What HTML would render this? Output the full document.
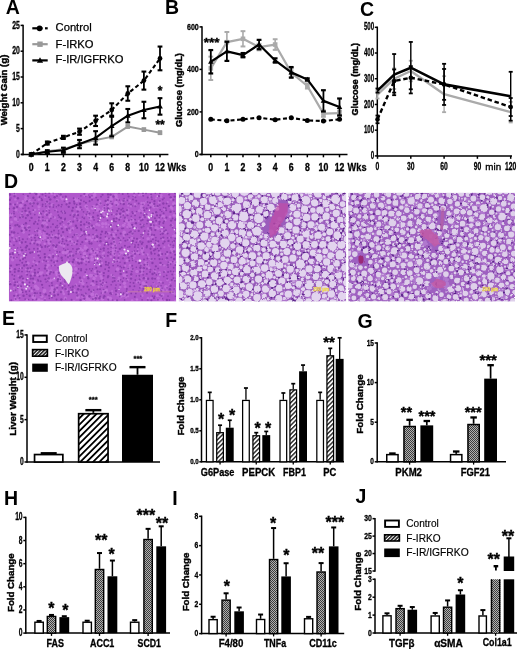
<!DOCTYPE html>
<html><head><meta charset="utf-8"><title>Figure</title>
<style>html,body{margin:0;padding:0;background:#fff;}svg{display:block;filter:blur(0.3px);font-family:"Liberation Sans",sans-serif;}</style>
</head><body>
<svg width="520" height="649" viewBox="0 0 520 649">
<defs>
<pattern id="hatchE" patternUnits="userSpaceOnUse" width="4.5" height="4.5" patternTransform="rotate(45)"><rect width="4.5" height="4.5" fill="#fff"/><rect width="1.8" height="4.5" fill="#000"/></pattern>
<pattern id="hatchF" patternUnits="userSpaceOnUse" width="3.2" height="3.2" patternTransform="rotate(45)"><rect width="3.2" height="3.2" fill="#fff"/><rect width="1.4" height="3.2" fill="#222"/></pattern>
<pattern id="hatchL" patternUnits="userSpaceOnUse" width="2.6" height="2.6" patternTransform="rotate(45)"><rect width="2.6" height="2.6" fill="#fff"/><rect width="1.6" height="2.6" fill="#222"/></pattern>
<pattern id="hatchG" patternUnits="userSpaceOnUse" width="2" height="2"><rect width="2" height="2" fill="#b0b0b0"/><rect width="1" height="1" fill="#3c3c3c"/><rect x="1" y="1" width="1" height="1" fill="#3c3c3c"/></pattern>
<clipPath id="clip11"><rect x="8.8" y="192.8" width="167.4" height="108.8"/></clipPath>
<clipPath id="clip22"><rect x="178.8" y="192.8" width="167.4" height="108.8"/></clipPath>
<clipPath id="clip33"><rect x="348.2" y="192.8" width="166.8" height="108.8"/></clipPath>
<filter id="soft" x="0" y="0" width="1" height="1"><feGaussianBlur stdDeviation="0.55"/></filter>
<filter id="wobble" x="0" y="0" width="1" height="1"><feTurbulence type="fractalNoise" baseFrequency="0.28" numOctaves="2" seed="3" result="n"/><feDisplacementMap in="SourceGraphic" in2="n" scale="2.6" xChannelSelector="R" yChannelSelector="G" result="d"/><feGaussianBlur in="d" stdDeviation="0.5"/></filter>
</defs>
<rect width="520" height="649" fill="#fff"/>
<text x="5.7" y="13.6" font-size="19.5" font-weight="bold" text-anchor="start" fill="#000">A</text>
<line x1="23.1" y1="24.65" x2="23.1" y2="155.15" stroke="#000" stroke-width="1.5"/>
<line x1="20.6" y1="154.4" x2="23.1" y2="154.4" stroke="#000" stroke-width="1.5"/>
<text font-size="10.4" font-weight="bold" text-anchor="end" fill="#000" stroke="#000" stroke-width="0.3" transform="translate(19.9 157.52) scale(0.66 1)">0</text>
<line x1="20.6" y1="128.6" x2="23.1" y2="128.6" stroke="#000" stroke-width="1.5"/>
<text font-size="10.4" font-weight="bold" text-anchor="end" fill="#000" stroke="#000" stroke-width="0.3" transform="translate(19.9 131.72) scale(0.66 1)">5</text>
<line x1="20.6" y1="102.8" x2="23.1" y2="102.8" stroke="#000" stroke-width="1.5"/>
<text font-size="10.4" font-weight="bold" text-anchor="end" fill="#000" stroke="#000" stroke-width="0.3" transform="translate(19.9 105.92) scale(0.66 1)">10</text>
<line x1="20.6" y1="77" x2="23.1" y2="77" stroke="#000" stroke-width="1.5"/>
<text font-size="10.4" font-weight="bold" text-anchor="end" fill="#000" stroke="#000" stroke-width="0.3" transform="translate(19.9 80.12) scale(0.66 1)">15</text>
<line x1="20.6" y1="51.2" x2="23.1" y2="51.2" stroke="#000" stroke-width="1.5"/>
<text font-size="10.4" font-weight="bold" text-anchor="end" fill="#000" stroke="#000" stroke-width="0.3" transform="translate(19.9 54.32) scale(0.66 1)">20</text>
<line x1="20.6" y1="25.4" x2="23.1" y2="25.4" stroke="#000" stroke-width="1.5"/>
<text font-size="10.4" font-weight="bold" text-anchor="end" fill="#000" stroke="#000" stroke-width="0.3" transform="translate(19.9 28.52) scale(0.66 1)">25</text>
<line x1="21" y1="154.4" x2="168.4" y2="154.4" stroke="#000" stroke-width="1.5"/>
<line x1="31.2" y1="154.4" x2="31.2" y2="157.3" stroke="#000" stroke-width="1.5"/>
<text font-size="10.4" font-weight="bold" text-anchor="middle" fill="#000" stroke="#000" stroke-width="0.35" transform="translate(31.2 171) scale(0.84 1)">0</text>
<line x1="47.3" y1="154.4" x2="47.3" y2="157.3" stroke="#000" stroke-width="1.5"/>
<text font-size="10.4" font-weight="bold" text-anchor="middle" fill="#000" stroke="#000" stroke-width="0.35" transform="translate(47.3 171) scale(0.84 1)">1</text>
<line x1="63.4" y1="154.4" x2="63.4" y2="157.3" stroke="#000" stroke-width="1.5"/>
<text font-size="10.4" font-weight="bold" text-anchor="middle" fill="#000" stroke="#000" stroke-width="0.35" transform="translate(63.4 171) scale(0.84 1)">2</text>
<line x1="79.5" y1="154.4" x2="79.5" y2="157.3" stroke="#000" stroke-width="1.5"/>
<text font-size="10.4" font-weight="bold" text-anchor="middle" fill="#000" stroke="#000" stroke-width="0.35" transform="translate(79.5 171) scale(0.84 1)">3</text>
<line x1="95.6" y1="154.4" x2="95.6" y2="157.3" stroke="#000" stroke-width="1.5"/>
<text font-size="10.4" font-weight="bold" text-anchor="middle" fill="#000" stroke="#000" stroke-width="0.35" transform="translate(95.6 171) scale(0.84 1)">4</text>
<line x1="111.7" y1="154.4" x2="111.7" y2="157.3" stroke="#000" stroke-width="1.5"/>
<text font-size="10.4" font-weight="bold" text-anchor="middle" fill="#000" stroke="#000" stroke-width="0.35" transform="translate(111.7 171) scale(0.84 1)">6</text>
<line x1="127.8" y1="154.4" x2="127.8" y2="157.3" stroke="#000" stroke-width="1.5"/>
<text font-size="10.4" font-weight="bold" text-anchor="middle" fill="#000" stroke="#000" stroke-width="0.35" transform="translate(127.8 171) scale(0.84 1)">8</text>
<line x1="143.9" y1="154.4" x2="143.9" y2="157.3" stroke="#000" stroke-width="1.5"/>
<text font-size="10.4" font-weight="bold" text-anchor="middle" fill="#000" stroke="#000" stroke-width="0.35" transform="translate(143.9 171) scale(0.84 1)">10</text>
<line x1="160" y1="154.4" x2="160" y2="157.3" stroke="#000" stroke-width="1.5"/>
<text font-size="10.4" font-weight="bold" text-anchor="middle" fill="#000" stroke="#000" stroke-width="0.35" transform="translate(160 171) scale(0.84 1)">12</text>
<text font-size="10" font-weight="bold" text-anchor="start" fill="#000" stroke="#000" stroke-width="0.25" transform="translate(167.4 171) scale(0.92 1)">Wks</text>
<text font-size="9.6" font-weight="bold" text-anchor="middle" fill="#000" stroke="#000" stroke-width="0.42" transform="translate(7.1 90) rotate(-90)">Weight Gain (g)</text>
<polyline points="31.2,154.4 47.3,151.3 63.4,149.24 79.5,144.08 95.6,139.95 111.7,136.86 127.8,126.54 143.9,129.63 160,132.73" fill="none" stroke="#999" stroke-width="2" stroke-linejoin="round"/>
<rect x="28.9" y="152.1" width="4.6" height="4.6" fill="#999"/>
<line x1="47.3" y1="151.3" x2="47.3" y2="150.27" stroke="#999" stroke-width="1.3"/>
<line x1="45.3" y1="150.27" x2="49.3" y2="150.27" stroke="#999" stroke-width="1.6"/>
<line x1="47.3" y1="151.3" x2="47.3" y2="152.34" stroke="#999" stroke-width="1.3"/>
<line x1="45.3" y1="152.34" x2="49.3" y2="152.34" stroke="#999" stroke-width="1.6"/>
<rect x="45" y="149" width="4.6" height="4.6" fill="#999"/>
<line x1="63.4" y1="149.24" x2="63.4" y2="148.21" stroke="#999" stroke-width="1.3"/>
<line x1="61.4" y1="148.21" x2="65.4" y2="148.21" stroke="#999" stroke-width="1.6"/>
<line x1="63.4" y1="149.24" x2="63.4" y2="150.27" stroke="#999" stroke-width="1.3"/>
<line x1="61.4" y1="150.27" x2="65.4" y2="150.27" stroke="#999" stroke-width="1.6"/>
<rect x="61.1" y="146.94" width="4.6" height="4.6" fill="#999"/>
<line x1="79.5" y1="144.08" x2="79.5" y2="142.53" stroke="#999" stroke-width="1.3"/>
<line x1="77.5" y1="142.53" x2="81.5" y2="142.53" stroke="#999" stroke-width="1.6"/>
<line x1="79.5" y1="144.08" x2="79.5" y2="145.63" stroke="#999" stroke-width="1.3"/>
<line x1="77.5" y1="145.63" x2="81.5" y2="145.63" stroke="#999" stroke-width="1.6"/>
<rect x="77.2" y="141.78" width="4.6" height="4.6" fill="#999"/>
<line x1="95.6" y1="139.95" x2="95.6" y2="138.4" stroke="#999" stroke-width="1.3"/>
<line x1="93.6" y1="138.4" x2="97.6" y2="138.4" stroke="#999" stroke-width="1.6"/>
<line x1="95.6" y1="139.95" x2="95.6" y2="141.5" stroke="#999" stroke-width="1.3"/>
<line x1="93.6" y1="141.5" x2="97.6" y2="141.5" stroke="#999" stroke-width="1.6"/>
<rect x="93.3" y="137.65" width="4.6" height="4.6" fill="#999"/>
<line x1="111.7" y1="136.86" x2="111.7" y2="135.31" stroke="#999" stroke-width="1.3"/>
<line x1="109.7" y1="135.31" x2="113.7" y2="135.31" stroke="#999" stroke-width="1.6"/>
<line x1="111.7" y1="136.86" x2="111.7" y2="138.4" stroke="#999" stroke-width="1.3"/>
<line x1="109.7" y1="138.4" x2="113.7" y2="138.4" stroke="#999" stroke-width="1.6"/>
<rect x="109.4" y="134.56" width="4.6" height="4.6" fill="#999"/>
<line x1="127.8" y1="126.54" x2="127.8" y2="124.99" stroke="#999" stroke-width="1.3"/>
<line x1="125.8" y1="124.99" x2="129.8" y2="124.99" stroke="#999" stroke-width="1.6"/>
<line x1="127.8" y1="126.54" x2="127.8" y2="128.08" stroke="#999" stroke-width="1.3"/>
<line x1="125.8" y1="128.08" x2="129.8" y2="128.08" stroke="#999" stroke-width="1.6"/>
<rect x="125.5" y="124.24" width="4.6" height="4.6" fill="#999"/>
<line x1="143.9" y1="129.63" x2="143.9" y2="128.34" stroke="#999" stroke-width="1.3"/>
<line x1="141.9" y1="128.34" x2="145.9" y2="128.34" stroke="#999" stroke-width="1.6"/>
<line x1="143.9" y1="129.63" x2="143.9" y2="130.92" stroke="#999" stroke-width="1.3"/>
<line x1="141.9" y1="130.92" x2="145.9" y2="130.92" stroke="#999" stroke-width="1.6"/>
<rect x="141.6" y="127.33" width="4.6" height="4.6" fill="#999"/>
<line x1="160" y1="132.73" x2="160" y2="131.18" stroke="#999" stroke-width="1.3"/>
<line x1="158" y1="131.18" x2="162" y2="131.18" stroke="#999" stroke-width="1.6"/>
<line x1="160" y1="132.73" x2="160" y2="134.28" stroke="#999" stroke-width="1.3"/>
<line x1="158" y1="134.28" x2="162" y2="134.28" stroke="#999" stroke-width="1.6"/>
<rect x="157.7" y="130.43" width="4.6" height="4.6" fill="#999"/>
<polyline points="31.2,154.4 47.3,143.05 63.4,137.37 79.5,131.7 95.6,120.86 111.7,110.02 127.8,93.51 143.9,80.61 160,58.42" fill="none" stroke="#000" stroke-width="2.1" stroke-linejoin="round" stroke-dasharray="4 2.6"/>
<line x1="31.2" y1="154.4" x2="31.2" y2="153.37" stroke="#000" stroke-width="1.8"/>
<line x1="28.8" y1="153.37" x2="33.6" y2="153.37" stroke="#000" stroke-width="2.1"/>
<line x1="31.2" y1="154.4" x2="31.2" y2="155.43" stroke="#000" stroke-width="1.8"/>
<line x1="28.8" y1="155.43" x2="33.6" y2="155.43" stroke="#000" stroke-width="2.1"/>
<circle cx="31.2" cy="154.4" r="2.4" fill="#000"/>
<line x1="47.3" y1="143.05" x2="47.3" y2="141.5" stroke="#000" stroke-width="1.8"/>
<line x1="44.9" y1="141.5" x2="49.7" y2="141.5" stroke="#000" stroke-width="2.1"/>
<line x1="47.3" y1="143.05" x2="47.3" y2="144.6" stroke="#000" stroke-width="1.8"/>
<line x1="44.9" y1="144.6" x2="49.7" y2="144.6" stroke="#000" stroke-width="2.1"/>
<circle cx="47.3" cy="143.05" r="2.4" fill="#000"/>
<line x1="63.4" y1="137.37" x2="63.4" y2="135.82" stroke="#000" stroke-width="1.8"/>
<line x1="61" y1="135.82" x2="65.8" y2="135.82" stroke="#000" stroke-width="2.1"/>
<line x1="63.4" y1="137.37" x2="63.4" y2="138.92" stroke="#000" stroke-width="1.8"/>
<line x1="61" y1="138.92" x2="65.8" y2="138.92" stroke="#000" stroke-width="2.1"/>
<circle cx="63.4" cy="137.37" r="2.4" fill="#000"/>
<line x1="79.5" y1="131.7" x2="79.5" y2="128.6" stroke="#000" stroke-width="1.8"/>
<line x1="77.1" y1="128.6" x2="81.9" y2="128.6" stroke="#000" stroke-width="2.1"/>
<line x1="79.5" y1="131.7" x2="79.5" y2="134.79" stroke="#000" stroke-width="1.8"/>
<line x1="77.1" y1="134.79" x2="81.9" y2="134.79" stroke="#000" stroke-width="2.1"/>
<circle cx="79.5" cy="131.7" r="2.4" fill="#000"/>
<line x1="95.6" y1="120.86" x2="95.6" y2="115.7" stroke="#000" stroke-width="1.8"/>
<line x1="93.2" y1="115.7" x2="98" y2="115.7" stroke="#000" stroke-width="2.1"/>
<line x1="95.6" y1="120.86" x2="95.6" y2="126.02" stroke="#000" stroke-width="1.8"/>
<line x1="93.2" y1="126.02" x2="98" y2="126.02" stroke="#000" stroke-width="2.1"/>
<circle cx="95.6" cy="120.86" r="2.4" fill="#000"/>
<line x1="111.7" y1="110.02" x2="111.7" y2="103.32" stroke="#000" stroke-width="1.8"/>
<line x1="109.3" y1="103.32" x2="114.1" y2="103.32" stroke="#000" stroke-width="2.1"/>
<line x1="111.7" y1="110.02" x2="111.7" y2="116.73" stroke="#000" stroke-width="1.8"/>
<line x1="109.3" y1="116.73" x2="114.1" y2="116.73" stroke="#000" stroke-width="2.1"/>
<circle cx="111.7" cy="110.02" r="2.4" fill="#000"/>
<line x1="127.8" y1="93.51" x2="127.8" y2="86.29" stroke="#000" stroke-width="1.8"/>
<line x1="125.4" y1="86.29" x2="130.2" y2="86.29" stroke="#000" stroke-width="2.1"/>
<line x1="127.8" y1="93.51" x2="127.8" y2="100.74" stroke="#000" stroke-width="1.8"/>
<line x1="125.4" y1="100.74" x2="130.2" y2="100.74" stroke="#000" stroke-width="2.1"/>
<circle cx="127.8" cy="93.51" r="2.4" fill="#000"/>
<line x1="143.9" y1="80.61" x2="143.9" y2="71.58" stroke="#000" stroke-width="1.8"/>
<line x1="141.5" y1="71.58" x2="146.3" y2="71.58" stroke="#000" stroke-width="2.1"/>
<line x1="143.9" y1="80.61" x2="143.9" y2="89.64" stroke="#000" stroke-width="1.8"/>
<line x1="141.5" y1="89.64" x2="146.3" y2="89.64" stroke="#000" stroke-width="2.1"/>
<circle cx="143.9" cy="80.61" r="2.4" fill="#000"/>
<line x1="160" y1="58.42" x2="160" y2="46.56" stroke="#000" stroke-width="1.8"/>
<line x1="157.6" y1="46.56" x2="162.4" y2="46.56" stroke="#000" stroke-width="2.1"/>
<line x1="160" y1="58.42" x2="160" y2="70.29" stroke="#000" stroke-width="1.8"/>
<line x1="157.6" y1="70.29" x2="162.4" y2="70.29" stroke="#000" stroke-width="2.1"/>
<circle cx="160" cy="58.42" r="2.4" fill="#000"/>
<polyline points="31.2,154.4 47.3,151.82 63.4,150.27 79.5,144.08 95.6,137.89 111.7,126.02 127.8,115.7 143.9,110.02 160,106.41" fill="none" stroke="#000" stroke-width="2.1" stroke-linejoin="round"/>
<polygon points="31.2,151.54 28.34,156.48 34.06,156.48" fill="#000"/>
<line x1="47.3" y1="151.82" x2="47.3" y2="150.27" stroke="#000" stroke-width="1.8"/>
<line x1="44.9" y1="150.27" x2="49.7" y2="150.27" stroke="#000" stroke-width="2.1"/>
<line x1="47.3" y1="151.82" x2="47.3" y2="153.37" stroke="#000" stroke-width="1.8"/>
<line x1="44.9" y1="153.37" x2="49.7" y2="153.37" stroke="#000" stroke-width="2.1"/>
<polygon points="47.3,148.96 44.44,153.9 50.16,153.9" fill="#000"/>
<line x1="63.4" y1="150.27" x2="63.4" y2="147.69" stroke="#000" stroke-width="1.8"/>
<line x1="61" y1="147.69" x2="65.8" y2="147.69" stroke="#000" stroke-width="2.1"/>
<line x1="63.4" y1="150.27" x2="63.4" y2="152.85" stroke="#000" stroke-width="1.8"/>
<line x1="61" y1="152.85" x2="65.8" y2="152.85" stroke="#000" stroke-width="2.1"/>
<polygon points="63.4,147.41 60.54,152.35 66.26,152.35" fill="#000"/>
<line x1="79.5" y1="144.08" x2="79.5" y2="139.95" stroke="#000" stroke-width="1.8"/>
<line x1="77.1" y1="139.95" x2="81.9" y2="139.95" stroke="#000" stroke-width="2.1"/>
<line x1="79.5" y1="144.08" x2="79.5" y2="148.21" stroke="#000" stroke-width="1.8"/>
<line x1="77.1" y1="148.21" x2="81.9" y2="148.21" stroke="#000" stroke-width="2.1"/>
<polygon points="79.5,141.22 76.64,146.16 82.36,146.16" fill="#000"/>
<line x1="95.6" y1="137.89" x2="95.6" y2="131.18" stroke="#000" stroke-width="1.8"/>
<line x1="93.2" y1="131.18" x2="98" y2="131.18" stroke="#000" stroke-width="2.1"/>
<line x1="95.6" y1="137.89" x2="95.6" y2="144.6" stroke="#000" stroke-width="1.8"/>
<line x1="93.2" y1="144.6" x2="98" y2="144.6" stroke="#000" stroke-width="2.1"/>
<polygon points="95.6,135.03 92.74,139.97 98.46,139.97" fill="#000"/>
<line x1="111.7" y1="126.02" x2="111.7" y2="115.7" stroke="#000" stroke-width="1.8"/>
<line x1="109.3" y1="115.7" x2="114.1" y2="115.7" stroke="#000" stroke-width="2.1"/>
<line x1="111.7" y1="126.02" x2="111.7" y2="136.34" stroke="#000" stroke-width="1.8"/>
<line x1="109.3" y1="136.34" x2="114.1" y2="136.34" stroke="#000" stroke-width="2.1"/>
<polygon points="111.7,123.16 108.84,128.1 114.56,128.1" fill="#000"/>
<line x1="127.8" y1="115.7" x2="127.8" y2="108.99" stroke="#000" stroke-width="1.8"/>
<line x1="125.4" y1="108.99" x2="130.2" y2="108.99" stroke="#000" stroke-width="2.1"/>
<line x1="127.8" y1="115.7" x2="127.8" y2="122.41" stroke="#000" stroke-width="1.8"/>
<line x1="125.4" y1="122.41" x2="130.2" y2="122.41" stroke="#000" stroke-width="2.1"/>
<polygon points="127.8,112.84 124.94,117.78 130.66,117.78" fill="#000"/>
<line x1="143.9" y1="110.02" x2="143.9" y2="101.77" stroke="#000" stroke-width="1.8"/>
<line x1="141.5" y1="101.77" x2="146.3" y2="101.77" stroke="#000" stroke-width="2.1"/>
<line x1="143.9" y1="110.02" x2="143.9" y2="118.28" stroke="#000" stroke-width="1.8"/>
<line x1="141.5" y1="118.28" x2="146.3" y2="118.28" stroke="#000" stroke-width="2.1"/>
<polygon points="143.9,107.16 141.04,112.1 146.76,112.1" fill="#000"/>
<line x1="160" y1="106.41" x2="160" y2="98.16" stroke="#000" stroke-width="1.8"/>
<line x1="157.6" y1="98.16" x2="162.4" y2="98.16" stroke="#000" stroke-width="2.1"/>
<line x1="160" y1="106.41" x2="160" y2="114.67" stroke="#000" stroke-width="1.8"/>
<line x1="157.6" y1="114.67" x2="162.4" y2="114.67" stroke="#000" stroke-width="2.1"/>
<polygon points="160,103.55 157.14,108.49 162.86,108.49" fill="#000"/>
<text x="160.2" y="94.82" font-size="12" font-weight="bold" text-anchor="middle" fill="#000" stroke="#000" stroke-width="0.35">*</text>
<text x="160.1" y="129.42" font-size="12" font-weight="bold" text-anchor="middle" fill="#000" stroke="#000" stroke-width="0.35">**</text>
<line x1="32.3" y1="28.3" x2="42.5" y2="28.3" stroke="#000" stroke-width="2.2"/>
<line x1="45" y1="28.3" x2="47.7" y2="28.3" stroke="#000" stroke-width="2.2"/>
<circle cx="39.6" cy="28.3" r="2.9" fill="#000"/>
<line x1="32.3" y1="44.2" x2="47.7" y2="44.2" stroke="#999" stroke-width="2.2"/>
<rect x="37.3" y="41.5" width="5.4" height="5.4" fill="#999"/>
<line x1="32.3" y1="60.4" x2="47.7" y2="60.4" stroke="#000" stroke-width="2.2"/>
<polygon points="40,57.32 36.92,62.64 43.08,62.64" fill="#000"/>
<text x="55.6" y="31.4" font-size="11.2" text-anchor="start" fill="#000" stroke="#000" stroke-width="0.25">Control</text>
<text x="55.6" y="47.7" font-size="11.2" text-anchor="start" fill="#000" stroke="#000" stroke-width="0.25">F-IRKO</text>
<text x="55.6" y="63" font-size="11.2" text-anchor="start" fill="#000" stroke="#000" stroke-width="0.25">F-IR/IGFRKO</text>
<text x="164.9" y="13.6" font-size="19.5" font-weight="bold" text-anchor="start" fill="#000">B</text>
<line x1="202" y1="26.15" x2="202" y2="155.15" stroke="#000" stroke-width="1.5"/>
<line x1="199.5" y1="154.4" x2="202" y2="154.4" stroke="#000" stroke-width="1.5"/>
<text font-size="9.6" font-weight="bold" text-anchor="end" fill="#000" stroke="#000" stroke-width="0.3" transform="translate(198.8 157.28) scale(0.74 1)">0</text>
<line x1="199.5" y1="111.9" x2="202" y2="111.9" stroke="#000" stroke-width="1.5"/>
<text font-size="9.6" font-weight="bold" text-anchor="end" fill="#000" stroke="#000" stroke-width="0.3" transform="translate(198.8 114.78) scale(0.74 1)">200</text>
<line x1="199.5" y1="69.4" x2="202" y2="69.4" stroke="#000" stroke-width="1.5"/>
<text font-size="9.6" font-weight="bold" text-anchor="end" fill="#000" stroke="#000" stroke-width="0.3" transform="translate(198.8 72.28) scale(0.74 1)">400</text>
<line x1="199.5" y1="26.9" x2="202" y2="26.9" stroke="#000" stroke-width="1.5"/>
<text font-size="9.6" font-weight="bold" text-anchor="end" fill="#000" stroke="#000" stroke-width="0.3" transform="translate(198.8 29.78) scale(0.74 1)">600</text>
<line x1="199.5" y1="154.4" x2="347.5" y2="154.4" stroke="#000" stroke-width="1.5"/>
<line x1="210.8" y1="154.4" x2="210.8" y2="157.3" stroke="#000" stroke-width="1.5"/>
<text font-size="10.4" font-weight="bold" text-anchor="middle" fill="#000" stroke="#000" stroke-width="0.35" transform="translate(210.8 171) scale(0.84 1)">0</text>
<line x1="226.89" y1="154.4" x2="226.89" y2="157.3" stroke="#000" stroke-width="1.5"/>
<text font-size="10.4" font-weight="bold" text-anchor="middle" fill="#000" stroke="#000" stroke-width="0.35" transform="translate(226.89 171) scale(0.84 1)">1</text>
<line x1="242.98" y1="154.4" x2="242.98" y2="157.3" stroke="#000" stroke-width="1.5"/>
<text font-size="10.4" font-weight="bold" text-anchor="middle" fill="#000" stroke="#000" stroke-width="0.35" transform="translate(242.98 171) scale(0.84 1)">2</text>
<line x1="259.07" y1="154.4" x2="259.07" y2="157.3" stroke="#000" stroke-width="1.5"/>
<text font-size="10.4" font-weight="bold" text-anchor="middle" fill="#000" stroke="#000" stroke-width="0.35" transform="translate(259.07 171) scale(0.84 1)">3</text>
<line x1="275.16" y1="154.4" x2="275.16" y2="157.3" stroke="#000" stroke-width="1.5"/>
<text font-size="10.4" font-weight="bold" text-anchor="middle" fill="#000" stroke="#000" stroke-width="0.35" transform="translate(275.16 171) scale(0.84 1)">4</text>
<line x1="291.25" y1="154.4" x2="291.25" y2="157.3" stroke="#000" stroke-width="1.5"/>
<text font-size="10.4" font-weight="bold" text-anchor="middle" fill="#000" stroke="#000" stroke-width="0.35" transform="translate(291.25 171) scale(0.84 1)">6</text>
<line x1="307.34" y1="154.4" x2="307.34" y2="157.3" stroke="#000" stroke-width="1.5"/>
<text font-size="10.4" font-weight="bold" text-anchor="middle" fill="#000" stroke="#000" stroke-width="0.35" transform="translate(307.34 171) scale(0.84 1)">8</text>
<line x1="323.43" y1="154.4" x2="323.43" y2="157.3" stroke="#000" stroke-width="1.5"/>
<text font-size="10.4" font-weight="bold" text-anchor="middle" fill="#000" stroke="#000" stroke-width="0.35" transform="translate(323.43 171) scale(0.84 1)">10</text>
<line x1="339.52" y1="154.4" x2="339.52" y2="157.3" stroke="#000" stroke-width="1.5"/>
<text font-size="10.4" font-weight="bold" text-anchor="middle" fill="#000" stroke="#000" stroke-width="0.35" transform="translate(339.52 171) scale(0.84 1)">12</text>
<text font-size="10" font-weight="bold" text-anchor="start" fill="#000" stroke="#000" stroke-width="0.25" transform="translate(347.6 171) scale(0.92 1)">Wks</text>
<text font-size="9.4" font-weight="bold" text-anchor="middle" fill="#000" stroke="#000" stroke-width="0.42" transform="translate(181.5 90) rotate(-90)">Glucose (mg/dL)</text>
<polyline points="210.8,68.34 226.89,42.2 242.98,38.8 259.07,47.09 275.16,44.54 291.25,72.59 307.34,85.98 323.43,113.6 339.52,113.18" fill="none" stroke="#aaa" stroke-width="2.2" stroke-linejoin="round"/>
<line x1="210.8" y1="68.34" x2="210.8" y2="56.65" stroke="#aaa" stroke-width="1.6"/>
<line x1="208.4" y1="56.65" x2="213.2" y2="56.65" stroke="#aaa" stroke-width="2"/>
<line x1="210.8" y1="68.34" x2="210.8" y2="80.03" stroke="#aaa" stroke-width="1.6"/>
<line x1="208.4" y1="80.03" x2="213.2" y2="80.03" stroke="#aaa" stroke-width="2"/>
<rect x="208.5" y="66.04" width="4.6" height="4.6" fill="#aaa"/>
<line x1="226.89" y1="42.2" x2="226.89" y2="32" stroke="#aaa" stroke-width="1.6"/>
<line x1="224.49" y1="32" x2="229.29" y2="32" stroke="#aaa" stroke-width="2"/>
<line x1="226.89" y1="42.2" x2="226.89" y2="52.4" stroke="#aaa" stroke-width="1.6"/>
<line x1="224.49" y1="52.4" x2="229.29" y2="52.4" stroke="#aaa" stroke-width="2"/>
<rect x="224.59" y="39.9" width="4.6" height="4.6" fill="#aaa"/>
<line x1="242.98" y1="38.8" x2="242.98" y2="31.15" stroke="#aaa" stroke-width="1.6"/>
<line x1="240.58" y1="31.15" x2="245.38" y2="31.15" stroke="#aaa" stroke-width="2"/>
<line x1="242.98" y1="38.8" x2="242.98" y2="46.45" stroke="#aaa" stroke-width="1.6"/>
<line x1="240.58" y1="46.45" x2="245.38" y2="46.45" stroke="#aaa" stroke-width="2"/>
<rect x="240.68" y="36.5" width="4.6" height="4.6" fill="#aaa"/>
<line x1="259.07" y1="47.09" x2="259.07" y2="43.9" stroke="#aaa" stroke-width="1.6"/>
<line x1="256.67" y1="43.9" x2="261.47" y2="43.9" stroke="#aaa" stroke-width="2"/>
<line x1="259.07" y1="47.09" x2="259.07" y2="50.28" stroke="#aaa" stroke-width="1.6"/>
<line x1="256.67" y1="50.28" x2="261.47" y2="50.28" stroke="#aaa" stroke-width="2"/>
<rect x="256.77" y="44.79" width="4.6" height="4.6" fill="#aaa"/>
<line x1="275.16" y1="44.54" x2="275.16" y2="39.23" stroke="#aaa" stroke-width="1.6"/>
<line x1="272.76" y1="39.23" x2="277.56" y2="39.23" stroke="#aaa" stroke-width="2"/>
<line x1="275.16" y1="44.54" x2="275.16" y2="49.85" stroke="#aaa" stroke-width="1.6"/>
<line x1="272.76" y1="49.85" x2="277.56" y2="49.85" stroke="#aaa" stroke-width="2"/>
<rect x="272.86" y="42.24" width="4.6" height="4.6" fill="#aaa"/>
<line x1="291.25" y1="72.59" x2="291.25" y2="68.34" stroke="#aaa" stroke-width="1.6"/>
<line x1="288.85" y1="68.34" x2="293.65" y2="68.34" stroke="#aaa" stroke-width="2"/>
<line x1="291.25" y1="72.59" x2="291.25" y2="76.84" stroke="#aaa" stroke-width="1.6"/>
<line x1="288.85" y1="76.84" x2="293.65" y2="76.84" stroke="#aaa" stroke-width="2"/>
<rect x="288.95" y="70.29" width="4.6" height="4.6" fill="#aaa"/>
<line x1="307.34" y1="85.98" x2="307.34" y2="83.43" stroke="#aaa" stroke-width="1.6"/>
<line x1="304.94" y1="83.43" x2="309.74" y2="83.43" stroke="#aaa" stroke-width="2"/>
<line x1="307.34" y1="85.98" x2="307.34" y2="88.53" stroke="#aaa" stroke-width="1.6"/>
<line x1="304.94" y1="88.53" x2="309.74" y2="88.53" stroke="#aaa" stroke-width="2"/>
<rect x="305.04" y="83.68" width="4.6" height="4.6" fill="#aaa"/>
<line x1="323.43" y1="113.6" x2="323.43" y2="110.41" stroke="#aaa" stroke-width="1.6"/>
<line x1="321.03" y1="110.41" x2="325.83" y2="110.41" stroke="#aaa" stroke-width="2"/>
<line x1="323.43" y1="113.6" x2="323.43" y2="116.79" stroke="#aaa" stroke-width="1.6"/>
<line x1="321.03" y1="116.79" x2="325.83" y2="116.79" stroke="#aaa" stroke-width="2"/>
<rect x="321.13" y="111.3" width="4.6" height="4.6" fill="#aaa"/>
<line x1="339.52" y1="113.18" x2="339.52" y2="110.62" stroke="#aaa" stroke-width="1.6"/>
<line x1="337.12" y1="110.62" x2="341.92" y2="110.62" stroke="#aaa" stroke-width="2"/>
<line x1="339.52" y1="113.18" x2="339.52" y2="115.73" stroke="#aaa" stroke-width="1.6"/>
<line x1="337.12" y1="115.73" x2="341.92" y2="115.73" stroke="#aaa" stroke-width="2"/>
<rect x="337.22" y="110.88" width="4.6" height="4.6" fill="#aaa"/>
<polyline points="210.8,119.34 226.89,120.83 242.98,119.34 259.07,117.64 275.16,119.76 291.25,117.85 307.34,120.4 323.43,121.04 339.52,119.34" fill="none" stroke="#000" stroke-width="2.1" stroke-linejoin="round" stroke-dasharray="4 2.6"/>
<circle cx="210.8" cy="119.34" r="2.5" fill="#000"/>
<circle cx="226.89" cy="120.83" r="2.5" fill="#000"/>
<circle cx="242.98" cy="119.34" r="2.5" fill="#000"/>
<circle cx="259.07" cy="117.64" r="2.5" fill="#000"/>
<circle cx="275.16" cy="119.76" r="2.5" fill="#000"/>
<circle cx="291.25" cy="117.85" r="2.5" fill="#000"/>
<circle cx="307.34" cy="120.4" r="2.5" fill="#000"/>
<circle cx="323.43" cy="121.04" r="2.5" fill="#000"/>
<circle cx="339.52" cy="119.34" r="2.5" fill="#000"/>
<polyline points="210.8,61.75 226.89,51.34 242.98,55.16 259.07,44.54 275.16,60.48 291.25,72.38 307.34,79.39 323.43,100.85 339.52,107.01" fill="none" stroke="#000" stroke-width="2.2" stroke-linejoin="round"/>
<line x1="210.8" y1="61.75" x2="210.8" y2="50.06" stroke="#000" stroke-width="1.8"/>
<line x1="208.4" y1="50.06" x2="213.2" y2="50.06" stroke="#000" stroke-width="2.2"/>
<line x1="210.8" y1="61.75" x2="210.8" y2="73.44" stroke="#000" stroke-width="1.8"/>
<line x1="208.4" y1="73.44" x2="213.2" y2="73.44" stroke="#000" stroke-width="2.2"/>
<polygon points="210.8,59 208.05,63.75 213.55,63.75" fill="#000"/>
<line x1="226.89" y1="51.34" x2="226.89" y2="41.78" stroke="#000" stroke-width="1.8"/>
<line x1="224.49" y1="41.78" x2="229.29" y2="41.78" stroke="#000" stroke-width="2.2"/>
<line x1="226.89" y1="51.34" x2="226.89" y2="60.9" stroke="#000" stroke-width="1.8"/>
<line x1="224.49" y1="60.9" x2="229.29" y2="60.9" stroke="#000" stroke-width="2.2"/>
<polygon points="226.89,48.59 224.14,53.34 229.64,53.34" fill="#000"/>
<line x1="242.98" y1="55.16" x2="242.98" y2="53.04" stroke="#000" stroke-width="1.8"/>
<line x1="240.58" y1="53.04" x2="245.38" y2="53.04" stroke="#000" stroke-width="2.2"/>
<line x1="242.98" y1="55.16" x2="242.98" y2="57.29" stroke="#000" stroke-width="1.8"/>
<line x1="240.58" y1="57.29" x2="245.38" y2="57.29" stroke="#000" stroke-width="2.2"/>
<polygon points="242.98,52.41 240.23,57.16 245.73,57.16" fill="#000"/>
<line x1="259.07" y1="44.54" x2="259.07" y2="39.86" stroke="#000" stroke-width="1.8"/>
<line x1="256.67" y1="39.86" x2="261.47" y2="39.86" stroke="#000" stroke-width="2.2"/>
<line x1="259.07" y1="44.54" x2="259.07" y2="49.21" stroke="#000" stroke-width="1.8"/>
<line x1="256.67" y1="49.21" x2="261.47" y2="49.21" stroke="#000" stroke-width="2.2"/>
<polygon points="259.07,41.79 256.32,46.54 261.82,46.54" fill="#000"/>
<line x1="275.16" y1="60.48" x2="275.16" y2="58.35" stroke="#000" stroke-width="1.8"/>
<line x1="272.76" y1="58.35" x2="277.56" y2="58.35" stroke="#000" stroke-width="2.2"/>
<line x1="275.16" y1="60.48" x2="275.16" y2="62.6" stroke="#000" stroke-width="1.8"/>
<line x1="272.76" y1="62.6" x2="277.56" y2="62.6" stroke="#000" stroke-width="2.2"/>
<polygon points="275.16,57.73 272.41,62.48 277.91,62.48" fill="#000"/>
<line x1="291.25" y1="72.38" x2="291.25" y2="67.06" stroke="#000" stroke-width="1.8"/>
<line x1="288.85" y1="67.06" x2="293.65" y2="67.06" stroke="#000" stroke-width="2.2"/>
<line x1="291.25" y1="72.38" x2="291.25" y2="77.69" stroke="#000" stroke-width="1.8"/>
<line x1="288.85" y1="77.69" x2="293.65" y2="77.69" stroke="#000" stroke-width="2.2"/>
<polygon points="291.25,69.63 288.5,74.38 294,74.38" fill="#000"/>
<line x1="307.34" y1="79.39" x2="307.34" y2="78.33" stroke="#000" stroke-width="1.8"/>
<line x1="304.94" y1="78.33" x2="309.74" y2="78.33" stroke="#000" stroke-width="2.2"/>
<line x1="307.34" y1="79.39" x2="307.34" y2="80.45" stroke="#000" stroke-width="1.8"/>
<line x1="304.94" y1="80.45" x2="309.74" y2="80.45" stroke="#000" stroke-width="2.2"/>
<polygon points="307.34,76.64 304.59,81.39 310.09,81.39" fill="#000"/>
<line x1="323.43" y1="100.85" x2="323.43" y2="90.23" stroke="#000" stroke-width="1.8"/>
<line x1="321.03" y1="90.23" x2="325.83" y2="90.23" stroke="#000" stroke-width="2.2"/>
<line x1="323.43" y1="100.85" x2="323.43" y2="111.48" stroke="#000" stroke-width="1.8"/>
<line x1="321.03" y1="111.48" x2="325.83" y2="111.48" stroke="#000" stroke-width="2.2"/>
<polygon points="323.43,98.1 320.68,102.85 326.18,102.85" fill="#000"/>
<line x1="339.52" y1="107.01" x2="339.52" y2="98.51" stroke="#000" stroke-width="1.8"/>
<line x1="337.12" y1="98.51" x2="341.92" y2="98.51" stroke="#000" stroke-width="2.2"/>
<line x1="339.52" y1="107.01" x2="339.52" y2="115.51" stroke="#000" stroke-width="1.8"/>
<line x1="337.12" y1="115.51" x2="341.92" y2="115.51" stroke="#000" stroke-width="2.2"/>
<polygon points="339.52,104.26 336.77,109.01 342.27,109.01" fill="#000"/>
<text x="211.7" y="46.78" font-size="13.5" font-weight="bold" text-anchor="middle" fill="#000" stroke="#000" stroke-width="0.35">***</text>
<text x="359.9" y="15.8" font-size="19.5" font-weight="bold" text-anchor="start" fill="#000">C</text>
<line x1="377.3" y1="26.55" x2="377.3" y2="156.65" stroke="#000" stroke-width="1.5"/>
<line x1="374.8" y1="155.9" x2="377.3" y2="155.9" stroke="#000" stroke-width="1.5"/>
<text font-size="10.2" font-weight="bold" text-anchor="end" fill="#000" stroke="#000" stroke-width="0.3" transform="translate(374.1 158.96) scale(0.6 1)">0</text>
<line x1="374.8" y1="130.18" x2="377.3" y2="130.18" stroke="#000" stroke-width="1.5"/>
<text font-size="10.2" font-weight="bold" text-anchor="end" fill="#000" stroke="#000" stroke-width="0.3" transform="translate(374.1 133.24) scale(0.6 1)">100</text>
<line x1="374.8" y1="104.46" x2="377.3" y2="104.46" stroke="#000" stroke-width="1.5"/>
<text font-size="10.2" font-weight="bold" text-anchor="end" fill="#000" stroke="#000" stroke-width="0.3" transform="translate(374.1 107.52) scale(0.6 1)">200</text>
<line x1="374.8" y1="78.74" x2="377.3" y2="78.74" stroke="#000" stroke-width="1.5"/>
<text font-size="10.2" font-weight="bold" text-anchor="end" fill="#000" stroke="#000" stroke-width="0.3" transform="translate(374.1 81.8) scale(0.6 1)">300</text>
<line x1="374.8" y1="53.02" x2="377.3" y2="53.02" stroke="#000" stroke-width="1.5"/>
<text font-size="10.2" font-weight="bold" text-anchor="end" fill="#000" stroke="#000" stroke-width="0.3" transform="translate(374.1 56.08) scale(0.6 1)">400</text>
<line x1="374.8" y1="27.3" x2="377.3" y2="27.3" stroke="#000" stroke-width="1.5"/>
<text font-size="10.2" font-weight="bold" text-anchor="end" fill="#000" stroke="#000" stroke-width="0.3" transform="translate(374.1 30.36) scale(0.6 1)">500</text>
<line x1="377.3" y1="155.9" x2="512" y2="155.9" stroke="#000" stroke-width="1.5"/>
<line x1="377.5" y1="155.9" x2="377.5" y2="158.8" stroke="#000" stroke-width="1.5"/>
<text font-size="10.6" font-weight="bold" text-anchor="middle" fill="#000" stroke="#000" stroke-width="0.3" transform="translate(377.5 170.2) scale(0.64 1)">0</text>
<line x1="410.8" y1="155.9" x2="410.8" y2="158.8" stroke="#000" stroke-width="1.5"/>
<text font-size="10.6" font-weight="bold" text-anchor="middle" fill="#000" stroke="#000" stroke-width="0.3" transform="translate(410.8 170.2) scale(0.64 1)">30</text>
<line x1="444.1" y1="155.9" x2="444.1" y2="158.8" stroke="#000" stroke-width="1.5"/>
<text font-size="10.6" font-weight="bold" text-anchor="middle" fill="#000" stroke="#000" stroke-width="0.3" transform="translate(444.1 170.2) scale(0.64 1)">60</text>
<line x1="477.4" y1="155.9" x2="477.4" y2="158.8" stroke="#000" stroke-width="1.5"/>
<text font-size="10.6" font-weight="bold" text-anchor="middle" fill="#000" stroke="#000" stroke-width="0.3" transform="translate(477.4 170.2) scale(0.64 1)">90</text>
<line x1="510.7" y1="155.9" x2="510.7" y2="158.8" stroke="#000" stroke-width="1.5"/>
<text font-size="10.6" font-weight="bold" text-anchor="middle" fill="#000" stroke="#000" stroke-width="0.3" transform="translate(510.7 170.2) scale(0.64 1)">120</text>
<text x="493.2" y="169.8" font-size="9.8" text-anchor="middle" fill="#000" stroke="#000" stroke-width="0.35">min</text>
<text font-size="9.2" font-weight="bold" text-anchor="middle" fill="#000" stroke="#000" stroke-width="0.42" transform="translate(357.8 79.3) rotate(-90)">Glucose (mg/dL)</text>
<polyline points="377.5,94.69 394.15,78.74 410.8,71.02 444.1,94.17 510.7,112.18" fill="none" stroke="#aaa" stroke-width="2.4" stroke-linejoin="round"/>
<line x1="377.5" y1="94.69" x2="377.5" y2="90.83" stroke="#aaa" stroke-width="1.4"/>
<line x1="375.5" y1="90.83" x2="379.5" y2="90.83" stroke="#aaa" stroke-width="1.8"/>
<line x1="377.5" y1="94.69" x2="377.5" y2="98.54" stroke="#aaa" stroke-width="1.4"/>
<line x1="375.5" y1="98.54" x2="379.5" y2="98.54" stroke="#aaa" stroke-width="1.8"/>
<line x1="394.15" y1="78.74" x2="394.15" y2="68.45" stroke="#aaa" stroke-width="1.4"/>
<line x1="392.15" y1="68.45" x2="396.15" y2="68.45" stroke="#aaa" stroke-width="1.8"/>
<line x1="394.15" y1="78.74" x2="394.15" y2="89.03" stroke="#aaa" stroke-width="1.4"/>
<line x1="392.15" y1="89.03" x2="396.15" y2="89.03" stroke="#aaa" stroke-width="1.8"/>
<line x1="410.8" y1="71.02" x2="410.8" y2="60.74" stroke="#aaa" stroke-width="1.4"/>
<line x1="408.8" y1="60.74" x2="412.8" y2="60.74" stroke="#aaa" stroke-width="1.8"/>
<line x1="410.8" y1="71.02" x2="410.8" y2="81.31" stroke="#aaa" stroke-width="1.4"/>
<line x1="408.8" y1="81.31" x2="412.8" y2="81.31" stroke="#aaa" stroke-width="1.8"/>
<line x1="444.1" y1="94.17" x2="444.1" y2="76.17" stroke="#aaa" stroke-width="1.4"/>
<line x1="442.1" y1="76.17" x2="446.1" y2="76.17" stroke="#aaa" stroke-width="1.8"/>
<line x1="444.1" y1="94.17" x2="444.1" y2="112.18" stroke="#aaa" stroke-width="1.4"/>
<line x1="442.1" y1="112.18" x2="446.1" y2="112.18" stroke="#aaa" stroke-width="1.8"/>
<line x1="510.7" y1="112.18" x2="510.7" y2="101.89" stroke="#aaa" stroke-width="1.4"/>
<line x1="508.7" y1="101.89" x2="512.7" y2="101.89" stroke="#aaa" stroke-width="1.8"/>
<line x1="510.7" y1="112.18" x2="510.7" y2="122.46" stroke="#aaa" stroke-width="1.4"/>
<line x1="508.7" y1="122.46" x2="512.7" y2="122.46" stroke="#aaa" stroke-width="1.8"/>
<polyline points="377.5,119.38 394.15,81.05 410.8,77.71 444.1,84.4 510.7,107.03" fill="none" stroke="#000" stroke-width="2.4" stroke-linejoin="round" stroke-dasharray="4.5 2.8"/>
<line x1="377.5" y1="119.38" x2="377.5" y2="115.52" stroke="#000" stroke-width="1.4"/>
<line x1="375.5" y1="115.52" x2="379.5" y2="115.52" stroke="#000" stroke-width="1.8"/>
<line x1="377.5" y1="119.38" x2="377.5" y2="123.24" stroke="#000" stroke-width="1.4"/>
<line x1="375.5" y1="123.24" x2="379.5" y2="123.24" stroke="#000" stroke-width="1.8"/>
<circle cx="377.5" cy="119.38" r="2.3" fill="#000"/>
<line x1="394.15" y1="81.05" x2="394.15" y2="69.48" stroke="#000" stroke-width="1.4"/>
<line x1="392.15" y1="69.48" x2="396.15" y2="69.48" stroke="#000" stroke-width="1.8"/>
<line x1="394.15" y1="81.05" x2="394.15" y2="92.63" stroke="#000" stroke-width="1.4"/>
<line x1="392.15" y1="92.63" x2="396.15" y2="92.63" stroke="#000" stroke-width="1.8"/>
<circle cx="394.15" cy="81.05" r="2.3" fill="#000"/>
<line x1="410.8" y1="77.71" x2="410.8" y2="66.14" stroke="#000" stroke-width="1.4"/>
<line x1="408.8" y1="66.14" x2="412.8" y2="66.14" stroke="#000" stroke-width="1.8"/>
<line x1="410.8" y1="77.71" x2="410.8" y2="89.29" stroke="#000" stroke-width="1.4"/>
<line x1="408.8" y1="89.29" x2="412.8" y2="89.29" stroke="#000" stroke-width="1.8"/>
<circle cx="410.8" cy="77.71" r="2.3" fill="#000"/>
<line x1="444.1" y1="84.4" x2="444.1" y2="68.97" stroke="#000" stroke-width="1.4"/>
<line x1="442.1" y1="68.97" x2="446.1" y2="68.97" stroke="#000" stroke-width="1.8"/>
<line x1="444.1" y1="84.4" x2="444.1" y2="99.83" stroke="#000" stroke-width="1.4"/>
<line x1="442.1" y1="99.83" x2="446.1" y2="99.83" stroke="#000" stroke-width="1.8"/>
<circle cx="444.1" cy="84.4" r="2.3" fill="#000"/>
<line x1="510.7" y1="107.03" x2="510.7" y2="98.03" stroke="#000" stroke-width="1.4"/>
<line x1="508.7" y1="98.03" x2="512.7" y2="98.03" stroke="#000" stroke-width="1.8"/>
<line x1="510.7" y1="107.03" x2="510.7" y2="116.03" stroke="#000" stroke-width="1.4"/>
<line x1="508.7" y1="116.03" x2="512.7" y2="116.03" stroke="#000" stroke-width="1.8"/>
<circle cx="510.7" cy="107.03" r="2.3" fill="#000"/>
<polyline points="377.5,90.57 394.15,74.62 410.8,67.68 444.1,84.4 510.7,96.23" fill="none" stroke="#000" stroke-width="2.6" stroke-linejoin="round"/>
<line x1="377.5" y1="90.57" x2="377.5" y2="88.51" stroke="#000" stroke-width="1.4"/>
<line x1="375.5" y1="88.51" x2="379.5" y2="88.51" stroke="#000" stroke-width="1.8"/>
<line x1="377.5" y1="90.57" x2="377.5" y2="92.63" stroke="#000" stroke-width="1.4"/>
<line x1="375.5" y1="92.63" x2="379.5" y2="92.63" stroke="#000" stroke-width="1.8"/>
<line x1="394.15" y1="74.62" x2="394.15" y2="54.05" stroke="#000" stroke-width="1.4"/>
<line x1="392.15" y1="54.05" x2="396.15" y2="54.05" stroke="#000" stroke-width="1.8"/>
<line x1="394.15" y1="74.62" x2="394.15" y2="95.2" stroke="#000" stroke-width="1.4"/>
<line x1="392.15" y1="95.2" x2="396.15" y2="95.2" stroke="#000" stroke-width="1.8"/>
<line x1="410.8" y1="67.68" x2="410.8" y2="41.96" stroke="#000" stroke-width="1.4"/>
<line x1="408.8" y1="41.96" x2="412.8" y2="41.96" stroke="#000" stroke-width="1.8"/>
<line x1="410.8" y1="67.68" x2="410.8" y2="93.4" stroke="#000" stroke-width="1.4"/>
<line x1="408.8" y1="93.4" x2="412.8" y2="93.4" stroke="#000" stroke-width="1.8"/>
<line x1="444.1" y1="84.4" x2="444.1" y2="63.82" stroke="#000" stroke-width="1.4"/>
<line x1="442.1" y1="63.82" x2="446.1" y2="63.82" stroke="#000" stroke-width="1.8"/>
<line x1="444.1" y1="84.4" x2="444.1" y2="104.97" stroke="#000" stroke-width="1.4"/>
<line x1="442.1" y1="104.97" x2="446.1" y2="104.97" stroke="#000" stroke-width="1.8"/>
<line x1="510.7" y1="96.23" x2="510.7" y2="71.8" stroke="#000" stroke-width="1.4"/>
<line x1="508.7" y1="71.8" x2="512.7" y2="71.8" stroke="#000" stroke-width="1.8"/>
<line x1="510.7" y1="96.23" x2="510.7" y2="120.66" stroke="#000" stroke-width="1.4"/>
<line x1="508.7" y1="120.66" x2="512.7" y2="120.66" stroke="#000" stroke-width="1.8"/>
<text x="4" y="188.3" font-size="19.5" font-weight="bold" text-anchor="start" fill="#000">D</text>
<g clip-path="url(#clip11)">
<g filter="url(#soft)">
<rect x="8.8" y="192.8" width="167.4" height="108.8" fill="#b058cc"/>
<g fill="#d084e6" opacity="0.5"><circle cx="84.53" cy="253.7" r="1.82"/><circle cx="86.75" cy="248.05" r="1.49"/><circle cx="39.71" cy="248.5" r="1.53"/><circle cx="141.54" cy="203.04" r="1.2"/><circle cx="23.98" cy="280.89" r="1.59"/><circle cx="15.81" cy="299.66" r="1.86"/><circle cx="118.27" cy="259.77" r="1.06"/><circle cx="11.31" cy="250.29" r="0.96"/><circle cx="40.64" cy="219.12" r="0.93"/><circle cx="86.46" cy="240.73" r="1.74"/><circle cx="95.7" cy="262.46" r="1.4"/><circle cx="119.69" cy="242.56" r="1.18"/><circle cx="175.81" cy="301.13" r="1.74"/><circle cx="127.29" cy="227.1" r="1.13"/><circle cx="57.19" cy="200.44" r="1.67"/><circle cx="75.83" cy="284.91" r="1.29"/><circle cx="169.18" cy="284.99" r="0.9"/><circle cx="43.91" cy="291.84" r="1.37"/><circle cx="172.91" cy="236.04" r="0.97"/><circle cx="114.17" cy="277.5" r="1.17"/><circle cx="23.39" cy="228.99" r="1.86"/><circle cx="135.7" cy="205.64" r="1.15"/><circle cx="25.72" cy="199.32" r="1.7"/><circle cx="38.54" cy="253.65" r="1.35"/><circle cx="40.72" cy="272.43" r="1.03"/><circle cx="116.56" cy="205.48" r="1.32"/><circle cx="44.43" cy="222.15" r="1.87"/><circle cx="143.29" cy="225.89" r="1.78"/><circle cx="44.07" cy="235.7" r="1.75"/><circle cx="116.24" cy="203.72" r="1.89"/><circle cx="44.5" cy="220.9" r="1.67"/><circle cx="63.87" cy="225.04" r="0.97"/><circle cx="23.89" cy="256.2" r="1.14"/><circle cx="109.45" cy="233.24" r="1.35"/><circle cx="169.36" cy="245.43" r="1.47"/><circle cx="153.86" cy="212.69" r="1.05"/><circle cx="160.87" cy="281.78" r="1.15"/><circle cx="40.57" cy="273.25" r="1.84"/><circle cx="41.71" cy="296.17" r="1.78"/><circle cx="109.83" cy="238.65" r="1"/><circle cx="15.28" cy="297.54" r="1.14"/><circle cx="126.75" cy="220.76" r="1.72"/><circle cx="108.65" cy="224.73" r="1.08"/><circle cx="129.39" cy="200.28" r="1.13"/><circle cx="102.44" cy="285.54" r="1.51"/><circle cx="55.71" cy="292.61" r="1.1"/><circle cx="11.57" cy="222.09" r="1.35"/><circle cx="18.92" cy="211.98" r="1.27"/><circle cx="104.58" cy="207.12" r="1.26"/><circle cx="157.94" cy="299.48" r="1.56"/><circle cx="124.51" cy="256.39" r="1.04"/><circle cx="14.67" cy="194.75" r="1.81"/><circle cx="126.14" cy="297.55" r="0.92"/><circle cx="115.3" cy="245.27" r="1.63"/><circle cx="62.18" cy="301.53" r="0.98"/><circle cx="100.22" cy="272.99" r="1.8"/><circle cx="132.19" cy="269.36" r="1.69"/><circle cx="161.97" cy="231.08" r="1.59"/><circle cx="159.6" cy="287.58" r="1.32"/><circle cx="141.14" cy="286.75" r="1.47"/><circle cx="113.42" cy="234.4" r="1.48"/><circle cx="110.72" cy="201.53" r="1.54"/><circle cx="175.08" cy="288.52" r="1.63"/><circle cx="73.82" cy="272.77" r="1.48"/><circle cx="82.54" cy="284.01" r="0.98"/><circle cx="134.39" cy="196.04" r="1.5"/><circle cx="89.31" cy="217.85" r="1.6"/><circle cx="92.04" cy="259.66" r="1.82"/><circle cx="51.63" cy="194.03" r="1.2"/><circle cx="122.32" cy="214.84" r="1.07"/><circle cx="160.42" cy="264.61" r="1.34"/><circle cx="158.08" cy="228.37" r="1.57"/><circle cx="42.03" cy="239.68" r="1.71"/><circle cx="161.84" cy="288.57" r="1.28"/><circle cx="106.41" cy="227.23" r="1.04"/><circle cx="91.91" cy="283.88" r="1.75"/><circle cx="127.86" cy="296.16" r="1.18"/><circle cx="37.11" cy="241.83" r="1.18"/><circle cx="44.64" cy="237.84" r="1.53"/><circle cx="91.47" cy="227.11" r="1.74"/><circle cx="173.19" cy="242.03" r="0.97"/><circle cx="14.07" cy="287.76" r="0.94"/><circle cx="127.42" cy="254.88" r="1.21"/><circle cx="141.3" cy="194.88" r="1.04"/><circle cx="84.94" cy="195.49" r="1.73"/><circle cx="48.54" cy="208.13" r="0.95"/><circle cx="114.12" cy="241.38" r="1.53"/><circle cx="118.45" cy="280.64" r="1.86"/><circle cx="123.38" cy="214.49" r="1.38"/><circle cx="38.71" cy="193.97" r="1.37"/><circle cx="128.35" cy="212.29" r="1.17"/><circle cx="66.68" cy="268.67" r="1.42"/><circle cx="111.66" cy="275.08" r="1.29"/><circle cx="141.37" cy="291.4" r="0.99"/><circle cx="164.92" cy="271.39" r="1.03"/><circle cx="84.72" cy="260.86" r="1.81"/><circle cx="71.88" cy="254.69" r="1.78"/><circle cx="142.18" cy="295.54" r="1.36"/><circle cx="117.83" cy="215.09" r="1.62"/><circle cx="145.79" cy="262.61" r="1.62"/><circle cx="44.51" cy="290.72" r="1.88"/><circle cx="172.41" cy="251.22" r="1.69"/><circle cx="62.43" cy="291.81" r="1.76"/><circle cx="67.14" cy="201.81" r="1.34"/><circle cx="100.92" cy="276.38" r="1.39"/><circle cx="13.56" cy="280.83" r="0.96"/><circle cx="142.7" cy="211.61" r="1.24"/><circle cx="140.7" cy="208.09" r="1.05"/><circle cx="95.27" cy="271.52" r="1.74"/><circle cx="124.2" cy="295.7" r="1.39"/><circle cx="167.69" cy="202.16" r="1.12"/><circle cx="96.96" cy="224.37" r="1.63"/><circle cx="115.75" cy="249.68" r="1.74"/><circle cx="102.54" cy="226.71" r="1.28"/><circle cx="150.3" cy="290.78" r="1.11"/><circle cx="151.22" cy="298.17" r="1.42"/><circle cx="104.72" cy="214.67" r="1.44"/><circle cx="93.03" cy="258.65" r="0.93"/><circle cx="171.08" cy="248.94" r="1.3"/><circle cx="142.9" cy="254.04" r="1.39"/><circle cx="124.47" cy="199.97" r="1.44"/><circle cx="78.07" cy="296.91" r="1.82"/><circle cx="53.87" cy="244.28" r="1.03"/><circle cx="81.4" cy="281.55" r="1.8"/><circle cx="88.57" cy="227.31" r="1.09"/><circle cx="112.24" cy="293.47" r="1.03"/><circle cx="139.25" cy="195.28" r="1.09"/><circle cx="46.84" cy="267.55" r="1.22"/><circle cx="68.29" cy="260.23" r="1"/><circle cx="131.15" cy="206.16" r="1.41"/><circle cx="50.74" cy="214.31" r="1.43"/><circle cx="81.92" cy="233.68" r="1.31"/><circle cx="97.41" cy="210.18" r="1.1"/><circle cx="114.48" cy="262.27" r="1.43"/><circle cx="151.3" cy="259.35" r="1.76"/><circle cx="47.75" cy="273.4" r="1.71"/><circle cx="159.91" cy="227.17" r="1.21"/><circle cx="163.27" cy="216.53" r="1.9"/><circle cx="157.37" cy="207.37" r="1.14"/><circle cx="130.43" cy="221.03" r="1"/><circle cx="148.11" cy="238.67" r="1.69"/><circle cx="29.89" cy="236.62" r="1.59"/><circle cx="11.77" cy="214.66" r="1.58"/><circle cx="161.36" cy="298.16" r="1.02"/><circle cx="93.45" cy="275.29" r="1.4"/><circle cx="123.58" cy="213.36" r="0.97"/><circle cx="26.57" cy="196.87" r="1.45"/><circle cx="94.98" cy="254.68" r="1.05"/><circle cx="39.69" cy="214.99" r="1.74"/><circle cx="174.58" cy="293.65" r="1"/><circle cx="19.17" cy="296.32" r="1.36"/><circle cx="136.81" cy="228.36" r="1.37"/><circle cx="95.06" cy="239.59" r="1.5"/><circle cx="11.02" cy="269.07" r="1.74"/><circle cx="39.14" cy="242.19" r="1.64"/><circle cx="76.65" cy="214.03" r="1.07"/><circle cx="94.6" cy="194.48" r="1.79"/><circle cx="143.01" cy="269.47" r="1.76"/><circle cx="114.16" cy="236.81" r="1.5"/><circle cx="93.22" cy="299.72" r="1.7"/><circle cx="52.03" cy="291.95" r="1.64"/><circle cx="139.04" cy="281.43" r="1.31"/><circle cx="158.88" cy="288.53" r="1.59"/><circle cx="137.24" cy="276.06" r="1.31"/><circle cx="129.77" cy="200.48" r="1.24"/><circle cx="87.28" cy="193.95" r="1.26"/><circle cx="115.72" cy="260.69" r="1.13"/><circle cx="166.94" cy="265.27" r="1.24"/><circle cx="119.24" cy="254.77" r="1.43"/><circle cx="74.02" cy="301.59" r="1.54"/><circle cx="126.19" cy="275.68" r="1.88"/><circle cx="12.62" cy="259.76" r="1.64"/><circle cx="51.76" cy="236.49" r="0.95"/><circle cx="41.52" cy="233.67" r="1"/><circle cx="50.8" cy="291.33" r="1.45"/><circle cx="93.81" cy="298.02" r="1.47"/><circle cx="175.38" cy="262.22" r="1.71"/><circle cx="21.56" cy="257.81" r="1.66"/><circle cx="16.35" cy="294" r="1.06"/><circle cx="87.77" cy="211.2" r="1.4"/><circle cx="111.11" cy="199.17" r="1.85"/><circle cx="79.23" cy="250.11" r="1.5"/><circle cx="70" cy="223.89" r="1.56"/><circle cx="102.65" cy="223.65" r="1.62"/><circle cx="58.36" cy="194.32" r="1.15"/><circle cx="15.96" cy="209.84" r="1.65"/><circle cx="74.08" cy="290.45" r="1.65"/><circle cx="17.2" cy="300.38" r="1.84"/><circle cx="21.1" cy="291.32" r="1.33"/><circle cx="88.75" cy="298.68" r="1.14"/><circle cx="96.41" cy="294.78" r="1.62"/><circle cx="87.2" cy="299.3" r="1.72"/><circle cx="109.85" cy="205.32" r="1.52"/><circle cx="85.08" cy="214.96" r="0.95"/><circle cx="97.2" cy="206.33" r="1.34"/><circle cx="120.6" cy="242.36" r="1.16"/><circle cx="106.27" cy="238.45" r="1.68"/><circle cx="97.65" cy="301.34" r="1.85"/><circle cx="131.72" cy="218.74" r="1.01"/><circle cx="158.24" cy="278.13" r="1.52"/><circle cx="68.93" cy="222.34" r="1.59"/><circle cx="103.36" cy="257.17" r="1.53"/><circle cx="134.91" cy="213.45" r="1.15"/><circle cx="172.81" cy="292.43" r="1.78"/><circle cx="15.41" cy="199.41" r="1.17"/><circle cx="79.98" cy="260.62" r="1"/><circle cx="99.47" cy="200.69" r="0.99"/><circle cx="122.01" cy="252.71" r="1.53"/><circle cx="71.27" cy="244.87" r="1.11"/><circle cx="66.34" cy="273.84" r="1.74"/><circle cx="21.25" cy="205.83" r="1.71"/><circle cx="113.21" cy="276.44" r="1.11"/><circle cx="79.84" cy="220.88" r="1.71"/><circle cx="70.56" cy="263.92" r="1.89"/><circle cx="63.27" cy="252.49" r="1.65"/><circle cx="162.95" cy="239.33" r="1.27"/><circle cx="25.04" cy="288.02" r="0.98"/><circle cx="22.7" cy="254.19" r="1.38"/><circle cx="123.52" cy="225.32" r="1.68"/><circle cx="21.54" cy="216" r="1.56"/><circle cx="22.48" cy="225.85" r="1.62"/><circle cx="124.97" cy="223.58" r="1.04"/><circle cx="68.7" cy="271.79" r="1.27"/><circle cx="28.45" cy="269.97" r="1.47"/><circle cx="162.57" cy="295.07" r="1.81"/><circle cx="82.12" cy="280.17" r="1.2"/><circle cx="61.97" cy="236.28" r="1.83"/><circle cx="158.58" cy="219.82" r="1.26"/><circle cx="70" cy="232.33" r="1.3"/><circle cx="73.68" cy="214.01" r="1.46"/><circle cx="142.23" cy="251.61" r="1.74"/><circle cx="103.01" cy="212.01" r="1.66"/><circle cx="156.26" cy="223.42" r="0.92"/><circle cx="95.12" cy="252" r="1.47"/><circle cx="170.58" cy="263.65" r="1.7"/><circle cx="19.52" cy="252.29" r="1.69"/><circle cx="22.87" cy="201.69" r="1.64"/><circle cx="159.3" cy="202.02" r="1.53"/><circle cx="32.89" cy="273.94" r="1.55"/><circle cx="49.89" cy="216.78" r="1.67"/><circle cx="96.11" cy="276" r="1.29"/><circle cx="65.35" cy="298.15" r="1.57"/><circle cx="91.44" cy="251.26" r="1.62"/><circle cx="127.34" cy="292.35" r="1.31"/><circle cx="147.11" cy="265.34" r="1.75"/><circle cx="143.71" cy="283.52" r="1.79"/><circle cx="169.13" cy="262.46" r="1.42"/><circle cx="127.67" cy="280.09" r="1.32"/><circle cx="79.18" cy="208.71" r="1.64"/><circle cx="174.7" cy="233.66" r="1.07"/><circle cx="43.01" cy="239.03" r="1.19"/><circle cx="171.14" cy="199.24" r="1.21"/><circle cx="28.02" cy="263.3" r="1.68"/><circle cx="38.84" cy="199.58" r="1.36"/><circle cx="106.57" cy="291.73" r="0.94"/><circle cx="26.99" cy="212.88" r="1.12"/><circle cx="48.21" cy="270.84" r="1.49"/><circle cx="46.29" cy="212.93" r="1.18"/><circle cx="37.68" cy="275.22" r="1.21"/><circle cx="100.57" cy="281.7" r="1.38"/><circle cx="52.4" cy="289.35" r="1.81"/><circle cx="66.06" cy="252.35" r="1.86"/><circle cx="89.59" cy="216.85" r="0.95"/><circle cx="167.41" cy="279.99" r="1.28"/><circle cx="97.12" cy="248.92" r="1.17"/><circle cx="174.57" cy="264.34" r="1.14"/><circle cx="10.62" cy="244.22" r="1.27"/><circle cx="142.18" cy="270.41" r="1.51"/><circle cx="35.13" cy="209.87" r="1.22"/><circle cx="52.23" cy="287.37" r="1.42"/><circle cx="115.43" cy="300.85" r="1.17"/><circle cx="98.29" cy="209.19" r="1.67"/><circle cx="9.03" cy="282.17" r="1.75"/><circle cx="146.42" cy="201.77" r="1.17"/><circle cx="128.75" cy="203.37" r="1.38"/><circle cx="87.25" cy="296.76" r="1.49"/><circle cx="152.32" cy="225.83" r="1.69"/><circle cx="78.6" cy="292.54" r="0.99"/><circle cx="147.13" cy="215.47" r="1.44"/><circle cx="96.8" cy="209.94" r="1.73"/><circle cx="60.93" cy="226.61" r="0.98"/><circle cx="59.97" cy="243.63" r="1.62"/><circle cx="69.02" cy="267.56" r="1.01"/><circle cx="74.8" cy="243.04" r="1.87"/><circle cx="147.7" cy="263.95" r="0.91"/><circle cx="71.93" cy="270.05" r="1.14"/><circle cx="103.23" cy="242.64" r="0.91"/><circle cx="174.8" cy="279.78" r="1.11"/><circle cx="111.93" cy="224.39" r="1.28"/><circle cx="99.16" cy="225.24" r="1.24"/><circle cx="74.45" cy="265.34" r="1.16"/><circle cx="42.27" cy="272.38" r="1.23"/><circle cx="167" cy="254.03" r="1.62"/><circle cx="64.32" cy="282.77" r="0.99"/><circle cx="32.37" cy="203.07" r="1.58"/><circle cx="127.37" cy="212.37" r="1.3"/><circle cx="148.9" cy="257.29" r="0.99"/><circle cx="46.73" cy="209.89" r="1.02"/><circle cx="76.91" cy="200.71" r="1.82"/><circle cx="80.28" cy="248.46" r="1.55"/><circle cx="137.17" cy="282.14" r="1.29"/><circle cx="64.28" cy="237.64" r="0.92"/><circle cx="75.88" cy="268.95" r="1.88"/><circle cx="140.99" cy="264.63" r="1.51"/><circle cx="11.9" cy="228.81" r="1.24"/><circle cx="117.73" cy="204.36" r="1.28"/><circle cx="94.07" cy="278.59" r="1.73"/><circle cx="111.15" cy="210.03" r="1.67"/><circle cx="159.96" cy="252.45" r="1.25"/><circle cx="92.57" cy="208.22" r="1.61"/><circle cx="173.99" cy="248.94" r="1.62"/><circle cx="148.67" cy="214.26" r="1.84"/><circle cx="113.78" cy="214.33" r="0.98"/><circle cx="49.75" cy="255.52" r="1.6"/><circle cx="63.91" cy="293.88" r="1.26"/><circle cx="86.31" cy="206.29" r="1.87"/><circle cx="31.5" cy="291.16" r="1.44"/><circle cx="102.67" cy="253.77" r="1.16"/><circle cx="161.02" cy="300.74" r="1.72"/><circle cx="109.49" cy="206.14" r="1.72"/><circle cx="57.11" cy="290.39" r="1.14"/><circle cx="104.82" cy="283.19" r="1.09"/><circle cx="100.51" cy="201.1" r="0.93"/><circle cx="38.94" cy="300.19" r="1.84"/><circle cx="119.01" cy="226.27" r="1.57"/><circle cx="132.29" cy="234.32" r="1.49"/><circle cx="143.36" cy="194.58" r="1.1"/><circle cx="87.15" cy="208.36" r="1.29"/><circle cx="104.14" cy="211.7" r="1.42"/><circle cx="52.94" cy="254.6" r="1.23"/><circle cx="116.22" cy="196.92" r="1.57"/><circle cx="33.03" cy="297.18" r="1.5"/><circle cx="87.46" cy="237.56" r="1.52"/><circle cx="124.19" cy="275.27" r="1.65"/><circle cx="90.12" cy="301.01" r="1.74"/><circle cx="151.93" cy="237.3" r="1.33"/><circle cx="103.54" cy="291.29" r="1.43"/><circle cx="96.69" cy="239.83" r="1.8"/><circle cx="62.48" cy="198.75" r="1.63"/><circle cx="159.48" cy="272.44" r="1.5"/><circle cx="134.67" cy="225.96" r="1.49"/><circle cx="20.48" cy="206.34" r="1.35"/><circle cx="92.94" cy="235.96" r="0.95"/><circle cx="125.13" cy="250.05" r="1.14"/><circle cx="60.07" cy="235.83" r="1.14"/><circle cx="20.26" cy="291.95" r="1.87"/><circle cx="120.24" cy="287.07" r="1.32"/><circle cx="143.6" cy="216.93" r="1.65"/><circle cx="103.68" cy="291.09" r="1"/><circle cx="141.44" cy="206.27" r="1.44"/><circle cx="167.99" cy="192.86" r="1.14"/><circle cx="58.9" cy="228.13" r="0.96"/><circle cx="158.64" cy="281.52" r="1.3"/><circle cx="68.48" cy="256.5" r="0.95"/><circle cx="14.01" cy="290.56" r="1.21"/><circle cx="92.24" cy="294.41" r="1.88"/><circle cx="87.92" cy="215.27" r="1.2"/><circle cx="163.25" cy="290.37" r="1.1"/><circle cx="149.07" cy="231.33" r="1.37"/><circle cx="37.57" cy="288.51" r="1.9"/><circle cx="42.62" cy="261.6" r="1.09"/><circle cx="156.14" cy="198.24" r="1.01"/><circle cx="130.3" cy="226.85" r="1.8"/><circle cx="154.37" cy="270.39" r="1.03"/><circle cx="125.3" cy="294.83" r="1.35"/><circle cx="22.02" cy="217.09" r="1.21"/><circle cx="127.74" cy="214.18" r="1.08"/><circle cx="48.21" cy="265.11" r="1.69"/><circle cx="71.16" cy="264.83" r="1.78"/><circle cx="107.55" cy="217.71" r="1.2"/><circle cx="163.94" cy="265.37" r="1.18"/><circle cx="115.92" cy="202.59" r="1.88"/><circle cx="82.51" cy="250.28" r="1.43"/><circle cx="16.39" cy="258.05" r="1.18"/><circle cx="50.8" cy="280.19" r="0.99"/><circle cx="56.53" cy="275.02" r="1.15"/><circle cx="55.52" cy="252.43" r="1.09"/><circle cx="158.96" cy="300.27" r="0.93"/><circle cx="86.08" cy="274.46" r="1.28"/><circle cx="164.36" cy="247.19" r="1.08"/><circle cx="101.88" cy="262.97" r="1.26"/><circle cx="118.99" cy="277.99" r="1.42"/><circle cx="93.44" cy="284.78" r="1.58"/><circle cx="95.94" cy="296.33" r="1.07"/><circle cx="139.31" cy="210.77" r="1.51"/><circle cx="48.2" cy="240.72" r="1.67"/><circle cx="140.47" cy="278.88" r="1.14"/><circle cx="90.68" cy="216.87" r="1.48"/><circle cx="92.33" cy="196.64" r="1.5"/><circle cx="128.44" cy="255.1" r="1.77"/><circle cx="38.94" cy="209.32" r="0.92"/><circle cx="91.85" cy="240.09" r="1.34"/><circle cx="52.82" cy="279.68" r="0.97"/><circle cx="160.68" cy="254.7" r="1.44"/><circle cx="141.32" cy="218.69" r="1.05"/><circle cx="60.86" cy="197.4" r="1.21"/><circle cx="112.79" cy="249.97" r="1.16"/><circle cx="107.35" cy="202.43" r="1.72"/><circle cx="37.53" cy="220.53" r="1.06"/><circle cx="124.42" cy="283.2" r="1.69"/><circle cx="19.04" cy="237.48" r="1.26"/><circle cx="45.02" cy="298.39" r="0.94"/><circle cx="90.75" cy="275.63" r="1.89"/><circle cx="33" cy="242.34" r="1.64"/><circle cx="15.37" cy="218.98" r="1.79"/><circle cx="32.5" cy="235.55" r="1.2"/><circle cx="79.85" cy="201.12" r="0.93"/><circle cx="175.55" cy="275.84" r="1.63"/><circle cx="47.28" cy="220.35" r="1.45"/><circle cx="49.26" cy="243.02" r="1.83"/><circle cx="69.73" cy="229.47" r="1.88"/><circle cx="111.06" cy="197.12" r="1.3"/><circle cx="117.58" cy="199.17" r="1.24"/><circle cx="125.09" cy="286.85" r="1.49"/><circle cx="157.18" cy="243.13" r="1.29"/><circle cx="149.93" cy="234.27" r="1.68"/><circle cx="44.86" cy="230.6" r="1.08"/><circle cx="100.79" cy="210.63" r="1.1"/><circle cx="44.7" cy="243.69" r="1.21"/><circle cx="83.65" cy="300.87" r="1.58"/><circle cx="153.22" cy="215.06" r="1.28"/><circle cx="20.98" cy="268.02" r="1.26"/><circle cx="54.75" cy="194.82" r="1.08"/><circle cx="52.72" cy="235.55" r="1.82"/><circle cx="128.52" cy="222.03" r="1.26"/><circle cx="34.5" cy="294.71" r="1.26"/><circle cx="136.98" cy="271.51" r="1.81"/><circle cx="12.21" cy="227.84" r="1.28"/><circle cx="22.72" cy="288.8" r="1.23"/><circle cx="137.82" cy="249.3" r="0.95"/><circle cx="74.75" cy="218.73" r="0.94"/><circle cx="34.06" cy="257.58" r="0.93"/><circle cx="61.08" cy="238.94" r="1.44"/><circle cx="31.57" cy="269.68" r="1.16"/><circle cx="130.25" cy="265.28" r="1.05"/><circle cx="43.08" cy="223.3" r="1.61"/><circle cx="76.65" cy="234.85" r="1.77"/><circle cx="46.64" cy="224.58" r="1.24"/><circle cx="44.92" cy="197.23" r="0.92"/><circle cx="114.33" cy="254.37" r="1.71"/><circle cx="172.12" cy="225.23" r="1.57"/><circle cx="162.65" cy="216.32" r="1.59"/><circle cx="120.39" cy="296.72" r="1.77"/><circle cx="48.07" cy="261.62" r="0.99"/><circle cx="80.4" cy="235.5" r="0.96"/><circle cx="72.97" cy="228.51" r="1.4"/><circle cx="55.64" cy="210.06" r="1.3"/><circle cx="88.35" cy="210.94" r="1.57"/><circle cx="48.94" cy="202.92" r="1.24"/><circle cx="79.49" cy="209.21" r="1.48"/><circle cx="126.21" cy="252.99" r="1.6"/><circle cx="12.66" cy="235.38" r="1.26"/><circle cx="19.34" cy="236.79" r="0.95"/><circle cx="91.76" cy="256.54" r="1.37"/><circle cx="63.29" cy="220.37" r="0.92"/><circle cx="66.9" cy="289.82" r="1.47"/><circle cx="52.64" cy="265.48" r="1.09"/><circle cx="87.35" cy="259.74" r="1.85"/><circle cx="69.5" cy="255.49" r="1.84"/><circle cx="137.94" cy="261.05" r="1.52"/><circle cx="77.59" cy="238.01" r="1.18"/><circle cx="147.68" cy="288.51" r="1.28"/><circle cx="161.07" cy="196.95" r="1.04"/><circle cx="93.68" cy="226.38" r="1.26"/><circle cx="172.35" cy="209.1" r="1.09"/><circle cx="47.05" cy="266.8" r="1.13"/><circle cx="8.96" cy="251.97" r="1.29"/><circle cx="48.86" cy="246.5" r="1.55"/><circle cx="100.56" cy="260.73" r="1.46"/><circle cx="147.93" cy="298.21" r="1.23"/><circle cx="66.83" cy="289.23" r="1.21"/><circle cx="128.65" cy="268.46" r="1.59"/><circle cx="170.16" cy="282.49" r="1.06"/><circle cx="112.86" cy="246.18" r="1.46"/><circle cx="70.66" cy="223.89" r="1.65"/><circle cx="98.19" cy="218.59" r="1.15"/><circle cx="63.2" cy="212.14" r="1.41"/><circle cx="29.89" cy="199.68" r="0.97"/><circle cx="25.91" cy="269.48" r="1.01"/><circle cx="84.39" cy="276.81" r="1.38"/><circle cx="36.01" cy="287.05" r="1.77"/><circle cx="17.75" cy="220.42" r="1.41"/><circle cx="142.13" cy="235.48" r="1.62"/><circle cx="50.95" cy="270.67" r="1.23"/><circle cx="64.68" cy="275.41" r="1.74"/><circle cx="147.5" cy="254.54" r="1.32"/><circle cx="127.14" cy="260.58" r="1.73"/><circle cx="142.93" cy="206.42" r="1.28"/><circle cx="120.85" cy="217.94" r="1.08"/><circle cx="11.1" cy="256.51" r="1.84"/><circle cx="171.25" cy="207.35" r="1.59"/><circle cx="78.99" cy="261.5" r="1.3"/><circle cx="165.05" cy="300.38" r="0.95"/><circle cx="128.2" cy="205.68" r="0.94"/><circle cx="56.68" cy="272.36" r="1.89"/><circle cx="28.91" cy="228.71" r="0.93"/><circle cx="99.63" cy="245.36" r="1.27"/><circle cx="60.56" cy="279.89" r="1.74"/><circle cx="56.3" cy="235.42" r="1.52"/><circle cx="136.92" cy="299.53" r="1.29"/><circle cx="124.98" cy="252.2" r="1.7"/><circle cx="33.39" cy="211.85" r="1.01"/><circle cx="165.08" cy="220.15" r="1.39"/><circle cx="28.95" cy="228.01" r="0.92"/><circle cx="103.54" cy="208.43" r="1.53"/><circle cx="54.67" cy="217.56" r="1.38"/><circle cx="70.04" cy="221.04" r="0.95"/><circle cx="19.58" cy="289.92" r="1.21"/><circle cx="21.93" cy="212.66" r="1.38"/><circle cx="175.72" cy="214.8" r="1.77"/><circle cx="89.86" cy="237.91" r="1.71"/><circle cx="75.08" cy="199.07" r="1.45"/><circle cx="118.76" cy="260.59" r="1.18"/><circle cx="165.97" cy="286.87" r="1.89"/><circle cx="82.99" cy="283.51" r="1.62"/><circle cx="38.24" cy="195.71" r="1.07"/><circle cx="28.68" cy="200.92" r="1.26"/><circle cx="134.95" cy="226.53" r="1.41"/><circle cx="10.55" cy="215.66" r="1.86"/><circle cx="10.65" cy="250.17" r="1.71"/><circle cx="141.43" cy="272.81" r="1.3"/><circle cx="143.24" cy="282.85" r="1.67"/><circle cx="173.85" cy="203.77" r="1.85"/><circle cx="76.14" cy="269.53" r="1.15"/><circle cx="161.07" cy="195.36" r="1.48"/><circle cx="46.84" cy="235.06" r="1.27"/><circle cx="118.78" cy="281.01" r="1.26"/><circle cx="115.61" cy="231.32" r="1.18"/><circle cx="160.32" cy="227.79" r="0.99"/><circle cx="64.85" cy="273.49" r="1.11"/><circle cx="133.21" cy="252.23" r="1.58"/><circle cx="38.48" cy="204.31" r="1.04"/><circle cx="67.45" cy="239.67" r="0.91"/><circle cx="92.93" cy="236.68" r="1.22"/><circle cx="98.72" cy="296.41" r="1.1"/><circle cx="156.19" cy="227.71" r="1.65"/><circle cx="26.94" cy="300.24" r="1.33"/><circle cx="169.95" cy="216.7" r="1.31"/><circle cx="126.99" cy="212.15" r="1.17"/><circle cx="122.17" cy="295.91" r="1.22"/><circle cx="39.51" cy="231.66" r="1.89"/><circle cx="33.6" cy="261.86" r="1.28"/><circle cx="116.58" cy="215.9" r="1.52"/><circle cx="157.39" cy="285.97" r="1.53"/><circle cx="93.31" cy="254.57" r="1.01"/><circle cx="148.99" cy="267.85" r="1.35"/><circle cx="120.2" cy="238.43" r="1.28"/><circle cx="47.31" cy="258.15" r="1.47"/><circle cx="95.05" cy="196.3" r="1.53"/><circle cx="83.6" cy="257.36" r="1.49"/><circle cx="164.75" cy="209.33" r="1.37"/><circle cx="175.01" cy="273.09" r="1.21"/><circle cx="132.13" cy="300.45" r="1.3"/><circle cx="154.02" cy="206.58" r="1.89"/><circle cx="91.01" cy="218.27" r="1.74"/><circle cx="117.48" cy="294.82" r="1.73"/><circle cx="142.33" cy="248.46" r="1.89"/><circle cx="19.65" cy="287.47" r="1.61"/><circle cx="50.77" cy="280.62" r="1.35"/><circle cx="98.58" cy="286.97" r="1.1"/><circle cx="55.61" cy="262.84" r="0.97"/><circle cx="101.71" cy="278.44" r="1.39"/><circle cx="49.28" cy="279.84" r="1.76"/><circle cx="137.83" cy="252.56" r="1.81"/><circle cx="142.18" cy="209.31" r="1.27"/><circle cx="25.6" cy="196.8" r="1.25"/><circle cx="153.58" cy="283.53" r="1.02"/><circle cx="39.22" cy="235.08" r="1.75"/><circle cx="112.1" cy="290.92" r="0.97"/><circle cx="174.17" cy="215.29" r="1.53"/><circle cx="155.54" cy="271.97" r="1.1"/><circle cx="120.69" cy="239.67" r="0.92"/><circle cx="65.65" cy="227.11" r="1.53"/><circle cx="55.43" cy="258.41" r="1.59"/><circle cx="39.04" cy="206.73" r="1.59"/><circle cx="86.89" cy="206.85" r="1.02"/><circle cx="166.33" cy="259.17" r="1.26"/><circle cx="41.64" cy="301.04" r="1.59"/><circle cx="132.05" cy="232" r="1.21"/><circle cx="77.14" cy="208.71" r="1.53"/><circle cx="79.9" cy="282.03" r="1.31"/><circle cx="85.27" cy="247.91" r="1.84"/><circle cx="66.78" cy="269.35" r="1.14"/><circle cx="105.77" cy="223.79" r="1.77"/><circle cx="56.76" cy="285.77" r="1.58"/><circle cx="84.96" cy="294.39" r="1.29"/><circle cx="133.23" cy="258.22" r="1.35"/><circle cx="19.55" cy="238.4" r="1.18"/><circle cx="82.61" cy="296.65" r="1.19"/><circle cx="125.13" cy="265.92" r="1.14"/><circle cx="77.69" cy="207.18" r="1.8"/><circle cx="50.93" cy="238.57" r="1.24"/><circle cx="146.15" cy="285.31" r="1.49"/><circle cx="100.19" cy="203.62" r="1.8"/><circle cx="23.6" cy="232.36" r="1.27"/><circle cx="129.84" cy="265.61" r="1.24"/><circle cx="159.11" cy="296.12" r="0.92"/><circle cx="114.76" cy="243.85" r="1.26"/><circle cx="86.61" cy="227.18" r="1.57"/><circle cx="110.17" cy="298.38" r="1.88"/><circle cx="174.96" cy="235.79" r="1.73"/><circle cx="117.6" cy="269.07" r="1.9"/><circle cx="19.94" cy="243.09" r="1.3"/><circle cx="118.63" cy="216.53" r="1.89"/><circle cx="43.86" cy="233.05" r="1.04"/><circle cx="74.86" cy="273.51" r="0.98"/><circle cx="36.73" cy="263.41" r="1.52"/><circle cx="133.02" cy="220.37" r="1.71"/><circle cx="131.15" cy="277.23" r="1.02"/><circle cx="87.25" cy="194.52" r="1.76"/><circle cx="166.92" cy="290.26" r="0.92"/><circle cx="67.57" cy="251.1" r="1.43"/><circle cx="27.42" cy="278.67" r="1.2"/><circle cx="93.72" cy="206.36" r="1.47"/><circle cx="30.51" cy="202.41" r="1.41"/><circle cx="58.01" cy="277.39" r="1.15"/><circle cx="78.09" cy="198.71" r="1.12"/><circle cx="84.41" cy="253.52" r="1.36"/><circle cx="151.21" cy="204.15" r="1.75"/><circle cx="34.72" cy="298.37" r="1.42"/><circle cx="76.84" cy="259.41" r="1.76"/><circle cx="170.13" cy="237.78" r="0.91"/><circle cx="34.54" cy="281.85" r="1.63"/><circle cx="128.09" cy="209.83" r="1.43"/><circle cx="13.58" cy="204.8" r="1.2"/><circle cx="170.54" cy="262.76" r="1.75"/><circle cx="16.51" cy="238.08" r="0.98"/><circle cx="52.46" cy="204.96" r="1.82"/><circle cx="63.84" cy="246" r="1.55"/><circle cx="157.23" cy="295.77" r="1.47"/><circle cx="92.66" cy="291.14" r="1.29"/><circle cx="58.91" cy="273.24" r="1.16"/><circle cx="70.38" cy="239.5" r="1.38"/><circle cx="68.81" cy="239.64" r="1.35"/><circle cx="17.1" cy="283.72" r="0.96"/><circle cx="97.17" cy="252.37" r="1.3"/><circle cx="46.07" cy="203.59" r="1.27"/><circle cx="61.43" cy="245.46" r="1.13"/><circle cx="134.26" cy="245.83" r="0.91"/><circle cx="76.87" cy="297.93" r="0.91"/><circle cx="108.13" cy="297.34" r="1.27"/><circle cx="108.91" cy="232.94" r="1.2"/><circle cx="110.78" cy="256.93" r="1.22"/><circle cx="92.1" cy="248.96" r="1.65"/><circle cx="17.68" cy="202.9" r="1.15"/><circle cx="54.02" cy="279.37" r="1.33"/><circle cx="152.77" cy="236.57" r="1.19"/><circle cx="122.61" cy="202.1" r="1.88"/><circle cx="148" cy="228.51" r="1.22"/><circle cx="145.96" cy="278.57" r="1.54"/><circle cx="18.3" cy="275.88" r="0.95"/><circle cx="113.38" cy="252.87" r="1.83"/><circle cx="115.72" cy="195.23" r="1.83"/><circle cx="134.81" cy="255.89" r="0.91"/><circle cx="132.16" cy="238.32" r="1.58"/><circle cx="173.47" cy="292.54" r="0.97"/><circle cx="139.61" cy="240.73" r="1.65"/><circle cx="72.05" cy="241.51" r="1.34"/><circle cx="28.55" cy="227.61" r="1.63"/><circle cx="20.76" cy="205.41" r="1.73"/><circle cx="120.33" cy="252.44" r="1.01"/><circle cx="28.62" cy="226.53" r="1.85"/><circle cx="102.58" cy="293.14" r="1.11"/><circle cx="78.24" cy="251.15" r="1.74"/><circle cx="29.45" cy="287.86" r="1.37"/><circle cx="14.05" cy="239.8" r="1.28"/><circle cx="121.69" cy="293.79" r="1.39"/><circle cx="124.23" cy="235.01" r="1.68"/><circle cx="26.41" cy="273.57" r="1.07"/><circle cx="106.87" cy="214.79" r="1.25"/><circle cx="36.23" cy="230.85" r="1.49"/><circle cx="95.84" cy="235.07" r="1.47"/><circle cx="149.8" cy="231.78" r="1.48"/><circle cx="89.23" cy="299.49" r="1.23"/><circle cx="125.55" cy="218.21" r="1.16"/><circle cx="131.07" cy="255.36" r="1.16"/><circle cx="19.54" cy="282.54" r="1.28"/><circle cx="128.74" cy="239.88" r="1.52"/><circle cx="102.47" cy="298.96" r="1.81"/><circle cx="85.1" cy="245.76" r="1.13"/><circle cx="134.87" cy="203.93" r="1.21"/><circle cx="150.66" cy="196.62" r="1.6"/><circle cx="103.9" cy="252.8" r="1.23"/><circle cx="34.17" cy="296.25" r="1.66"/><circle cx="143.68" cy="203.43" r="1.68"/><circle cx="45.38" cy="214.48" r="1.43"/><circle cx="110.89" cy="205.94" r="1.66"/><circle cx="106.3" cy="290.65" r="1.82"/><circle cx="124.19" cy="232.41" r="1.85"/><circle cx="129.09" cy="224.45" r="1.76"/><circle cx="130.48" cy="221.6" r="1.15"/><circle cx="12.2" cy="251.25" r="1.15"/><circle cx="57.85" cy="220.31" r="1.03"/><circle cx="89.97" cy="222.46" r="1.19"/><circle cx="55.27" cy="248.2" r="1.77"/><circle cx="35.6" cy="286.33" r="1.75"/><circle cx="110.81" cy="251.96" r="1.63"/><circle cx="98.28" cy="264.6" r="1.82"/><circle cx="138.57" cy="221.07" r="0.95"/><circle cx="165.6" cy="232.26" r="1.69"/></g>
<g fill="#6e2896" opacity="0.55"><circle cx="9.9" cy="194.44" r="1.22"/><circle cx="14.35" cy="193.38" r="0.87"/><circle cx="23.2" cy="194.24" r="0.79"/><circle cx="29.95" cy="192.74" r="1.24"/><circle cx="34.71" cy="192.57" r="1.08"/><circle cx="36.25" cy="194" r="1.24"/><circle cx="42.46" cy="194.6" r="1.01"/><circle cx="45.44" cy="192.92" r="1.01"/><circle cx="49.26" cy="192.95" r="1.1"/><circle cx="53.13" cy="192.62" r="0.99"/><circle cx="58.39" cy="193.97" r="0.82"/><circle cx="60.51" cy="194.37" r="1.22"/><circle cx="84.34" cy="194.05" r="1.09"/><circle cx="88.58" cy="195.01" r="0.79"/><circle cx="93.45" cy="192.49" r="0.81"/><circle cx="102.56" cy="194.72" r="1.09"/><circle cx="107.99" cy="194.52" r="1.15"/><circle cx="110.46" cy="194.62" r="1.24"/><circle cx="119.01" cy="193.37" r="0.76"/><circle cx="122.7" cy="194.04" r="1.01"/><circle cx="127.76" cy="193.67" r="0.87"/><circle cx="134.09" cy="193.11" r="0.99"/><circle cx="138.5" cy="193.07" r="1.08"/><circle cx="142.93" cy="193.11" r="1.19"/><circle cx="146.02" cy="193.24" r="0.91"/><circle cx="151.15" cy="194.61" r="1.02"/><circle cx="155.3" cy="193.08" r="0.86"/><circle cx="159.84" cy="193.44" r="0.93"/><circle cx="169.15" cy="194.61" r="1.14"/><circle cx="174.88" cy="193.46" r="0.89"/><circle cx="10.92" cy="198.08" r="0.76"/><circle cx="14.55" cy="195.98" r="1.21"/><circle cx="17.96" cy="198.25" r="1.23"/><circle cx="27.79" cy="196.19" r="1.11"/><circle cx="33.37" cy="197.69" r="1.19"/><circle cx="39.54" cy="197.06" r="0.94"/><circle cx="41.55" cy="198.42" r="0.79"/><circle cx="45.66" cy="195.93" r="0.9"/><circle cx="48.93" cy="197.27" r="1.02"/><circle cx="54.62" cy="197.27" r="1.22"/><circle cx="57.01" cy="196.01" r="0.9"/><circle cx="62.87" cy="197.2" r="0.83"/><circle cx="65.78" cy="196.62" r="1.15"/><circle cx="73.68" cy="198.16" r="0.98"/><circle cx="78.53" cy="198.53" r="0.76"/><circle cx="80.91" cy="195.94" r="0.83"/><circle cx="85.75" cy="196.39" r="0.76"/><circle cx="89.82" cy="197.19" r="1.08"/><circle cx="92" cy="195.84" r="0.9"/><circle cx="96.12" cy="197.53" r="0.93"/><circle cx="101.03" cy="196.68" r="0.93"/><circle cx="108.25" cy="197.31" r="0.98"/><circle cx="113.54" cy="196.45" r="1.22"/><circle cx="124.11" cy="198.55" r="0.89"/><circle cx="128.61" cy="196.45" r="1.04"/><circle cx="133.14" cy="196.59" r="0.8"/><circle cx="135.36" cy="197.36" r="1"/><circle cx="143.25" cy="195.8" r="1"/><circle cx="147.69" cy="197.56" r="0.98"/><circle cx="151.38" cy="197.14" r="1.07"/><circle cx="159.03" cy="196.03" r="1.15"/><circle cx="164.01" cy="198.03" r="0.88"/><circle cx="170.68" cy="197.35" r="1.22"/><circle cx="174.74" cy="196.61" r="1.17"/><circle cx="9.96" cy="199.79" r="1.17"/><circle cx="27.24" cy="201.18" r="1.15"/><circle cx="35.09" cy="200.04" r="0.87"/><circle cx="42.04" cy="200.15" r="1.15"/><circle cx="47.06" cy="201.8" r="1.07"/><circle cx="50.27" cy="199.49" r="1.24"/><circle cx="56.73" cy="201.13" r="1.13"/><circle cx="64.36" cy="201.22" r="0.78"/><circle cx="74.01" cy="201.63" r="1.03"/><circle cx="80.98" cy="200.26" r="0.93"/><circle cx="83.96" cy="201.41" r="0.86"/><circle cx="89.58" cy="201.13" r="1.01"/><circle cx="92.07" cy="199.71" r="1.07"/><circle cx="97.84" cy="200.11" r="1.21"/><circle cx="105.67" cy="200.92" r="1.23"/><circle cx="107.84" cy="199.97" r="1.01"/><circle cx="110.91" cy="201.6" r="1.02"/><circle cx="116.79" cy="199.89" r="0.85"/><circle cx="119.28" cy="200.1" r="0.78"/><circle cx="123.5" cy="200.66" r="1.22"/><circle cx="127.57" cy="200.32" r="0.87"/><circle cx="132.99" cy="199.53" r="0.97"/><circle cx="136.34" cy="200.74" r="1.07"/><circle cx="147.42" cy="201.98" r="1.01"/><circle cx="151.95" cy="199.35" r="0.83"/><circle cx="154.47" cy="201.2" r="1.11"/><circle cx="159.75" cy="201" r="1.1"/><circle cx="162.72" cy="199.48" r="0.99"/><circle cx="173.4" cy="199.94" r="1.1"/><circle cx="10.47" cy="204.18" r="1.12"/><circle cx="14.99" cy="204.49" r="1.06"/><circle cx="19.06" cy="202.94" r="0.78"/><circle cx="21.02" cy="202.78" r="0.95"/><circle cx="25.17" cy="205.25" r="1.18"/><circle cx="30.42" cy="203.46" r="1.24"/><circle cx="33.53" cy="203.2" r="1.18"/><circle cx="37.72" cy="203.7" r="1.19"/><circle cx="42.69" cy="204.56" r="0.97"/><circle cx="45.6" cy="203.85" r="0.91"/><circle cx="49.43" cy="203.43" r="1.14"/><circle cx="53.5" cy="205.04" r="0.98"/><circle cx="58.59" cy="205.31" r="1.14"/><circle cx="61.85" cy="204.65" r="0.9"/><circle cx="66.53" cy="204.42" r="1.08"/><circle cx="69.6" cy="203.21" r="1.14"/><circle cx="74.42" cy="203.54" r="1.11"/><circle cx="76.74" cy="204.72" r="0.88"/><circle cx="80.09" cy="203.69" r="1.25"/><circle cx="85.93" cy="202.75" r="1.04"/><circle cx="96.73" cy="204.57" r="1.13"/><circle cx="100.6" cy="203.28" r="1.1"/><circle cx="104.4" cy="205.34" r="0.82"/><circle cx="107.68" cy="204.61" r="1.23"/><circle cx="112.26" cy="204.06" r="1"/><circle cx="116.33" cy="205.08" r="1.08"/><circle cx="120.73" cy="203.76" r="0.82"/><circle cx="123.66" cy="204.06" r="1.25"/><circle cx="128.94" cy="203.57" r="1.13"/><circle cx="131.02" cy="204.52" r="1.1"/><circle cx="138.74" cy="203.58" r="1.02"/><circle cx="142.92" cy="204.42" r="0.82"/><circle cx="148.22" cy="205.19" r="0.87"/><circle cx="150" cy="202.82" r="1.15"/><circle cx="154.32" cy="203.95" r="1.1"/><circle cx="159.77" cy="204.99" r="0.86"/><circle cx="163.33" cy="203.52" r="1.19"/><circle cx="166.6" cy="203.46" r="0.97"/><circle cx="174.78" cy="205.34" r="0.86"/><circle cx="9.27" cy="208.67" r="0.92"/><circle cx="13.95" cy="208.29" r="1.21"/><circle cx="17.13" cy="206.97" r="1.1"/><circle cx="23.02" cy="208.41" r="0.86"/><circle cx="25.09" cy="207.98" r="0.77"/><circle cx="28.52" cy="208.33" r="1.02"/><circle cx="32.51" cy="206.1" r="0.93"/><circle cx="42.46" cy="206.15" r="0.8"/><circle cx="45.9" cy="206.47" r="0.89"/><circle cx="49.79" cy="206.87" r="0.98"/><circle cx="53.32" cy="206.97" r="0.93"/><circle cx="56.46" cy="206.7" r="0.76"/><circle cx="61.2" cy="206.72" r="0.81"/><circle cx="68.78" cy="206.85" r="1.19"/><circle cx="72.99" cy="207.82" r="1.1"/><circle cx="76.3" cy="207.06" r="1"/><circle cx="80.53" cy="207.46" r="1.14"/><circle cx="86.91" cy="206.81" r="0.77"/><circle cx="92.48" cy="206.77" r="0.85"/><circle cx="104.38" cy="208.06" r="0.98"/><circle cx="107.89" cy="208.44" r="1.25"/><circle cx="118.74" cy="208.69" r="1.02"/><circle cx="122.81" cy="208.39" r="1.01"/><circle cx="132.53" cy="206.01" r="0.82"/><circle cx="135.44" cy="206.28" r="1.03"/><circle cx="143.58" cy="207.63" r="1.04"/><circle cx="146.64" cy="208.49" r="1.09"/><circle cx="150.5" cy="207.49" r="0.92"/><circle cx="154.91" cy="206.02" r="0.86"/><circle cx="157.65" cy="206.18" r="1.13"/><circle cx="163.63" cy="207.54" r="0.8"/><circle cx="165.58" cy="208.25" r="1.11"/><circle cx="168.91" cy="206.07" r="1.15"/><circle cx="173.21" cy="206.06" r="0.83"/><circle cx="13.97" cy="211.68" r="0.84"/><circle cx="18.87" cy="211.98" r="0.77"/><circle cx="22.12" cy="211.67" r="0.88"/><circle cx="25.47" cy="210.75" r="1.23"/><circle cx="29.63" cy="211.93" r="1.09"/><circle cx="33.27" cy="210.03" r="0.89"/><circle cx="43.29" cy="211.24" r="1.06"/><circle cx="46.46" cy="210.75" r="0.78"/><circle cx="49.42" cy="210.85" r="0.77"/><circle cx="55" cy="210.4" r="0.92"/><circle cx="57.81" cy="211.93" r="0.84"/><circle cx="61.45" cy="211.51" r="1.03"/><circle cx="64.48" cy="211.39" r="0.79"/><circle cx="72.28" cy="210.67" r="1.17"/><circle cx="77.74" cy="211.5" r="1.11"/><circle cx="81.86" cy="209.78" r="0.83"/><circle cx="83.53" cy="211.82" r="0.94"/><circle cx="87.48" cy="211.73" r="1.05"/><circle cx="95.46" cy="210.17" r="0.85"/><circle cx="99.61" cy="211.16" r="0.83"/><circle cx="104.45" cy="210.42" r="0.82"/><circle cx="108.27" cy="210.45" r="0.99"/><circle cx="112.47" cy="209.91" r="0.92"/><circle cx="117.13" cy="211.01" r="0.95"/><circle cx="121.18" cy="209.73" r="0.94"/><circle cx="123.49" cy="211.34" r="1.2"/><circle cx="127.14" cy="210.18" r="1.13"/><circle cx="132.21" cy="211.95" r="0.84"/><circle cx="136.54" cy="211.51" r="0.81"/><circle cx="144.37" cy="210.38" r="1.05"/><circle cx="156.14" cy="212.16" r="1.17"/><circle cx="160.24" cy="209.77" r="0.95"/><circle cx="161.82" cy="211.55" r="0.78"/><circle cx="166.13" cy="210.27" r="1.05"/><circle cx="170.5" cy="211.77" r="1.24"/><circle cx="174.17" cy="211.31" r="0.84"/><circle cx="11.66" cy="213.71" r="0.75"/><circle cx="14" cy="213.68" r="0.89"/><circle cx="21.98" cy="214.76" r="0.87"/><circle cx="27.72" cy="215.16" r="1.22"/><circle cx="30.49" cy="213.87" r="0.91"/><circle cx="34.79" cy="214.68" r="0.83"/><circle cx="40.11" cy="213.33" r="1.06"/><circle cx="41.4" cy="213.92" r="0.84"/><circle cx="46.8" cy="214.65" r="1.23"/><circle cx="49.37" cy="212.86" r="0.98"/><circle cx="58.43" cy="215.16" r="0.94"/><circle cx="62.59" cy="212.83" r="0.86"/><circle cx="65.15" cy="212.94" r="1.02"/><circle cx="70.29" cy="215.07" r="0.92"/><circle cx="74.38" cy="214.8" r="1.19"/><circle cx="78.03" cy="215.17" r="1.09"/><circle cx="86.37" cy="214.53" r="0.98"/><circle cx="89.43" cy="213.5" r="1.05"/><circle cx="93.43" cy="212.92" r="0.82"/><circle cx="97.81" cy="215.53" r="1.15"/><circle cx="101.07" cy="214.17" r="1.15"/><circle cx="106.28" cy="214.11" r="0.95"/><circle cx="108.6" cy="215.56" r="0.77"/><circle cx="111.72" cy="214.66" r="0.83"/><circle cx="116.58" cy="214.44" r="1.13"/><circle cx="120.12" cy="213.79" r="1.19"/><circle cx="123.23" cy="215.24" r="0.99"/><circle cx="127.48" cy="215.25" r="1.12"/><circle cx="132.89" cy="213.36" r="0.97"/><circle cx="135.04" cy="215.38" r="0.92"/><circle cx="140.98" cy="213.06" r="0.77"/><circle cx="144.01" cy="215.28" r="1.15"/><circle cx="146.72" cy="214.45" r="0.99"/><circle cx="153.07" cy="213.34" r="1.07"/><circle cx="156.98" cy="215.41" r="1.06"/><circle cx="160.33" cy="215.29" r="1.15"/><circle cx="163.61" cy="213.15" r="1.02"/><circle cx="175.44" cy="213.65" r="0.83"/><circle cx="10.83" cy="217.33" r="1.1"/><circle cx="15.09" cy="216.48" r="0.8"/><circle cx="20" cy="217.54" r="1.07"/><circle cx="22.62" cy="216.64" r="1.24"/><circle cx="25.85" cy="218.12" r="1.05"/><circle cx="31.54" cy="217.85" r="1.19"/><circle cx="39" cy="217.2" r="0.96"/><circle cx="42.9" cy="217.14" r="0.93"/><circle cx="50.78" cy="218.51" r="0.94"/><circle cx="53.49" cy="217.03" r="0.8"/><circle cx="59.27" cy="217" r="0.94"/><circle cx="60.99" cy="217.94" r="1.2"/><circle cx="65.2" cy="218.28" r="0.86"/><circle cx="73.61" cy="216.72" r="0.9"/><circle cx="76.97" cy="218.19" r="0.77"/><circle cx="82.33" cy="217.06" r="0.85"/><circle cx="84.2" cy="218.37" r="1.05"/><circle cx="89.16" cy="217.83" r="0.91"/><circle cx="92.97" cy="217.14" r="1.24"/><circle cx="98.27" cy="218.58" r="1.04"/><circle cx="101.85" cy="216.4" r="1.03"/><circle cx="103.75" cy="217.3" r="0.83"/><circle cx="113.8" cy="218.83" r="1.13"/><circle cx="116.51" cy="218.33" r="1.08"/><circle cx="120.57" cy="217.31" r="1.01"/><circle cx="124.92" cy="217.75" r="1.14"/><circle cx="131.19" cy="216.28" r="0.83"/><circle cx="139.82" cy="217.45" r="1.03"/><circle cx="144.67" cy="217.08" r="1.17"/><circle cx="151.82" cy="216.41" r="1.19"/><circle cx="154.94" cy="218.3" r="1.05"/><circle cx="159.24" cy="217.61" r="0.85"/><circle cx="162.71" cy="218.04" r="0.8"/><circle cx="166.44" cy="217.64" r="1.04"/><circle cx="172.55" cy="218.49" r="0.94"/><circle cx="176" cy="218.89" r="0.84"/><circle cx="18.05" cy="220" r="0.87"/><circle cx="29.77" cy="220.53" r="0.87"/><circle cx="35.33" cy="221.72" r="0.97"/><circle cx="38.52" cy="220.58" r="0.98"/><circle cx="43.1" cy="220.46" r="1.03"/><circle cx="45.14" cy="220.63" r="0.93"/><circle cx="49.13" cy="220.74" r="1.22"/><circle cx="57.6" cy="220.58" r="0.91"/><circle cx="62.27" cy="221.89" r="0.94"/><circle cx="64.81" cy="219.59" r="1.13"/><circle cx="70.44" cy="221.76" r="0.79"/><circle cx="73.2" cy="221.7" r="1.12"/><circle cx="77.48" cy="220.54" r="0.99"/><circle cx="80.84" cy="221.81" r="1.21"/><circle cx="86.7" cy="222.17" r="0.84"/><circle cx="94.07" cy="219.88" r="0.9"/><circle cx="98.06" cy="221.45" r="0.85"/><circle cx="107.55" cy="220.34" r="0.9"/><circle cx="113.95" cy="221.21" r="1.16"/><circle cx="115.9" cy="221.59" r="0.92"/><circle cx="119.29" cy="219.69" r="0.96"/><circle cx="124.13" cy="221.13" r="0.9"/><circle cx="128.8" cy="220.48" r="1"/><circle cx="131.57" cy="219.69" r="0.9"/><circle cx="135.03" cy="219.63" r="0.99"/><circle cx="141.07" cy="220.55" r="0.97"/><circle cx="142.58" cy="219.83" r="1.14"/><circle cx="147.79" cy="220.51" r="1.13"/><circle cx="152.53" cy="221.88" r="1.2"/><circle cx="156.1" cy="220.84" r="1.02"/><circle cx="159.58" cy="221.84" r="1.18"/><circle cx="164.12" cy="221.27" r="1.05"/><circle cx="171.14" cy="220.6" r="1.22"/><circle cx="175.29" cy="219.95" r="1.13"/><circle cx="10.24" cy="225.41" r="0.75"/><circle cx="15.33" cy="225.4" r="1.14"/><circle cx="17.4" cy="224.92" r="1.12"/><circle cx="23.7" cy="224.41" r="0.77"/><circle cx="25.93" cy="223.23" r="1.19"/><circle cx="34.03" cy="223.7" r="1.09"/><circle cx="37.61" cy="224.09" r="0.99"/><circle cx="42.25" cy="225.57" r="1.22"/><circle cx="52.96" cy="224.22" r="1.07"/><circle cx="57.16" cy="225.71" r="0.91"/><circle cx="60.33" cy="223.52" r="1.12"/><circle cx="68.54" cy="223.62" r="1.14"/><circle cx="75.96" cy="225.64" r="1.24"/><circle cx="80.9" cy="225.03" r="1.13"/><circle cx="84.24" cy="224.41" r="1.08"/><circle cx="89.17" cy="223.35" r="1.24"/><circle cx="91.91" cy="225.63" r="1.23"/><circle cx="110.99" cy="224.99" r="1.17"/><circle cx="118.75" cy="224.98" r="0.99"/><circle cx="132.17" cy="224.8" r="1.1"/><circle cx="135.97" cy="223.13" r="1.2"/><circle cx="140.33" cy="224.23" r="0.85"/><circle cx="143.88" cy="224.47" r="0.8"/><circle cx="146.99" cy="223.62" r="0.86"/><circle cx="150.94" cy="224.88" r="1.21"/><circle cx="153.74" cy="225.37" r="1.05"/><circle cx="159.3" cy="223.93" r="0.92"/><circle cx="163.34" cy="223.09" r="1.09"/><circle cx="170.98" cy="225.2" r="1.23"/><circle cx="10.42" cy="228.05" r="1.07"/><circle cx="19.2" cy="226.34" r="1.17"/><circle cx="24.84" cy="227.99" r="1.18"/><circle cx="28.75" cy="227.62" r="1.2"/><circle cx="29.91" cy="227.24" r="0.93"/><circle cx="38.45" cy="228.26" r="0.8"/><circle cx="42.69" cy="226.68" r="1.05"/><circle cx="47.73" cy="227.28" r="1.24"/><circle cx="50.87" cy="226.96" r="0.76"/><circle cx="55.79" cy="227.15" r="0.99"/><circle cx="57.92" cy="227.83" r="0.78"/><circle cx="61.88" cy="228.61" r="1.14"/><circle cx="66.65" cy="228.76" r="1.12"/><circle cx="69.25" cy="228.42" r="1.17"/><circle cx="77.12" cy="227.92" r="1.06"/><circle cx="80.96" cy="229.04" r="1.01"/><circle cx="87.23" cy="227.41" r="0.78"/><circle cx="89.11" cy="226.94" r="0.9"/><circle cx="93.18" cy="228.19" r="1.2"/><circle cx="110.19" cy="226.58" r="1.04"/><circle cx="112.06" cy="228.99" r="0.81"/><circle cx="117.16" cy="226.33" r="1.15"/><circle cx="122.06" cy="228.62" r="1"/><circle cx="123.56" cy="228.29" r="0.77"/><circle cx="129.97" cy="228.23" r="0.81"/><circle cx="133.24" cy="227.25" r="1.14"/><circle cx="136.34" cy="227.8" r="0.89"/><circle cx="141.57" cy="227.31" r="1.14"/><circle cx="143.51" cy="226.33" r="1.23"/><circle cx="149.63" cy="227.98" r="0.78"/><circle cx="150.92" cy="228.04" r="1.06"/><circle cx="159.23" cy="226.95" r="0.82"/><circle cx="163.86" cy="227.51" r="0.93"/><circle cx="172.6" cy="227.82" r="0.8"/><circle cx="175.89" cy="228.78" r="0.78"/><circle cx="11.73" cy="232.06" r="1.11"/><circle cx="14.14" cy="232.43" r="1.21"/><circle cx="21.65" cy="230.76" r="1.21"/><circle cx="26.23" cy="229.84" r="1.19"/><circle cx="29.53" cy="230.72" r="0.85"/><circle cx="34.93" cy="231.57" r="0.8"/><circle cx="37.26" cy="230.96" r="1.15"/><circle cx="43.31" cy="230.41" r="0.95"/><circle cx="44.91" cy="231.27" r="1.02"/><circle cx="51.46" cy="231.67" r="0.86"/><circle cx="54.05" cy="230.51" r="1.03"/><circle cx="58.55" cy="230.89" r="0.77"/><circle cx="63.12" cy="232.1" r="1.19"/><circle cx="67.16" cy="230.2" r="1.11"/><circle cx="72.22" cy="230.08" r="0.79"/><circle cx="81.34" cy="230.04" r="1.07"/><circle cx="84.28" cy="231.39" r="1.07"/><circle cx="96.46" cy="230.13" r="1"/><circle cx="101.93" cy="231.63" r="1.15"/><circle cx="105.96" cy="232.06" r="1.16"/><circle cx="112.17" cy="229.88" r="1.13"/><circle cx="117.87" cy="230.53" r="0.97"/><circle cx="129.28" cy="232.31" r="0.89"/><circle cx="130.88" cy="231.62" r="1.23"/><circle cx="135.01" cy="231.32" r="0.78"/><circle cx="138.73" cy="230.89" r="1.16"/><circle cx="144.79" cy="231" r="0.97"/><circle cx="148.51" cy="231.32" r="0.95"/><circle cx="151.49" cy="229.9" r="0.81"/><circle cx="155.29" cy="230.11" r="1.16"/><circle cx="160.43" cy="231.27" r="0.83"/><circle cx="164.25" cy="231.36" r="1.07"/><circle cx="165.94" cy="230.28" r="0.97"/><circle cx="9.71" cy="234.68" r="0.95"/><circle cx="17.96" cy="233.16" r="0.76"/><circle cx="29.13" cy="234.73" r="0.87"/><circle cx="35.54" cy="235.21" r="0.89"/><circle cx="37.69" cy="235.24" r="0.88"/><circle cx="47.18" cy="234.08" r="1.23"/><circle cx="49.3" cy="234.93" r="0.91"/><circle cx="52.59" cy="234.83" r="0.87"/><circle cx="58.56" cy="233.51" r="1.13"/><circle cx="61.3" cy="235.73" r="1.16"/><circle cx="74.6" cy="234.86" r="1.04"/><circle cx="76.94" cy="234.71" r="0.87"/><circle cx="82.2" cy="235.13" r="0.86"/><circle cx="84.71" cy="234.33" r="1.17"/><circle cx="89.03" cy="234.81" r="1.03"/><circle cx="93.04" cy="234.66" r="0.87"/><circle cx="96.61" cy="235.6" r="1.22"/><circle cx="100.89" cy="234.57" r="0.98"/><circle cx="105.39" cy="233.35" r="0.86"/><circle cx="107.65" cy="233.66" r="0.79"/><circle cx="111.46" cy="234.92" r="1.05"/><circle cx="116.23" cy="234.83" r="0.9"/><circle cx="120.71" cy="233.72" r="1.12"/><circle cx="125.41" cy="234.84" r="1.02"/><circle cx="127.39" cy="234.16" r="0.97"/><circle cx="132.5" cy="233.63" r="1.23"/><circle cx="141.07" cy="234.86" r="0.94"/><circle cx="142.23" cy="234.77" r="1.11"/><circle cx="148.27" cy="234.34" r="1.12"/><circle cx="151.76" cy="234.65" r="1.08"/><circle cx="154.14" cy="235.01" r="1.1"/><circle cx="160.5" cy="234.46" r="0.83"/><circle cx="162.68" cy="233.58" r="1.19"/><circle cx="167.58" cy="233.59" r="1.01"/><circle cx="175.79" cy="233.13" r="1.24"/><circle cx="12" cy="237.8" r="0.83"/><circle cx="15.35" cy="238.94" r="0.81"/><circle cx="19.34" cy="238.06" r="1.15"/><circle cx="22.82" cy="239.18" r="1.05"/><circle cx="27.35" cy="238.94" r="0.77"/><circle cx="31.08" cy="237.32" r="0.83"/><circle cx="34.84" cy="237.69" r="1.05"/><circle cx="39.25" cy="237.83" r="1.15"/><circle cx="48.05" cy="238.04" r="0.92"/><circle cx="51.21" cy="237.73" r="1.09"/><circle cx="55.53" cy="237.25" r="1.19"/><circle cx="58.14" cy="238.13" r="1.01"/><circle cx="62.49" cy="239.17" r="1.12"/><circle cx="67.58" cy="236.55" r="0.78"/><circle cx="72.7" cy="237" r="1"/><circle cx="80.88" cy="236.54" r="0.78"/><circle cx="85.69" cy="239.22" r="1.07"/><circle cx="94.67" cy="238.39" r="0.87"/><circle cx="97.36" cy="236.82" r="1.21"/><circle cx="100.48" cy="237.89" r="1.15"/><circle cx="105.46" cy="236.77" r="0.87"/><circle cx="109.13" cy="238.43" r="0.86"/><circle cx="113.26" cy="238.61" r="1.25"/><circle cx="118.31" cy="237.78" r="1"/><circle cx="119.65" cy="238.32" r="0.8"/><circle cx="123.55" cy="238.03" r="0.85"/><circle cx="129.36" cy="237.76" r="0.82"/><circle cx="133.9" cy="238.25" r="0.97"/><circle cx="136.98" cy="238.86" r="1.14"/><circle cx="141.1" cy="236.8" r="0.81"/><circle cx="143.33" cy="238.08" r="0.89"/><circle cx="152.9" cy="239.15" r="0.98"/><circle cx="155.9" cy="237.63" r="0.81"/><circle cx="161" cy="238.43" r="0.91"/><circle cx="163.32" cy="237.6" r="1.14"/><circle cx="167.57" cy="237.94" r="0.82"/><circle cx="170.83" cy="237.64" r="0.87"/><circle cx="175.22" cy="238.42" r="0.96"/><circle cx="10.26" cy="241.28" r="0.88"/><circle cx="16.52" cy="241.25" r="1.12"/><circle cx="19.53" cy="240.23" r="0.86"/><circle cx="21.74" cy="242.44" r="1.23"/><circle cx="25.6" cy="241.96" r="1.08"/><circle cx="31.61" cy="240.09" r="0.87"/><circle cx="35.52" cy="240.56" r="1"/><circle cx="42.64" cy="240.42" r="0.78"/><circle cx="46.54" cy="241.57" r="0.98"/><circle cx="50.55" cy="241.71" r="0.96"/><circle cx="59.23" cy="242.66" r="1.16"/><circle cx="62.6" cy="241.45" r="0.87"/><circle cx="66.42" cy="240.6" r="1.06"/><circle cx="70.17" cy="241.1" r="0.87"/><circle cx="74.32" cy="242.38" r="0.91"/><circle cx="77.52" cy="241.1" r="1.07"/><circle cx="82.32" cy="242.17" r="1.11"/><circle cx="89.22" cy="241.73" r="0.91"/><circle cx="97.33" cy="241.36" r="0.93"/><circle cx="100.45" cy="241.24" r="1.23"/><circle cx="106.1" cy="242.63" r="1.15"/><circle cx="107.52" cy="242.37" r="0.78"/><circle cx="114" cy="241.79" r="1.16"/><circle cx="120.58" cy="240.17" r="0.94"/><circle cx="125.36" cy="240.71" r="1.08"/><circle cx="127.69" cy="240.07" r="1.04"/><circle cx="132.86" cy="241.08" r="1.22"/><circle cx="136.36" cy="242.35" r="0.84"/><circle cx="140.21" cy="241.58" r="1.23"/><circle cx="142.7" cy="242.55" r="0.98"/><circle cx="148.6" cy="241.66" r="1.18"/><circle cx="151.08" cy="241.22" r="0.98"/><circle cx="155.89" cy="240.32" r="0.88"/><circle cx="158.24" cy="241.37" r="1.12"/><circle cx="164.59" cy="241.61" r="1.08"/><circle cx="168.48" cy="240.88" r="1.17"/><circle cx="172.53" cy="241.81" r="0.84"/><circle cx="174.2" cy="240.98" r="0.94"/><circle cx="9.52" cy="244.42" r="0.8"/><circle cx="13.96" cy="245.29" r="0.96"/><circle cx="27.02" cy="245.85" r="1.22"/><circle cx="30.23" cy="243.49" r="0.93"/><circle cx="34.21" cy="243.32" r="1.13"/><circle cx="37.55" cy="244.65" r="1.17"/><circle cx="40.68" cy="245.16" r="0.87"/><circle cx="45.33" cy="245.97" r="0.97"/><circle cx="48.94" cy="245.98" r="0.92"/><circle cx="53.47" cy="245.17" r="1.22"/><circle cx="56.79" cy="245.32" r="1"/><circle cx="61.66" cy="243.55" r="0.78"/><circle cx="64.52" cy="243.81" r="0.89"/><circle cx="67.64" cy="244.76" r="1.13"/><circle cx="71.73" cy="245.33" r="0.79"/><circle cx="76.74" cy="244.13" r="1.14"/><circle cx="80.73" cy="244.34" r="0.76"/><circle cx="89.39" cy="243.59" r="0.97"/><circle cx="91.4" cy="243.5" r="1.22"/><circle cx="104.72" cy="244.98" r="0.99"/><circle cx="108.37" cy="244.54" r="1.09"/><circle cx="111.29" cy="243.61" r="1.13"/><circle cx="115.17" cy="245.48" r="1.01"/><circle cx="119.37" cy="243.3" r="0.78"/><circle cx="124.86" cy="245.75" r="1.02"/><circle cx="131.88" cy="243.59" r="0.97"/><circle cx="135.01" cy="245.12" r="0.92"/><circle cx="138.35" cy="244.67" r="0.96"/><circle cx="141.82" cy="243.97" r="1.11"/><circle cx="146.9" cy="246.08" r="1.05"/><circle cx="151.63" cy="246.01" r="0.94"/><circle cx="155.48" cy="243.37" r="0.98"/><circle cx="158.83" cy="245.35" r="1.18"/><circle cx="163.11" cy="243.52" r="1.08"/><circle cx="170.34" cy="244.73" r="0.96"/><circle cx="173.42" cy="245.52" r="1.01"/><circle cx="10.8" cy="248.51" r="0.84"/><circle cx="17.7" cy="247.98" r="0.83"/><circle cx="20.7" cy="247.16" r="0.77"/><circle cx="25.94" cy="247.39" r="1.23"/><circle cx="29.25" cy="249.28" r="1.07"/><circle cx="33.97" cy="248.76" r="0.9"/><circle cx="37.83" cy="248.78" r="1.05"/><circle cx="41.76" cy="247.18" r="1.15"/><circle cx="45.36" cy="246.9" r="0.93"/><circle cx="47.79" cy="246.8" r="0.96"/><circle cx="55.92" cy="246.92" r="1.17"/><circle cx="63.66" cy="248.79" r="0.75"/><circle cx="67.87" cy="249.37" r="0.77"/><circle cx="72.93" cy="248.82" r="0.88"/><circle cx="77.17" cy="249.4" r="1.2"/><circle cx="78.91" cy="248.76" r="1.07"/><circle cx="87.88" cy="249.42" r="0.98"/><circle cx="92.16" cy="248.9" r="1.04"/><circle cx="100.69" cy="249.15" r="0.92"/><circle cx="103.76" cy="248.42" r="1.23"/><circle cx="108" cy="248.81" r="0.83"/><circle cx="111.1" cy="247.29" r="0.89"/><circle cx="115.83" cy="248.23" r="0.91"/><circle cx="119.88" cy="248.8" r="1.17"/><circle cx="121.75" cy="247.48" r="0.98"/><circle cx="127.78" cy="247.26" r="0.76"/><circle cx="129.52" cy="246.77" r="1.05"/><circle cx="134.8" cy="246.88" r="1.03"/><circle cx="138.03" cy="247.31" r="0.83"/><circle cx="142.1" cy="248.33" r="1.09"/><circle cx="146.68" cy="247.41" r="1.12"/><circle cx="150.54" cy="248.75" r="1.15"/><circle cx="155.33" cy="249.45" r="1.15"/><circle cx="157.42" cy="248.44" r="0.81"/><circle cx="160.84" cy="248.51" r="0.94"/><circle cx="173.23" cy="247.59" r="0.78"/><circle cx="12.54" cy="252.83" r="0.94"/><circle cx="17.69" cy="252.79" r="0.79"/><circle cx="22.13" cy="250.15" r="1.21"/><circle cx="26.12" cy="250.3" r="0.79"/><circle cx="30.33" cy="252.72" r="1.21"/><circle cx="32.28" cy="252.26" r="1"/><circle cx="37.7" cy="251.67" r="0.84"/><circle cx="40.05" cy="251.29" r="0.89"/><circle cx="49.75" cy="250.42" r="0.8"/><circle cx="57.09" cy="251.72" r="0.95"/><circle cx="59.72" cy="252.03" r="0.94"/><circle cx="65.51" cy="250.29" r="0.96"/><circle cx="69.73" cy="251.82" r="0.85"/><circle cx="71.06" cy="251.52" r="0.78"/><circle cx="76.35" cy="251.59" r="0.86"/><circle cx="79.69" cy="252.05" r="0.78"/><circle cx="87.11" cy="250.9" r="1.06"/><circle cx="93.08" cy="250.7" r="0.96"/><circle cx="95.7" cy="252.77" r="0.84"/><circle cx="99.85" cy="251.87" r="0.82"/><circle cx="103.91" cy="250.75" r="0.76"/><circle cx="108.55" cy="252.34" r="1.18"/><circle cx="110.89" cy="251.76" r="1.06"/><circle cx="115.47" cy="250.74" r="0.87"/><circle cx="117.98" cy="251.71" r="0.79"/><circle cx="132.23" cy="251.83" r="0.75"/><circle cx="134.43" cy="250.95" r="0.78"/><circle cx="137.37" cy="251.34" r="0.99"/><circle cx="143.81" cy="252.56" r="1"/><circle cx="151.13" cy="252.26" r="0.93"/><circle cx="153.91" cy="250.57" r="0.96"/><circle cx="158.83" cy="250.79" r="1"/><circle cx="167.17" cy="252.11" r="1.1"/><circle cx="170.46" cy="252.65" r="1.05"/><circle cx="173.96" cy="251.58" r="1.22"/><circle cx="10.4" cy="254.35" r="1.11"/><circle cx="12.91" cy="254.06" r="1.06"/><circle cx="18.7" cy="254.79" r="0.81"/><circle cx="23.43" cy="253.73" r="1.06"/><circle cx="26.32" cy="254.89" r="1"/><circle cx="38.58" cy="255.34" r="1.15"/><circle cx="44.69" cy="254.12" r="1.16"/><circle cx="53.26" cy="255.96" r="1.11"/><circle cx="58.3" cy="256.06" r="0.8"/><circle cx="65.32" cy="255.58" r="0.9"/><circle cx="70.04" cy="255.69" r="1.24"/><circle cx="73.15" cy="255.54" r="1.23"/><circle cx="76.08" cy="253.76" r="0.84"/><circle cx="80.8" cy="254.38" r="0.82"/><circle cx="85.02" cy="255.76" r="0.81"/><circle cx="89.74" cy="254.48" r="1.02"/><circle cx="97.24" cy="255.64" r="1.12"/><circle cx="100.08" cy="256.11" r="0.78"/><circle cx="104.39" cy="256.14" r="0.82"/><circle cx="107.79" cy="255.68" r="1.03"/><circle cx="110.55" cy="254.03" r="1.04"/><circle cx="114.56" cy="253.73" r="0.91"/><circle cx="119.13" cy="253.95" r="0.79"/><circle cx="124.77" cy="255.25" r="1.21"/><circle cx="127.72" cy="254.5" r="1.17"/><circle cx="131.62" cy="256.03" r="1.23"/><circle cx="135.03" cy="253.71" r="1.03"/><circle cx="139.66" cy="254.47" r="0.75"/><circle cx="146.25" cy="254.93" r="0.78"/><circle cx="151.41" cy="253.8" r="1.06"/><circle cx="154.79" cy="253.74" r="0.89"/><circle cx="158.72" cy="255.3" r="1.21"/><circle cx="162.08" cy="254.06" r="1.12"/><circle cx="165.59" cy="254.01" r="0.96"/><circle cx="175.08" cy="254.79" r="1.04"/><circle cx="10.94" cy="257.1" r="0.98"/><circle cx="13.63" cy="257.81" r="0.85"/><circle cx="16.82" cy="257.53" r="0.88"/><circle cx="22.95" cy="258.79" r="1.19"/><circle cx="25.04" cy="257.74" r="1"/><circle cx="40.19" cy="257.81" r="0.96"/><circle cx="44.99" cy="257.22" r="1.19"/><circle cx="48.8" cy="257.36" r="1.17"/><circle cx="53.04" cy="257.48" r="0.87"/><circle cx="61.67" cy="257.86" r="1.24"/><circle cx="68.05" cy="257" r="1.02"/><circle cx="73.73" cy="259.66" r="1.16"/><circle cx="77.97" cy="258.58" r="0.77"/><circle cx="81.8" cy="259.09" r="1.12"/><circle cx="83.08" cy="259.49" r="0.9"/><circle cx="88.42" cy="258.23" r="1.01"/><circle cx="101" cy="257.36" r="0.92"/><circle cx="102.64" cy="257.99" r="0.75"/><circle cx="114.38" cy="257.6" r="1.14"/><circle cx="118.38" cy="258.06" r="1.04"/><circle cx="123.07" cy="258.43" r="1.12"/><circle cx="128.69" cy="257.58" r="1.13"/><circle cx="132.37" cy="258.39" r="0.84"/><circle cx="143.98" cy="259.55" r="0.93"/><circle cx="147.43" cy="258.45" r="0.94"/><circle cx="151.6" cy="259.06" r="1.22"/><circle cx="154.81" cy="258.84" r="0.86"/><circle cx="159.61" cy="259.05" r="1.11"/><circle cx="162.24" cy="259.14" r="0.8"/><circle cx="166.89" cy="258.16" r="1.23"/><circle cx="171.29" cy="257.41" r="0.95"/><circle cx="174.11" cy="258.98" r="1.25"/><circle cx="20.08" cy="260.51" r="0.95"/><circle cx="22.22" cy="262.78" r="0.94"/><circle cx="26.05" cy="261.76" r="0.92"/><circle cx="34.82" cy="260.7" r="0.77"/><circle cx="39.23" cy="261.65" r="1"/><circle cx="43.96" cy="260.42" r="0.87"/><circle cx="46.2" cy="261.19" r="0.97"/><circle cx="51.35" cy="260.53" r="1.03"/><circle cx="54.08" cy="262.3" r="0.93"/><circle cx="57.31" cy="261.15" r="1.03"/><circle cx="62.22" cy="260.36" r="1.02"/><circle cx="69.3" cy="262" r="0.87"/><circle cx="72.83" cy="262.01" r="1.19"/><circle cx="78.17" cy="262.71" r="1.17"/><circle cx="81.49" cy="262.99" r="1.22"/><circle cx="86.08" cy="261.22" r="0.8"/><circle cx="88.87" cy="262.03" r="1.08"/><circle cx="94.67" cy="260.26" r="0.85"/><circle cx="97.06" cy="262.82" r="0.98"/><circle cx="100.43" cy="261.25" r="1.15"/><circle cx="105.87" cy="261.94" r="1.08"/><circle cx="108.73" cy="263.02" r="0.94"/><circle cx="114.42" cy="261.91" r="1.1"/><circle cx="117.27" cy="261.35" r="0.89"/><circle cx="120.06" cy="262.2" r="0.79"/><circle cx="124.74" cy="263.03" r="1.14"/><circle cx="129.3" cy="260.84" r="1.01"/><circle cx="132.58" cy="260.35" r="0.81"/><circle cx="135.99" cy="261.59" r="0.86"/><circle cx="139.26" cy="262.92" r="1.24"/><circle cx="147.29" cy="262.72" r="0.76"/><circle cx="152.44" cy="262.96" r="1.21"/><circle cx="160.47" cy="262.88" r="1.2"/><circle cx="168.42" cy="262.23" r="0.96"/><circle cx="172.72" cy="261.86" r="0.76"/><circle cx="176.46" cy="262.25" r="0.99"/><circle cx="10.9" cy="265.62" r="1.18"/><circle cx="16.79" cy="264.86" r="1.17"/><circle cx="18.96" cy="264.5" r="0.86"/><circle cx="24.2" cy="265.47" r="1.2"/><circle cx="26.67" cy="264.78" r="1.15"/><circle cx="32.54" cy="266.1" r="1.02"/><circle cx="35.96" cy="265.11" r="1.09"/><circle cx="45.45" cy="265.63" r="1.16"/><circle cx="51.65" cy="265.77" r="0.83"/><circle cx="55.01" cy="265.4" r="0.83"/><circle cx="63.3" cy="266.3" r="0.81"/><circle cx="66.41" cy="266.22" r="0.97"/><circle cx="69.42" cy="266.02" r="0.91"/><circle cx="79.06" cy="263.71" r="1.11"/><circle cx="86.02" cy="264.81" r="0.78"/><circle cx="94.41" cy="263.75" r="0.83"/><circle cx="98.35" cy="263.72" r="0.76"/><circle cx="101.05" cy="266.02" r="1.18"/><circle cx="105.95" cy="264.65" r="1.13"/><circle cx="107.96" cy="264.97" r="0.96"/><circle cx="113.22" cy="265.59" r="0.95"/><circle cx="117.88" cy="265.56" r="0.85"/><circle cx="120.23" cy="266.32" r="0.94"/><circle cx="132.2" cy="265.74" r="1"/><circle cx="140.75" cy="265.57" r="1.06"/><circle cx="144.46" cy="264.85" r="1.09"/><circle cx="147.35" cy="264.69" r="0.88"/><circle cx="155.83" cy="266.35" r="1.14"/><circle cx="162.72" cy="264.69" r="0.79"/><circle cx="167.53" cy="265" r="1.24"/><circle cx="170.63" cy="264.15" r="1.09"/><circle cx="175.22" cy="265.04" r="0.95"/><circle cx="9.89" cy="268.43" r="0.88"/><circle cx="14.95" cy="269.18" r="1.23"/><circle cx="19.29" cy="268.47" r="0.81"/><circle cx="22.01" cy="268.11" r="1.04"/><circle cx="27.77" cy="268.58" r="1.24"/><circle cx="30.56" cy="267.95" r="1.04"/><circle cx="34.81" cy="269.68" r="0.97"/><circle cx="39.15" cy="268.6" r="0.88"/><circle cx="45.07" cy="268.55" r="1.21"/><circle cx="57.99" cy="267.86" r="0.83"/><circle cx="62.79" cy="268.6" r="1.24"/><circle cx="65.88" cy="268.7" r="0.96"/><circle cx="78.58" cy="268.94" r="0.93"/><circle cx="81.14" cy="268.99" r="1"/><circle cx="86.43" cy="269.54" r="0.99"/><circle cx="89.76" cy="268.91" r="0.8"/><circle cx="92.44" cy="268.86" r="0.83"/><circle cx="96.26" cy="267.83" r="1.03"/><circle cx="105.17" cy="269.18" r="0.95"/><circle cx="109.08" cy="267.62" r="1.13"/><circle cx="121.52" cy="267.67" r="0.82"/><circle cx="123.83" cy="267.55" r="1.05"/><circle cx="128.26" cy="268.48" r="1.06"/><circle cx="132.67" cy="269.02" r="1.16"/><circle cx="136.35" cy="267.36" r="0.79"/><circle cx="140.36" cy="267.7" r="1.23"/><circle cx="143.73" cy="268.36" r="1.24"/><circle cx="146.96" cy="268.82" r="0.93"/><circle cx="150.52" cy="269.61" r="0.97"/><circle cx="154.74" cy="269.67" r="0.8"/><circle cx="158.14" cy="268.53" r="0.91"/><circle cx="168.1" cy="267.13" r="0.87"/><circle cx="173.66" cy="267.77" r="0.93"/><circle cx="10.31" cy="271.77" r="0.98"/><circle cx="14.81" cy="272.05" r="1.04"/><circle cx="18.52" cy="271.04" r="1.22"/><circle cx="22.01" cy="271.61" r="0.96"/><circle cx="27.47" cy="271.29" r="1.02"/><circle cx="29.32" cy="271.65" r="0.82"/><circle cx="34.9" cy="272.83" r="1.22"/><circle cx="38.04" cy="272.3" r="0.94"/><circle cx="46.99" cy="270.63" r="0.94"/><circle cx="50.8" cy="271.83" r="1.18"/><circle cx="53.51" cy="272.42" r="1.01"/><circle cx="58.77" cy="272.8" r="1.2"/><circle cx="62.33" cy="270.55" r="1"/><circle cx="65.47" cy="271.51" r="1.02"/><circle cx="70.08" cy="272.28" r="0.89"/><circle cx="72.52" cy="271.35" r="0.96"/><circle cx="77.9" cy="273.19" r="0.88"/><circle cx="81.11" cy="270.46" r="1.07"/><circle cx="85.22" cy="272.08" r="0.94"/><circle cx="91.4" cy="270.74" r="0.87"/><circle cx="97.33" cy="271.43" r="1.19"/><circle cx="99.79" cy="272.04" r="1.02"/><circle cx="103.92" cy="272.96" r="1.07"/><circle cx="108.56" cy="271.03" r="1.03"/><circle cx="115.68" cy="271.3" r="0.88"/><circle cx="120.47" cy="270.82" r="1.1"/><circle cx="126.51" cy="272.12" r="1.19"/><circle cx="131.77" cy="271.58" r="1.03"/><circle cx="140.24" cy="271.74" r="1.19"/><circle cx="143.48" cy="271.28" r="0.9"/><circle cx="150.05" cy="271.9" r="0.96"/><circle cx="154.55" cy="272.97" r="0.99"/><circle cx="164.04" cy="271.97" r="1.02"/><circle cx="168.09" cy="272.01" r="1.02"/><circle cx="170.64" cy="271.2" r="0.97"/><circle cx="173.47" cy="271.46" r="0.76"/><circle cx="12.26" cy="274.72" r="0.89"/><circle cx="14.44" cy="275.86" r="0.9"/><circle cx="21.59" cy="276.3" r="1.09"/><circle cx="27.13" cy="274.84" r="1"/><circle cx="30.74" cy="275.65" r="1.17"/><circle cx="34.72" cy="275.42" r="1.19"/><circle cx="39.45" cy="276.42" r="0.95"/><circle cx="43.64" cy="275.45" r="1.02"/><circle cx="46.52" cy="275.28" r="1.08"/><circle cx="49.79" cy="273.86" r="1.11"/><circle cx="59.25" cy="275.95" r="0.8"/><circle cx="63.01" cy="274.13" r="1.19"/><circle cx="64.74" cy="274.42" r="1.12"/><circle cx="68.31" cy="275.32" r="0.84"/><circle cx="76.07" cy="274.94" r="0.76"/><circle cx="87.73" cy="276.46" r="0.88"/><circle cx="93.77" cy="275.4" r="0.81"/><circle cx="97.57" cy="274.18" r="0.94"/><circle cx="103.75" cy="275.65" r="0.92"/><circle cx="108.25" cy="276.15" r="1.16"/><circle cx="112.66" cy="275.08" r="0.81"/><circle cx="120.64" cy="274" r="1.23"/><circle cx="127.09" cy="275.69" r="0.98"/><circle cx="131.24" cy="274.26" r="1.17"/><circle cx="136.62" cy="275.9" r="0.95"/><circle cx="139.28" cy="275.67" r="0.97"/><circle cx="143.14" cy="274.9" r="0.79"/><circle cx="146.83" cy="273.88" r="0.96"/><circle cx="152.6" cy="273.95" r="1.24"/><circle cx="156.35" cy="274.83" r="0.87"/><circle cx="158.92" cy="273.88" r="0.82"/><circle cx="163.84" cy="276.61" r="0.88"/><circle cx="166.69" cy="275.28" r="0.89"/><circle cx="172.19" cy="274.54" r="0.96"/><circle cx="14.18" cy="279.24" r="1.08"/><circle cx="19.9" cy="277.48" r="1.17"/><circle cx="22.99" cy="278.55" r="1.12"/><circle cx="26.78" cy="279.65" r="0.95"/><circle cx="30.75" cy="278.63" r="1.14"/><circle cx="33.04" cy="278.69" r="1.13"/><circle cx="37.9" cy="279.56" r="0.76"/><circle cx="45.42" cy="279.18" r="1.04"/><circle cx="48.74" cy="278.4" r="1.19"/><circle cx="58.05" cy="279.15" r="1.21"/><circle cx="60.41" cy="279.59" r="0.76"/><circle cx="65.03" cy="279.8" r="1.06"/><circle cx="67.98" cy="278.55" r="1.03"/><circle cx="73.33" cy="277.4" r="0.93"/><circle cx="80.03" cy="277.72" r="1.22"/><circle cx="88.23" cy="278.26" r="1.19"/><circle cx="103.23" cy="279.86" r="0.83"/><circle cx="107.8" cy="277.33" r="1.08"/><circle cx="113.19" cy="277.73" r="1.08"/><circle cx="114.74" cy="278.01" r="0.9"/><circle cx="120.66" cy="279.84" r="0.83"/><circle cx="123.45" cy="278.12" r="0.85"/><circle cx="126.32" cy="278.73" r="0.82"/><circle cx="131.02" cy="278.52" r="1.22"/><circle cx="135.31" cy="280" r="0.88"/><circle cx="139.78" cy="279.38" r="1.11"/><circle cx="143.93" cy="278.16" r="1.22"/><circle cx="148.05" cy="278.74" r="1.21"/><circle cx="152.37" cy="278.47" r="1.23"/><circle cx="155.05" cy="278.79" r="1.02"/><circle cx="167.28" cy="278.7" r="0.95"/><circle cx="171.75" cy="279.99" r="1.11"/><circle cx="173.34" cy="278.12" r="0.91"/><circle cx="9.6" cy="281.77" r="0.78"/><circle cx="15.14" cy="282.17" r="0.87"/><circle cx="17.39" cy="281.98" r="0.84"/><circle cx="22.89" cy="282.38" r="1.23"/><circle cx="29.53" cy="282.55" r="0.93"/><circle cx="33.24" cy="282.91" r="1.09"/><circle cx="38.19" cy="280.75" r="1.01"/><circle cx="40.61" cy="281.26" r="1.06"/><circle cx="46.15" cy="282.03" r="0.78"/><circle cx="47.81" cy="280.98" r="0.84"/><circle cx="51.89" cy="283" r="0.93"/><circle cx="57.57" cy="281.12" r="1"/><circle cx="60.63" cy="283.22" r="1.03"/><circle cx="64.95" cy="282.02" r="1"/><circle cx="69.06" cy="283.11" r="1.24"/><circle cx="81.01" cy="281.16" r="0.85"/><circle cx="86.63" cy="282.7" r="0.82"/><circle cx="93.05" cy="281.15" r="1.16"/><circle cx="96.6" cy="281.69" r="1.03"/><circle cx="100.28" cy="281.2" r="1.09"/><circle cx="102.86" cy="282.8" r="0.83"/><circle cx="106.39" cy="282.25" r="0.84"/><circle cx="112.71" cy="281.87" r="1"/><circle cx="114.61" cy="280.91" r="1.06"/><circle cx="118.27" cy="281.02" r="1.12"/><circle cx="122.49" cy="281.5" r="0.89"/><circle cx="127.17" cy="280.99" r="0.83"/><circle cx="130.26" cy="282.48" r="0.84"/><circle cx="133.57" cy="283.02" r="1.02"/><circle cx="138.27" cy="282.39" r="0.86"/><circle cx="146.55" cy="282.23" r="0.84"/><circle cx="153.24" cy="282.73" r="0.76"/><circle cx="159.11" cy="282.41" r="0.76"/><circle cx="163" cy="282.99" r="0.88"/><circle cx="174.85" cy="280.66" r="0.91"/><circle cx="10.22" cy="284.14" r="1.23"/><circle cx="14.63" cy="285" r="1.21"/><circle cx="18.01" cy="286.14" r="1.03"/><circle cx="21" cy="286.25" r="1.06"/><circle cx="27.19" cy="285.31" r="1.12"/><circle cx="29.32" cy="285.78" r="0.88"/><circle cx="42.03" cy="284.77" r="1.14"/><circle cx="49.4" cy="285.84" r="0.87"/><circle cx="52.23" cy="285.48" r="1.07"/><circle cx="59.99" cy="285.19" r="0.83"/><circle cx="64.79" cy="285.93" r="0.8"/><circle cx="68.64" cy="285.47" r="0.84"/><circle cx="72.8" cy="286.71" r="1.23"/><circle cx="75.37" cy="285.47" r="0.89"/><circle cx="79.23" cy="285.95" r="1.08"/><circle cx="83.56" cy="286.79" r="1.03"/><circle cx="87.51" cy="286.65" r="1.11"/><circle cx="91.03" cy="285.23" r="0.76"/><circle cx="96.81" cy="284.32" r="0.85"/><circle cx="101.23" cy="284.47" r="0.96"/><circle cx="102.55" cy="285.59" r="0.79"/><circle cx="107.22" cy="286.8" r="0.97"/><circle cx="111.14" cy="284.85" r="0.83"/><circle cx="116.05" cy="285" r="0.86"/><circle cx="120.22" cy="284.85" r="0.89"/><circle cx="129.91" cy="286.35" r="1.13"/><circle cx="134.42" cy="286.35" r="0.99"/><circle cx="140.28" cy="284.61" r="0.84"/><circle cx="144.18" cy="285.99" r="0.76"/><circle cx="145.92" cy="285.87" r="1.23"/><circle cx="151.09" cy="285.9" r="0.76"/><circle cx="158.07" cy="286.23" r="1.02"/><circle cx="161.08" cy="285.75" r="0.82"/><circle cx="170.53" cy="285.82" r="1.24"/><circle cx="9.87" cy="290.2" r="0.78"/><circle cx="15.4" cy="290.18" r="0.97"/><circle cx="17.69" cy="287.86" r="0.93"/><circle cx="22.29" cy="289.86" r="1.25"/><circle cx="31.28" cy="287.86" r="0.98"/><circle cx="34.11" cy="289.6" r="0.86"/><circle cx="42.79" cy="287.62" r="0.81"/><circle cx="54.6" cy="289.53" r="1.18"/><circle cx="57.21" cy="287.58" r="1.1"/><circle cx="62.49" cy="287.87" r="1.07"/><circle cx="65.66" cy="289.06" r="1.23"/><circle cx="70.52" cy="287.54" r="0.84"/><circle cx="72.46" cy="289.76" r="1.19"/><circle cx="78.11" cy="289.22" r="1.24"/><circle cx="81.06" cy="289.86" r="0.88"/><circle cx="88.97" cy="289.74" r="1.13"/><circle cx="93.58" cy="290.17" r="0.95"/><circle cx="97.47" cy="289.42" r="0.95"/><circle cx="100.03" cy="289.16" r="0.92"/><circle cx="103.56" cy="289.53" r="0.83"/><circle cx="115.41" cy="287.99" r="0.85"/><circle cx="126.86" cy="288.97" r="0.98"/><circle cx="133.09" cy="289.75" r="0.82"/><circle cx="139.85" cy="287.83" r="0.87"/><circle cx="143.22" cy="288.93" r="0.88"/><circle cx="146.64" cy="287.6" r="1.21"/><circle cx="151.5" cy="287.77" r="1.24"/><circle cx="156.33" cy="287.53" r="0.89"/><circle cx="159.31" cy="289.38" r="1.04"/><circle cx="162.12" cy="288.22" r="0.89"/><circle cx="167.01" cy="287.71" r="0.81"/><circle cx="169.89" cy="289.22" r="1.23"/><circle cx="174.19" cy="289.11" r="1"/><circle cx="13.72" cy="290.92" r="0.87"/><circle cx="22.71" cy="292.17" r="0.88"/><circle cx="25.99" cy="291.66" r="1.01"/><circle cx="29.55" cy="291.12" r="0.99"/><circle cx="34.92" cy="293.24" r="1.2"/><circle cx="37.09" cy="293.17" r="0.81"/><circle cx="40.34" cy="293.07" r="1.12"/><circle cx="50.31" cy="292.75" r="1.02"/><circle cx="54.12" cy="292.12" r="1.22"/><circle cx="61.17" cy="292" r="1.2"/><circle cx="68.5" cy="291.69" r="1.08"/><circle cx="73.1" cy="292.26" r="1.09"/><circle cx="76.61" cy="292.74" r="1.11"/><circle cx="85.66" cy="293.51" r="1.06"/><circle cx="91.39" cy="291.41" r="1.02"/><circle cx="101.28" cy="293.12" r="0.77"/><circle cx="105.36" cy="292.2" r="1.14"/><circle cx="110.41" cy="293.22" r="1.22"/><circle cx="116.12" cy="290.83" r="1.22"/><circle cx="120.9" cy="292.72" r="0.93"/><circle cx="123.51" cy="293.22" r="1.02"/><circle cx="126.58" cy="291.21" r="0.87"/><circle cx="131.19" cy="293.43" r="0.89"/><circle cx="135.84" cy="293.42" r="0.87"/><circle cx="138.83" cy="290.97" r="0.8"/><circle cx="142.25" cy="291.45" r="1.15"/><circle cx="147.05" cy="292.63" r="1.12"/><circle cx="159.24" cy="290.87" r="0.81"/><circle cx="161.43" cy="291.22" r="0.87"/><circle cx="170.27" cy="292.34" r="1.12"/><circle cx="172.98" cy="292.08" r="0.85"/><circle cx="14.14" cy="295.82" r="1.08"/><circle cx="18.25" cy="295.59" r="1.21"/><circle cx="23.53" cy="295.75" r="1.21"/><circle cx="26.76" cy="294.26" r="0.86"/><circle cx="29.76" cy="295.64" r="1.24"/><circle cx="34.61" cy="295.77" r="0.88"/><circle cx="40.61" cy="295.38" r="0.96"/><circle cx="45.64" cy="294.39" r="1.22"/><circle cx="49.14" cy="295.72" r="1.05"/><circle cx="54.51" cy="295.46" r="1.21"/><circle cx="58.08" cy="294.65" r="1.1"/><circle cx="68.64" cy="294.2" r="1.08"/><circle cx="77.5" cy="295.71" r="1.12"/><circle cx="81.78" cy="294.63" r="0.99"/><circle cx="83.63" cy="295.76" r="1.21"/><circle cx="89.4" cy="296.2" r="1.19"/><circle cx="96.81" cy="295.52" r="0.97"/><circle cx="99.99" cy="296.43" r="1.02"/><circle cx="104.38" cy="296.18" r="1.17"/><circle cx="111.43" cy="294.19" r="0.81"/><circle cx="116.06" cy="294.41" r="0.99"/><circle cx="119.77" cy="296.64" r="0.93"/><circle cx="123.18" cy="294.56" r="1.04"/><circle cx="126.76" cy="295" r="1.11"/><circle cx="134.82" cy="296.9" r="1.04"/><circle cx="140.84" cy="296.04" r="0.87"/><circle cx="152.45" cy="296.01" r="0.87"/><circle cx="154.49" cy="296.36" r="0.95"/><circle cx="160.03" cy="295.12" r="0.84"/><circle cx="161.81" cy="295.88" r="0.97"/><circle cx="168.01" cy="296.13" r="0.78"/><circle cx="175.45" cy="296.35" r="0.84"/><circle cx="11.3" cy="300.24" r="1.04"/><circle cx="15.66" cy="299.04" r="0.97"/><circle cx="19.59" cy="297.93" r="0.85"/><circle cx="25.18" cy="299.06" r="0.87"/><circle cx="28.6" cy="299.46" r="0.79"/><circle cx="32.71" cy="299.53" r="0.86"/><circle cx="36.42" cy="299.17" r="0.92"/><circle cx="44.96" cy="300.02" r="0.78"/><circle cx="49.39" cy="298.4" r="0.83"/><circle cx="52.01" cy="297.61" r="0.89"/><circle cx="56.55" cy="299.57" r="0.96"/><circle cx="61.38" cy="299.57" r="1.22"/><circle cx="65.57" cy="299.14" r="0.79"/><circle cx="71.54" cy="299.66" r="1"/><circle cx="80.55" cy="300.09" r="1.21"/><circle cx="84.37" cy="298.79" r="1.12"/><circle cx="92.89" cy="299.15" r="1.03"/><circle cx="95.62" cy="298.3" r="1.24"/><circle cx="99.34" cy="298.15" r="1.16"/><circle cx="103.49" cy="297.88" r="1.09"/><circle cx="108.32" cy="299.58" r="1.05"/><circle cx="112.65" cy="300.02" r="0.83"/><circle cx="117.08" cy="300.32" r="1.16"/><circle cx="124.58" cy="299.89" r="0.85"/><circle cx="142.1" cy="299.84" r="0.84"/><circle cx="147.74" cy="299.91" r="0.95"/><circle cx="151.38" cy="300.37" r="1.06"/><circle cx="154" cy="298.11" r="1.06"/><circle cx="157.85" cy="299.67" r="1.05"/><circle cx="162.6" cy="298.73" r="0.76"/><circle cx="166.88" cy="300.07" r="1.24"/><circle cx="169.38" cy="299.99" r="0.96"/></g>
<g fill="#f0e0f6"><circle cx="111.33" cy="211.08" r="0.58"/><circle cx="100.59" cy="218.11" r="0.82"/><circle cx="107.48" cy="213.9" r="0.88"/><circle cx="101.14" cy="212.48" r="0.95"/><circle cx="102.75" cy="211.37" r="0.91"/><circle cx="111.8" cy="221.23" r="1.03"/><circle cx="108.56" cy="210.09" r="0.64"/><circle cx="106.99" cy="216.39" r="1.01"/><circle cx="100.37" cy="217.51" r="0.59"/><circle cx="109.06" cy="211.07" r="0.82"/><circle cx="151.18" cy="221.88" r="0.99"/><circle cx="151.26" cy="216.39" r="0.9"/><circle cx="149.33" cy="217.96" r="0.88"/><circle cx="148.56" cy="217.03" r="0.97"/><circle cx="150.17" cy="221.8" r="1.06"/><circle cx="151.41" cy="214.88" r="0.83"/><circle cx="125.98" cy="253.45" r="1.05"/><circle cx="124.48" cy="249.55" r="1.03"/><circle cx="128.38" cy="251.19" r="0.88"/><circle cx="152.43" cy="244.42" r="0.9"/><circle cx="153.96" cy="247" r="0.75"/><circle cx="152.97" cy="244.75" r="1.09"/><circle cx="97.67" cy="258.67" r="1.08"/><circle cx="95.71" cy="258.09" r="0.61"/><circle cx="14.99" cy="249.52" r="0.59"/><circle cx="15.31" cy="249.77" r="0.74"/><circle cx="25.16" cy="253.59" r="0.63"/><circle cx="24.02" cy="255.77" r="0.9"/><circle cx="26.25" cy="288.83" r="1.01"/><circle cx="27.54" cy="286.4" r="0.85"/><circle cx="24.93" cy="284.39" r="1.06"/><circle cx="10.74" cy="290.62" r="1.02"/><circle cx="86.74" cy="233.65" r="0.56"/><circle cx="86.1" cy="231.79" r="0.9"/><circle cx="66.48" cy="199.19" r="1"/><circle cx="112.74" cy="261.97" r="0.58"/><circle cx="113.87" cy="259.4" r="0.56"/><circle cx="139.81" cy="260.67" r="1.08"/><circle cx="140.38" cy="260.7" r="0.96"/><circle cx="161.13" cy="227.11" r="0.66"/><circle cx="162.11" cy="227.57" r="0.66"/><circle cx="39.41" cy="213.02" r="0.73"/><circle cx="134.21" cy="228.45" r="0.6"/><circle cx="134.63" cy="228.33" r="1.06"/><circle cx="119.03" cy="289.47" r="0.59"/><circle cx="144.77" cy="213.39" r="0.54"/><circle cx="70.89" cy="292.08" r="0.96"/><circle cx="86.9" cy="255.96" r="0.54"/><circle cx="159.97" cy="274.85" r="0.62"/><circle cx="149.41" cy="210.21" r="0.74"/><circle cx="56.74" cy="254.54" r="0.63"/><circle cx="99.79" cy="220.6" r="0.51"/><circle cx="27.78" cy="278.61" r="0.72"/><circle cx="94.58" cy="264.58" r="0.63"/><circle cx="40.31" cy="237.18" r="0.88"/><circle cx="131.32" cy="242.82" r="0.8"/><circle cx="51.47" cy="295.95" r="0.82"/><circle cx="143.33" cy="232.97" r="0.79"/><circle cx="127.72" cy="250.71" r="0.88"/><circle cx="54.35" cy="278.18" r="0.66"/><circle cx="95.08" cy="208.4" r="0.7"/><circle cx="157.18" cy="196.1" r="0.59"/><circle cx="99.58" cy="264.36" r="0.84"/><circle cx="123.74" cy="271.12" r="0.8"/><circle cx="34.52" cy="252.01" r="0.64"/><circle cx="9.73" cy="247.98" r="0.99"/><circle cx="86.91" cy="275.52" r="0.81"/><circle cx="15.04" cy="252.52" r="0.99"/><circle cx="118.24" cy="225.17" r="0.95"/><circle cx="120.83" cy="294.28" r="0.92"/><circle cx="106.45" cy="243.69" r="0.77"/><circle cx="62.27" cy="285.64" r="0.56"/><circle cx="174.42" cy="229.71" r="0.72"/><circle cx="110.72" cy="226.64" r="0.8"/><circle cx="17.97" cy="287.41" r="0.55"/></g>
<path d="M58.8 266 L62.3 264.3 L65.8 263 L67 260.8 L68.3 263 Q71 263.8 72.3 268 Q73 273 71.6 277 L69.5 283.5 L68.4 284.2 L65.3 279.8 L61 275 Q58.5 271 58.8 266Z" fill="#ece8f0"/>
</g>
<line x1="128" y1="291.8" x2="172.5" y2="291.8" stroke="#e8b070" stroke-width="0.6" opacity="0.6"/>
<text x="152" y="290.6" font-size="4.6" font-weight="bold" text-anchor="middle" fill="#f0d040" stroke="#f0d040" stroke-width="0.3">200 µm</text>
</g>
<g clip-path="url(#clip22)">
<g filter="url(#wobble)">
<rect x="178.8" y="192.8" width="167.4" height="108.8" fill="#9a5cbc"/>
<g fill="#bc88d8" opacity="0.6"><circle cx="339.2" cy="208.07" r="1.24"/><circle cx="345.97" cy="212.85" r="1.42"/><circle cx="287.85" cy="230.41" r="2.8"/><circle cx="217.59" cy="297.19" r="1.78"/><circle cx="279.43" cy="294.21" r="2.43"/><circle cx="333.45" cy="269.84" r="1.29"/><circle cx="326.34" cy="256.94" r="1.76"/><circle cx="210.63" cy="285.26" r="2.25"/><circle cx="335.82" cy="277.01" r="2.93"/><circle cx="273.6" cy="268.78" r="2.3"/><circle cx="222.06" cy="296.89" r="1.76"/><circle cx="309.56" cy="296.66" r="2.37"/><circle cx="202.61" cy="282.58" r="2.4"/><circle cx="209.77" cy="198.14" r="2.16"/><circle cx="184.2" cy="293.45" r="2.11"/><circle cx="265.4" cy="237.35" r="2.39"/><circle cx="332.22" cy="226.23" r="1.87"/><circle cx="276.33" cy="225.15" r="2.27"/><circle cx="269.72" cy="239.96" r="2.41"/><circle cx="267.23" cy="202.39" r="2.99"/><circle cx="238.34" cy="239.78" r="1.93"/><circle cx="334.4" cy="296.39" r="2.12"/><circle cx="245.87" cy="203.31" r="2.81"/><circle cx="207.49" cy="252.27" r="1.83"/><circle cx="233.76" cy="231.66" r="1.54"/><circle cx="184.99" cy="251.06" r="2.63"/><circle cx="287.12" cy="214.72" r="2.45"/><circle cx="187.52" cy="237.49" r="2.69"/><circle cx="332.98" cy="242.91" r="2.72"/><circle cx="262.25" cy="249.81" r="2.25"/><circle cx="344.74" cy="273.71" r="2.05"/><circle cx="300.54" cy="262.79" r="1.84"/><circle cx="310.07" cy="281.99" r="2.3"/><circle cx="336.61" cy="194.78" r="2.1"/><circle cx="285.03" cy="229.85" r="1.51"/><circle cx="294.65" cy="240.06" r="1.68"/><circle cx="185.81" cy="298.02" r="1.83"/><circle cx="198.57" cy="216.34" r="1.66"/><circle cx="323.8" cy="212.46" r="1.7"/><circle cx="195.1" cy="243.93" r="1.57"/><circle cx="236.41" cy="272.76" r="2.87"/><circle cx="318.44" cy="196.97" r="1.88"/><circle cx="320.91" cy="196.39" r="1.57"/><circle cx="260.82" cy="234.41" r="2.55"/><circle cx="299.02" cy="243.33" r="1.65"/><circle cx="217.43" cy="221.77" r="1.32"/><circle cx="290.25" cy="209.97" r="2.8"/><circle cx="286.93" cy="198.98" r="2.1"/><circle cx="279.85" cy="197.4" r="2.08"/><circle cx="183.8" cy="276.17" r="1.21"/><circle cx="284.6" cy="300.03" r="2.72"/><circle cx="217.86" cy="250.96" r="1.45"/><circle cx="236.1" cy="286.79" r="2.67"/><circle cx="180.32" cy="234.13" r="2.35"/><circle cx="208.18" cy="280.13" r="2.81"/><circle cx="271.1" cy="232.19" r="2.73"/><circle cx="264.65" cy="213.29" r="1.7"/><circle cx="205.44" cy="284.05" r="2.12"/><circle cx="295.42" cy="281.73" r="2.95"/><circle cx="210.69" cy="236.94" r="2.77"/><circle cx="306.31" cy="234.88" r="2.38"/><circle cx="211.44" cy="210.4" r="1.29"/><circle cx="242.36" cy="218.47" r="2.13"/><circle cx="341.1" cy="209.43" r="2.2"/><circle cx="323.54" cy="257.91" r="2.15"/><circle cx="307.33" cy="195.17" r="2.91"/><circle cx="293.71" cy="280.56" r="2.69"/><circle cx="195.3" cy="200.05" r="1.52"/><circle cx="263.3" cy="294.89" r="2.84"/><circle cx="247.76" cy="260.52" r="2.53"/><circle cx="234.44" cy="298.39" r="2.9"/><circle cx="300.49" cy="290.88" r="2.64"/><circle cx="287.98" cy="227.76" r="1.71"/><circle cx="218.72" cy="199.04" r="2.87"/><circle cx="228.74" cy="195.4" r="1.77"/><circle cx="196.07" cy="241.23" r="1.8"/><circle cx="208.18" cy="244.67" r="1.95"/><circle cx="238.07" cy="281.28" r="1.75"/><circle cx="269.4" cy="288.32" r="2.93"/><circle cx="241.53" cy="197.21" r="2.91"/><circle cx="264.87" cy="216.47" r="1.43"/><circle cx="218.81" cy="226.58" r="1.45"/><circle cx="187.01" cy="300.99" r="2.68"/><circle cx="197.77" cy="245.1" r="2.64"/><circle cx="263.25" cy="200.33" r="1.81"/><circle cx="242.53" cy="292.3" r="2.25"/><circle cx="255.63" cy="261.42" r="1.29"/><circle cx="293.67" cy="280.71" r="2.41"/><circle cx="239.21" cy="223.91" r="1.22"/><circle cx="192.53" cy="209.62" r="2.02"/><circle cx="309.08" cy="216.42" r="2.05"/><circle cx="285.25" cy="261.29" r="1.24"/><circle cx="332.9" cy="256.48" r="1.75"/><circle cx="218.86" cy="267.76" r="2.88"/><circle cx="235.27" cy="236.11" r="2.2"/><circle cx="208.09" cy="236.96" r="2.85"/><circle cx="271.94" cy="282.35" r="1.67"/><circle cx="324.22" cy="277.95" r="1.61"/><circle cx="267.52" cy="266.99" r="2.23"/><circle cx="279.57" cy="218.92" r="2.2"/><circle cx="238.15" cy="279.62" r="1.87"/><circle cx="342.76" cy="255.96" r="1.61"/><circle cx="248.39" cy="206.73" r="2.53"/><circle cx="186.49" cy="258.62" r="1.75"/><circle cx="308.88" cy="206.6" r="2.42"/><circle cx="298.32" cy="218.16" r="1.43"/><circle cx="241.16" cy="263.41" r="1.67"/><circle cx="180.27" cy="240.83" r="2.66"/><circle cx="205.22" cy="295.15" r="2.11"/><circle cx="205.68" cy="203.69" r="1.87"/><circle cx="258.55" cy="211.91" r="1.35"/><circle cx="262.71" cy="220.44" r="2"/><circle cx="254.26" cy="268.67" r="2.24"/><circle cx="217.02" cy="212.35" r="2.75"/><circle cx="187.25" cy="206.2" r="1.33"/><circle cx="317.12" cy="251.66" r="2.86"/><circle cx="283.64" cy="229.29" r="1.97"/><circle cx="301.4" cy="217.96" r="2.65"/><circle cx="247.02" cy="197.39" r="1.82"/><circle cx="272.59" cy="208.75" r="2.83"/><circle cx="333.84" cy="248.43" r="2.83"/><circle cx="294.3" cy="251.34" r="1.48"/><circle cx="338.3" cy="292.85" r="2.01"/><circle cx="243.23" cy="200.81" r="2.31"/><circle cx="321.91" cy="235.11" r="1.72"/><circle cx="281.4" cy="279.12" r="1.51"/><circle cx="226.07" cy="262.68" r="1.27"/><circle cx="315.53" cy="227.13" r="2.7"/><circle cx="254.94" cy="210.81" r="1.23"/><circle cx="197.76" cy="221.12" r="2.56"/><circle cx="311.72" cy="261.48" r="1.75"/><circle cx="289.96" cy="272.5" r="1.86"/><circle cx="192.45" cy="243.82" r="1.6"/><circle cx="210.38" cy="235.29" r="1.33"/><circle cx="329.11" cy="223.35" r="2.82"/><circle cx="302.24" cy="193.98" r="2.82"/><circle cx="314.3" cy="249.96" r="2.79"/><circle cx="258.88" cy="195.53" r="1.47"/><circle cx="230.79" cy="286.15" r="2.69"/><circle cx="198.54" cy="230.87" r="1.4"/><circle cx="217.04" cy="231.11" r="1.95"/><circle cx="203.89" cy="264.35" r="1.64"/><circle cx="327.8" cy="245.18" r="1.97"/><circle cx="307" cy="230.33" r="1.66"/><circle cx="199.32" cy="224.87" r="1.62"/><circle cx="301.87" cy="231.42" r="2.47"/><circle cx="224.93" cy="200.4" r="1.75"/><circle cx="244.53" cy="291.82" r="1.56"/><circle cx="214.23" cy="209.77" r="1.66"/><circle cx="339.56" cy="294.19" r="1.61"/><circle cx="187.14" cy="245.73" r="2.25"/><circle cx="197.49" cy="238.29" r="2.58"/><circle cx="179.02" cy="270.98" r="2.43"/><circle cx="310.45" cy="245.77" r="2.04"/><circle cx="265.6" cy="207.63" r="2.13"/><circle cx="218.89" cy="227.72" r="1.28"/><circle cx="205.33" cy="198.81" r="2.17"/><circle cx="218.36" cy="253.25" r="2.11"/><circle cx="217.8" cy="206.63" r="2.27"/><circle cx="292.06" cy="267.91" r="2.11"/><circle cx="275.89" cy="195.47" r="1.75"/><circle cx="312.82" cy="233.84" r="1.39"/><circle cx="249.26" cy="283.54" r="1.38"/><circle cx="197.52" cy="247.02" r="2.77"/><circle cx="244.16" cy="219.78" r="2.58"/><circle cx="194.59" cy="224.94" r="2.28"/><circle cx="320.99" cy="286.48" r="1.79"/><circle cx="223.37" cy="232.34" r="1.42"/><circle cx="224.44" cy="276.2" r="2.96"/><circle cx="224.03" cy="200.68" r="2.53"/><circle cx="340.53" cy="279.2" r="1.94"/><circle cx="303.35" cy="275.55" r="2.54"/><circle cx="261.3" cy="301.49" r="2.61"/><circle cx="218.15" cy="239.66" r="1.36"/><circle cx="241.52" cy="281.72" r="2.08"/><circle cx="266.56" cy="277.56" r="1.36"/><circle cx="238.01" cy="245.39" r="2.09"/><circle cx="293.43" cy="294.74" r="2.64"/><circle cx="270.12" cy="267.21" r="2.17"/><circle cx="343.9" cy="257.7" r="2.27"/><circle cx="245.08" cy="238.42" r="2.58"/><circle cx="241.22" cy="291.13" r="2.51"/><circle cx="338.69" cy="269.68" r="2.23"/><circle cx="240.21" cy="194.76" r="2.39"/><circle cx="304.58" cy="271.48" r="2.57"/><circle cx="184.79" cy="267.23" r="1.7"/><circle cx="243.85" cy="287.3" r="1.93"/><circle cx="256.96" cy="198.32" r="1.53"/><circle cx="213.99" cy="216.2" r="2.14"/><circle cx="186.76" cy="202.49" r="1.36"/><circle cx="301.59" cy="298.38" r="2.55"/><circle cx="264.99" cy="207" r="2.61"/><circle cx="200.48" cy="201.15" r="2.12"/><circle cx="323.16" cy="226.6" r="2.75"/><circle cx="234.4" cy="297.95" r="2.53"/><circle cx="323.59" cy="299.92" r="2.67"/><circle cx="211.65" cy="248.94" r="2.18"/><circle cx="299.72" cy="217.79" r="2.24"/><circle cx="226.37" cy="212.84" r="2.01"/><circle cx="313.31" cy="253.06" r="1.84"/><circle cx="216.6" cy="231.85" r="1.92"/><circle cx="224.28" cy="226.64" r="1.61"/><circle cx="228.03" cy="266.06" r="2.33"/><circle cx="283.69" cy="293.32" r="2.4"/><circle cx="200.57" cy="236.72" r="2.14"/><circle cx="303.74" cy="250.49" r="1.37"/><circle cx="258.48" cy="264.07" r="2.61"/><circle cx="253.45" cy="216.06" r="1.26"/><circle cx="263.02" cy="274.39" r="1.4"/><circle cx="266.35" cy="257.74" r="2.21"/><circle cx="217.57" cy="202.81" r="1.24"/><circle cx="229.9" cy="290.37" r="1.95"/><circle cx="344.01" cy="282.5" r="2.25"/><circle cx="252.44" cy="253.98" r="2.71"/><circle cx="234.77" cy="209.79" r="2.82"/><circle cx="284.43" cy="233.91" r="1.92"/><circle cx="195.73" cy="254.52" r="2.61"/><circle cx="262.27" cy="268.67" r="2.53"/><circle cx="234.2" cy="262.2" r="2.95"/><circle cx="298.58" cy="212.71" r="2.39"/><circle cx="286.71" cy="277.18" r="2.46"/><circle cx="331.56" cy="299.01" r="1.58"/><circle cx="259.07" cy="197.75" r="2.98"/><circle cx="196.64" cy="239.19" r="2.31"/><circle cx="250.64" cy="211.46" r="2.1"/><circle cx="216.19" cy="246.11" r="2.49"/><circle cx="228.87" cy="241.39" r="2.34"/><circle cx="267.83" cy="279.94" r="2.8"/><circle cx="340.67" cy="210.76" r="2.07"/><circle cx="198.57" cy="268.79" r="1.91"/><circle cx="321" cy="245.39" r="2.64"/><circle cx="183.96" cy="259.5" r="1.94"/><circle cx="318.21" cy="204.02" r="1.36"/><circle cx="293.91" cy="228.3" r="1.98"/><circle cx="246.45" cy="300.02" r="2.32"/><circle cx="318.19" cy="284.1" r="2.74"/><circle cx="253.65" cy="224.36" r="2.13"/><circle cx="328.52" cy="288.9" r="2.06"/><circle cx="330.6" cy="275.76" r="1.27"/><circle cx="284.87" cy="279.16" r="1.28"/><circle cx="242" cy="263.01" r="2.11"/><circle cx="267.52" cy="202.61" r="1.67"/><circle cx="324.22" cy="230.8" r="2.06"/><circle cx="277.63" cy="223.55" r="1.95"/><circle cx="263.44" cy="287.34" r="2.72"/><circle cx="208.41" cy="247.55" r="2.55"/><circle cx="328.88" cy="250.54" r="2.34"/><circle cx="286.87" cy="265.43" r="2.81"/><circle cx="343.77" cy="300.66" r="1.42"/><circle cx="298.77" cy="235.01" r="1.7"/><circle cx="195.5" cy="291.89" r="2.81"/><circle cx="267.3" cy="246.94" r="1.57"/><circle cx="334.03" cy="275.2" r="1.5"/><circle cx="274.88" cy="301.15" r="1.67"/><circle cx="241.27" cy="232.33" r="1.87"/><circle cx="198.47" cy="261.15" r="1.64"/><circle cx="292.7" cy="243.71" r="2.72"/><circle cx="303.79" cy="286.18" r="1.48"/><circle cx="311.81" cy="277.07" r="1.73"/><circle cx="178.95" cy="203.6" r="2.59"/></g>
<g fill="#e2d4ee"><circle cx="236.47" cy="208.35" r="4.95"/><circle cx="244.47" cy="191.08" r="4.89"/><circle cx="347.91" cy="282.25" r="4.86"/><circle cx="197.59" cy="296.13" r="4.85"/><circle cx="243.79" cy="216.68" r="4.82"/><circle cx="345.85" cy="267.72" r="4.81"/><circle cx="340.27" cy="254.83" r="4.79"/><circle cx="258.74" cy="218.38" r="4.77"/><circle cx="222.36" cy="302.89" r="4.77"/><circle cx="316.16" cy="296.65" r="4.77"/><circle cx="224.9" cy="243.17" r="4.75"/><circle cx="275.31" cy="192.6" r="4.71"/><circle cx="332.16" cy="245.96" r="4.66"/><circle cx="309.19" cy="284.95" r="4.64"/><circle cx="300.59" cy="264.04" r="4.6"/><circle cx="256.97" cy="231.26" r="4.54"/><circle cx="335.6" cy="199.2" r="4.52"/><circle cx="318.02" cy="192.99" r="4.49"/><circle cx="305.95" cy="200.43" r="4.43"/><circle cx="342.11" cy="295.95" r="4.26"/><circle cx="186.74" cy="214.16" r="4.2"/><circle cx="232.06" cy="225.11" r="4.18"/><circle cx="185.61" cy="252.79" r="4.14"/><circle cx="213.19" cy="200.18" r="4.12"/><circle cx="341.38" cy="244.82" r="4.09"/><circle cx="204.11" cy="236.6" r="4.04"/><circle cx="177.96" cy="209.03" r="3.92"/><circle cx="179.73" cy="294.16" r="3.9"/><circle cx="337.39" cy="235.23" r="3.87"/><circle cx="252.33" cy="256" r="3.79"/><circle cx="207.46" cy="214.79" r="3.79"/><circle cx="212.34" cy="300.48" r="3.75"/><circle cx="306.36" cy="217.44" r="3.75"/><circle cx="235.75" cy="271.54" r="3.74"/><circle cx="214.5" cy="289.01" r="3.74"/><circle cx="255.35" cy="202.2" r="3.74"/><circle cx="195.82" cy="218.23" r="3.74"/><circle cx="227.2" cy="201.3" r="3.74"/><circle cx="201.15" cy="245.9" r="3.74"/><circle cx="214.62" cy="276.1" r="3.73"/><circle cx="319.98" cy="210.26" r="3.73"/><circle cx="293.62" cy="277.72" r="3.73"/><circle cx="331.23" cy="294.07" r="3.73"/><circle cx="178.86" cy="279.59" r="3.73"/><circle cx="216.95" cy="210.87" r="3.72"/><circle cx="239.15" cy="301.28" r="3.72"/><circle cx="239.53" cy="249.88" r="3.72"/><circle cx="306.15" cy="244.99" r="3.72"/><circle cx="269.14" cy="275.34" r="3.72"/><circle cx="189.12" cy="292.11" r="3.72"/><circle cx="227.28" cy="252.93" r="3.72"/><circle cx="318.96" cy="257.55" r="3.71"/><circle cx="297.47" cy="246.28" r="3.71"/><circle cx="176.9" cy="249.5" r="3.71"/><circle cx="318.08" cy="235.15" r="3.71"/><circle cx="279.78" cy="265.16" r="3.71"/><circle cx="214.62" cy="227.86" r="3.7"/><circle cx="272.33" cy="293.42" r="3.7"/><circle cx="270.85" cy="207.33" r="3.7"/><circle cx="226.08" cy="288.51" r="3.69"/><circle cx="201.7" cy="283.96" r="3.69"/><circle cx="299.58" cy="301.92" r="3.69"/><circle cx="290.14" cy="269.07" r="3.69"/><circle cx="256.93" cy="297.57" r="3.69"/><circle cx="194.65" cy="234.09" r="3.69"/><circle cx="181.32" cy="226.95" r="3.68"/><circle cx="246.36" cy="279.36" r="3.68"/><circle cx="208.39" cy="190.86" r="3.68"/><circle cx="264.62" cy="267.97" r="3.67"/><circle cx="338.28" cy="275.05" r="3.67"/><circle cx="180.11" cy="261.23" r="3.67"/><circle cx="326.13" cy="216.14" r="3.67"/><circle cx="235.2" cy="193.56" r="3.67"/><circle cx="336.13" cy="213.37" r="3.66"/><circle cx="223.87" cy="265.49" r="3.66"/><circle cx="193.78" cy="272.71" r="3.66"/><circle cx="326.64" cy="261.9" r="3.65"/><circle cx="334.2" cy="225.1" r="3.65"/><circle cx="304.65" cy="209.16" r="3.65"/><circle cx="242.51" cy="233.07" r="3.65"/><circle cx="197.38" cy="194.18" r="3.65"/><circle cx="231.76" cy="237.48" r="3.65"/><circle cx="187.75" cy="301.27" r="3.65"/><circle cx="288.32" cy="294.21" r="3.64"/><circle cx="246.83" cy="269.63" r="3.64"/><circle cx="265.63" cy="289.08" r="3.64"/><circle cx="187.5" cy="205.57" r="3.64"/><circle cx="292.91" cy="258.07" r="3.64"/><circle cx="302.49" cy="273.06" r="3.63"/><circle cx="309.12" cy="268.97" r="3.63"/><circle cx="314.82" cy="216.82" r="3.63"/><circle cx="325.82" cy="203.66" r="3.62"/><circle cx="283.43" cy="244.41" r="3.62"/><circle cx="249.4" cy="286.99" r="3.62"/><circle cx="192.96" cy="284.88" r="3.62"/><circle cx="347.81" cy="229.56" r="3.62"/><circle cx="305.46" cy="256.42" r="3.62"/><circle cx="203.5" cy="201.33" r="3.61"/><circle cx="207.04" cy="293.07" r="3.61"/><circle cx="213.65" cy="262.65" r="3.61"/><circle cx="275.57" cy="251.57" r="3.61"/><circle cx="296.02" cy="229.91" r="3.6"/><circle cx="258.43" cy="279.1" r="3.6"/><circle cx="281.82" cy="280.98" r="3.59"/><circle cx="308.7" cy="301.89" r="3.59"/><circle cx="263.48" cy="191.64" r="3.59"/><circle cx="227.38" cy="280.34" r="3.59"/><circle cx="314.64" cy="202.86" r="3.59"/><circle cx="242.28" cy="261.24" r="3.59"/><circle cx="227.96" cy="214.56" r="3.59"/><circle cx="256.73" cy="248" r="3.58"/><circle cx="295.08" cy="197.89" r="3.58"/><circle cx="315.74" cy="276.51" r="3.58"/><circle cx="345.49" cy="197.54" r="3.58"/><circle cx="322.92" cy="302.89" r="3.58"/><circle cx="286.97" cy="251.62" r="3.58"/><circle cx="306.04" cy="233.92" r="3.58"/><circle cx="215.03" cy="247.99" r="3.57"/><circle cx="322.77" cy="244.56" r="3.57"/><circle cx="236.1" cy="289.99" r="3.57"/><circle cx="230.62" cy="295.62" r="3.57"/><circle cx="194.44" cy="256.85" r="3.57"/><circle cx="321.59" cy="227.26" r="3.57"/><circle cx="186.57" cy="237.36" r="3.57"/><circle cx="324.73" cy="289.16" r="3.57"/><circle cx="288.96" cy="190.96" r="3.57"/><circle cx="278.76" cy="298.46" r="3.57"/><circle cx="272.8" cy="283.57" r="3.57"/><circle cx="330.87" cy="268.49" r="3.56"/><circle cx="296.85" cy="214.31" r="3.56"/><circle cx="266.1" cy="255.79" r="3.56"/><circle cx="345.53" cy="210.46" r="3.56"/><circle cx="311.07" cy="224.85" r="3.56"/><circle cx="245.76" cy="242.89" r="3.56"/><circle cx="187.67" cy="279.14" r="3.56"/><circle cx="264.24" cy="199.77" r="3.55"/><circle cx="183.41" cy="285.91" r="3.55"/><circle cx="186.64" cy="191.94" r="3.55"/><circle cx="332.71" cy="284.37" r="3.54"/><circle cx="317.22" cy="268.76" r="3.54"/><circle cx="289.07" cy="225.8" r="3.54"/><circle cx="219.26" cy="220.66" r="3.54"/><circle cx="214.79" cy="240.34" r="3.54"/><circle cx="185.5" cy="267.7" r="3.54"/><circle cx="199.72" cy="225.04" r="3.54"/><circle cx="264.02" cy="242.99" r="3.54"/><circle cx="347.71" cy="219.74" r="3.53"/><circle cx="325.22" cy="274.5" r="3.53"/><circle cx="248.38" cy="301.68" r="3.53"/><circle cx="246.46" cy="204.54" r="3.53"/><circle cx="195.53" cy="203.27" r="3.53"/><circle cx="277.88" cy="238.24" r="3.53"/><circle cx="179.17" cy="240.39" r="3.53"/><circle cx="181.73" cy="200.46" r="3.53"/><circle cx="307.32" cy="293.57" r="3.53"/><circle cx="200.63" cy="262.6" r="3.52"/><circle cx="262.97" cy="302.47" r="3.52"/><circle cx="241.5" cy="225.31" r="3.52"/><circle cx="272.07" cy="263.18" r="3.52"/><circle cx="272.67" cy="244.3" r="3.52"/><circle cx="259.46" cy="209.42" r="3.51"/><circle cx="178.15" cy="302.24" r="3.51"/><circle cx="257.18" cy="270.22" r="3.51"/><circle cx="178.83" cy="219.16" r="3.5"/><circle cx="279.05" cy="288.27" r="3.5"/><circle cx="287.46" cy="235.71" r="3.5"/><circle cx="306.46" cy="190.83" r="3.49"/><circle cx="233.87" cy="259.62" r="3.49"/><circle cx="177.81" cy="191.42" r="3.49"/><circle cx="250.56" cy="225.27" r="3.49"/><circle cx="327.83" cy="192.3" r="3.49"/><circle cx="205.12" cy="274.04" r="3.48"/><circle cx="225.32" cy="233.23" r="3.48"/><circle cx="292.72" cy="207.52" r="3.48"/><circle cx="299" cy="284.25" r="3.48"/><circle cx="329.68" cy="231.86" r="3.48"/><circle cx="300.17" cy="238.99" r="3.47"/><circle cx="314.51" cy="244.45" r="3.47"/><circle cx="253.57" cy="239.78" r="3.47"/><circle cx="205.95" cy="256.51" r="3.47"/><circle cx="192.95" cy="241.9" r="3.46"/><circle cx="257.28" cy="288.95" r="3.45"/><circle cx="225.05" cy="192.35" r="3.45"/><circle cx="219.53" cy="282.51" r="3.44"/><circle cx="259.69" cy="259.99" r="3.43"/><circle cx="332.95" cy="302.67" r="3.43"/><circle cx="199.33" cy="211.2" r="3.42"/><circle cx="296.49" cy="292.61" r="3.41"/><circle cx="296.85" cy="221.81" r="3.41"/><circle cx="278.57" cy="273.41" r="3.41"/><circle cx="237.06" cy="279.96" r="3.4"/><circle cx="217.12" cy="255.24" r="3.4"/><circle cx="223.92" cy="273.44" r="3.39"/><circle cx="239.74" cy="199.68" r="3.39"/><circle cx="318.93" cy="284" r="3.38"/><circle cx="204.16" cy="302.56" r="3.38"/><circle cx="176.88" cy="233.15" r="3.36"/><circle cx="272.78" cy="303.09" r="3.36"/><circle cx="330.72" cy="255.57" r="3.35"/><circle cx="285.28" cy="259.46" r="3.35"/><circle cx="346.95" cy="238.97" r="3.34"/><circle cx="177.23" cy="269.05" r="3.34"/><circle cx="290.47" cy="303.16" r="3.33"/><circle cx="208.18" cy="223.86" r="3.3"/><circle cx="336.51" cy="263.4" r="3.3"/><circle cx="255.11" cy="192.1" r="3.29"/><circle cx="246.1" cy="294.04" r="3.26"/><circle cx="284.23" cy="196.98" r="3.26"/><circle cx="189.71" cy="225.01" r="3.25"/><circle cx="217.72" cy="192.58" r="3.24"/><circle cx="288.2" cy="285.76" r="3.24"/><circle cx="313.02" cy="252.87" r="3.23"/><circle cx="297.65" cy="190.82" r="3.22"/><circle cx="340.25" cy="219.74" r="3.22"/><circle cx="209.29" cy="281.91" r="3.21"/><circle cx="339.73" cy="191.69" r="3.21"/><circle cx="281.31" cy="230.45" r="3.17"/><circle cx="251.06" cy="210.71" r="3.14"/><circle cx="303.51" cy="225.19" r="3.11"/><circle cx="346.16" cy="303.58" r="3.1"/><circle cx="235.25" cy="217.38" r="3.09"/><circle cx="192.79" cy="264.06" r="3.05"/><circle cx="275.18" cy="200.87" r="3.03"/><circle cx="231.16" cy="303.19" r="3.03"/><circle cx="340.84" cy="288.2" r="3.02"/><circle cx="220.84" cy="293.58" r="3.01"/><circle cx="239.16" cy="240.01" r="3"/><circle cx="332.28" cy="207.08" r="3"/><circle cx="347.99" cy="250.01" r="2.98"/><circle cx="223.69" cy="226.27" r="2.97"/><circle cx="193.3" cy="248.84" r="2.94"/><circle cx="252.57" cy="263.25" r="2.93"/><circle cx="325.14" cy="251.25" r="2.9"/><circle cx="207.82" cy="207.1" r="2.85"/><circle cx="342.57" cy="204.05" r="2.84"/><circle cx="290.51" cy="242.52" r="2.83"/><circle cx="230.79" cy="266.44" r="2.8"/><circle cx="331.6" cy="277.51" r="2.78"/><circle cx="311.72" cy="261.55" r="2.78"/><circle cx="348.19" cy="259.65" r="2.78"/><circle cx="210.3" cy="269.36" r="2.78"/><circle cx="250.58" cy="197.01" r="2.76"/><circle cx="328.24" cy="239.06" r="2.75"/><circle cx="209.14" cy="244.44" r="2.74"/><circle cx="242.58" cy="285.74" r="2.73"/><circle cx="232.89" cy="246.04" r="2.71"/><circle cx="312.9" cy="210.17" r="2.7"/><circle cx="265.8" cy="213.88" r="2.68"/><circle cx="249.42" cy="233.9" r="2.67"/><circle cx="217.74" cy="269.87" r="2.67"/><circle cx="286.36" cy="275.71" r="2.64"/><circle cx="190.87" cy="197.68" r="2.59"/><circle cx="220.02" cy="204.63" r="2.56"/><circle cx="207.77" cy="230.26" r="2.54"/><circle cx="184.56" cy="245.41" r="2.53"/><circle cx="245.32" cy="255.17" r="2.51"/><circle cx="324.4" cy="296.01" r="2.51"/><circle cx="220.95" cy="198.41" r="2.5"/><circle cx="222.84" cy="258.84" r="2.48"/><circle cx="307.87" cy="277.03" r="2.46"/><circle cx="298.95" cy="252.86" r="2.46"/><circle cx="252.25" cy="274.83" r="2.44"/><circle cx="264.44" cy="296.05" r="2.42"/><circle cx="326.74" cy="281.86" r="2.41"/><circle cx="183.31" cy="274.05" r="2.41"/><circle cx="199.4" cy="269.02" r="2.41"/><circle cx="283.92" cy="303.55" r="2.41"/><circle cx="196.28" cy="278.93" r="2.4"/><circle cx="347.41" cy="191.07" r="2.39"/><circle cx="278.19" cy="258.57" r="2.38"/><circle cx="320.96" cy="220.76" r="2.36"/><circle cx="204.88" cy="267.37" r="2.36"/><circle cx="249.46" cy="249.51" r="2.35"/><circle cx="266.15" cy="236.37" r="2.34"/><circle cx="206.56" cy="249.63" r="2.33"/><circle cx="218.45" cy="233.73" r="2.33"/><circle cx="187.38" cy="260.22" r="2.31"/><circle cx="263.68" cy="249.7" r="2.31"/><circle cx="200.25" cy="252.65" r="2.25"/><circle cx="339.28" cy="303.13" r="2.23"/><circle cx="265.8" cy="281.59" r="2.23"/><circle cx="342.1" cy="225.93" r="2.19"/><circle cx="223.93" cy="209.09" r="2.18"/><circle cx="327.24" cy="209.81" r="2.16"/><circle cx="346.5" cy="290.28" r="2.14"/><circle cx="311.65" cy="236.78" r="2.14"/><circle cx="212.97" cy="218.42" r="2.14"/><circle cx="187.17" cy="230.66" r="2.12"/><circle cx="268.84" cy="249.88" r="2.12"/><circle cx="332.25" cy="219.13" r="2.11"/><circle cx="241.84" cy="273.73" r="2.1"/><circle cx="340.15" cy="281.39" r="2.09"/><circle cx="227.8" cy="260.21" r="2.08"/><circle cx="212.56" cy="234.27" r="2.07"/><circle cx="319.27" cy="251.19" r="2.06"/><circle cx="193.03" cy="211.43" r="2.06"/><circle cx="272.11" cy="257.1" r="2.05"/><circle cx="298.67" cy="205.63" r="2.04"/><circle cx="202.26" cy="219.16" r="2.03"/><circle cx="233.93" cy="252.66" r="2.03"/><circle cx="291.08" cy="218.62" r="2.02"/><circle cx="310.64" cy="195.29" r="2.02"/><circle cx="270.68" cy="269.29" r="2"/><circle cx="277.31" cy="208.69" r="2"/><circle cx="236.49" cy="231.26" r="1.99"/><circle cx="240.16" cy="295.13" r="1.98"/><circle cx="263.6" cy="224.21" r="1.97"/><circle cx="289.79" cy="201.76" r="1.97"/><circle cx="315.76" cy="229" r="1.97"/><circle cx="259.2" cy="253.83" r="1.95"/><circle cx="226.36" cy="221.37" r="1.93"/><circle cx="303.23" cy="289.03" r="1.92"/><circle cx="324.24" cy="234.27" r="1.91"/><circle cx="315.51" cy="288.94" r="1.91"/><circle cx="176.85" cy="287.61" r="1.89"/><circle cx="324.3" cy="197.63" r="1.88"/><circle cx="302.36" cy="279.32" r="1.87"/><circle cx="231.85" cy="284.4" r="1.87"/><circle cx="199.9" cy="231.01" r="1.84"/><circle cx="193.9" cy="302.76" r="1.84"/><circle cx="241.1" cy="267.06" r="1.83"/><circle cx="326.98" cy="222.24" r="1.81"/><circle cx="251.58" cy="217.57" r="1.81"/><circle cx="185.61" cy="220.76" r="1.79"/><circle cx="204.2" cy="195.46" r="1.79"/><circle cx="229.7" cy="272.38" r="1.79"/><circle cx="254.99" cy="303.24" r="1.79"/><circle cx="324.14" cy="267.6" r="1.78"/><circle cx="268.24" cy="298.94" r="1.78"/><circle cx="265.18" cy="261.97" r="1.77"/><circle cx="261.01" cy="236.74" r="1.77"/><circle cx="293.85" cy="252.03" r="1.76"/><circle cx="348.06" cy="274.77" r="1.75"/><circle cx="270.21" cy="199.1" r="1.75"/><circle cx="297.21" cy="270.44" r="1.74"/><circle cx="264.08" cy="205.73" r="1.73"/><circle cx="293.31" cy="287.89" r="1.72"/><circle cx="222.02" cy="215.07" r="1.71"/><circle cx="263.12" cy="275.22" r="1.69"/><circle cx="210.85" cy="253.07" r="1.68"/><circle cx="348.08" cy="204.28" r="1.68"/><circle cx="316.8" cy="223.95" r="1.67"/><circle cx="229.2" cy="206.85" r="1.66"/><circle cx="282.24" cy="191.67" r="1.66"/><circle cx="281.71" cy="254.12" r="1.65"/><circle cx="252.76" cy="281.92" r="1.65"/><circle cx="284.18" cy="270.72" r="1.65"/><circle cx="292.96" cy="237.86" r="1.64"/><circle cx="258.97" cy="196.25" r="1.63"/><circle cx="337.57" cy="207.52" r="1.63"/><circle cx="301.72" cy="194.84" r="1.63"/><circle cx="321.01" cy="200.5" r="1.63"/><circle cx="202.29" cy="190.85" r="1.63"/><circle cx="233.12" cy="199.78" r="1.62"/><circle cx="232.06" cy="276.48" r="1.61"/><circle cx="251.88" cy="294.67" r="1.6"/><circle cx="343.44" cy="233.88" r="1.6"/><circle cx="237.15" cy="264.85" r="1.59"/><circle cx="231.63" cy="231.55" r="1.59"/><circle cx="307.97" cy="239.49" r="1.57"/><circle cx="322.96" cy="238.74" r="1.56"/><circle cx="238.33" cy="256.1" r="1.56"/><circle cx="212.82" cy="206.75" r="1.56"/><circle cx="333.56" cy="191.64" r="1.55"/><circle cx="206.41" cy="263.23" r="1.54"/><circle cx="247.9" cy="260.9" r="1.53"/><circle cx="197.32" cy="289.28" r="1.5"/><circle cx="338.53" cy="229" r="1.49"/><circle cx="287.09" cy="220.6" r="1.49"/><circle cx="290.88" cy="214.26" r="1.48"/><circle cx="208.19" cy="287.19" r="1.48"/><circle cx="288.19" cy="280.07" r="1.47"/><circle cx="295.12" cy="298.34" r="1.47"/><circle cx="336.03" cy="290.42" r="1.47"/><circle cx="312.42" cy="232.12" r="1.47"/><circle cx="301.19" cy="295.72" r="1.46"/><circle cx="270.72" cy="238.71" r="1.46"/><circle cx="336.84" cy="268.8" r="1.45"/><circle cx="282.02" cy="293.7" r="1.44"/><circle cx="274.42" cy="277.5" r="1.43"/><circle cx="198.8" cy="240.16" r="1.43"/><circle cx="219.24" cy="261.61" r="1.43"/><circle cx="284.59" cy="298.47" r="1.43"/><circle cx="179.17" cy="255.69" r="1.41"/><circle cx="305.15" cy="250.82" r="1.41"/><circle cx="192.24" cy="191.78" r="1.4"/><circle cx="188.22" cy="272.87" r="1.39"/><circle cx="201.71" cy="290.73" r="1.39"/><circle cx="215.94" cy="295.25" r="1.39"/><circle cx="342.82" cy="261.33" r="1.39"/><circle cx="344.3" cy="275.96" r="1.38"/><circle cx="189.16" cy="245.7" r="1.37"/><circle cx="289.56" cy="196.63" r="1.37"/><circle cx="285.39" cy="266.04" r="1.36"/><circle cx="317.18" cy="262.84" r="1.36"/><circle cx="207.53" cy="197.25" r="1.36"/><circle cx="186.4" cy="197.58" r="1.36"/><circle cx="202.14" cy="206.74" r="1.35"/><circle cx="245.39" cy="250.73" r="1.35"/><circle cx="328.62" cy="225.61" r="1.34"/><circle cx="220.73" cy="251.22" r="1.34"/><circle cx="190.21" cy="219.51" r="1.34"/><circle cx="335.33" cy="297.95" r="1.34"/><circle cx="185.13" cy="296.29" r="1.33"/><circle cx="262.03" cy="283.86" r="1.33"/><circle cx="245.82" cy="198.3" r="1.33"/><circle cx="198.92" cy="302.72" r="1.32"/><circle cx="258.64" cy="241.84" r="1.32"/><circle cx="327.69" cy="298.96" r="1.31"/><circle cx="246.26" cy="237.31" r="1.31"/><circle cx="293.75" cy="264.83" r="1.31"/><circle cx="268.92" cy="190.98" r="1.31"/><circle cx="288.73" cy="263.41" r="1.31"/><circle cx="320.98" cy="263.82" r="1.3"/><circle cx="322.81" cy="279.91" r="1.3"/><circle cx="274.63" cy="269.82" r="1.29"/><circle cx="229.72" cy="194.78" r="1.29"/><circle cx="293.4" cy="283.8" r="1.29"/><circle cx="309.58" cy="206.59" r="1.28"/><circle cx="194.64" cy="227.58" r="1.28"/><circle cx="324.38" cy="256.38" r="1.27"/><circle cx="329.25" cy="199.34" r="1.25"/><circle cx="209.19" cy="239.61" r="1.23"/><circle cx="317.05" cy="303.54" r="1.22"/><circle cx="308.36" cy="250.64" r="1.21"/><circle cx="203.56" cy="229.67" r="1.21"/><circle cx="296.04" cy="235.82" r="1.2"/><circle cx="177.43" cy="197.46" r="1.2"/><circle cx="258.73" cy="225.17" r="1.2"/><circle cx="280.91" cy="250.56" r="1.2"/><circle cx="336.46" cy="241.25" r="1.19"/><circle cx="268.17" cy="194.85" r="1.19"/><circle cx="270.9" cy="215.42" r="1.19"/><circle cx="220.1" cy="229.52" r="1.19"/><circle cx="214.1" cy="222.28" r="1.18"/><circle cx="341.17" cy="230.85" r="1.16"/><circle cx="343.84" cy="215.88" r="1.16"/><circle cx="200.47" cy="277.11" r="1.15"/><circle cx="312.19" cy="290.88" r="1.15"/><circle cx="291.16" cy="247.38" r="1.15"/><circle cx="347.65" cy="244.09" r="1.14"/><circle cx="277.95" cy="245.77" r="1.13"/><circle cx="330.84" cy="212.78" r="1.13"/><circle cx="252.46" cy="291.38" r="1.13"/><circle cx="252.16" cy="268.72" r="1.13"/><circle cx="236.95" cy="235.89" r="1.12"/><circle cx="213.06" cy="193.97" r="1.11"/><circle cx="251.49" cy="245.96" r="1.1"/><circle cx="194.25" cy="290.41" r="1.1"/><circle cx="283.04" cy="238.69" r="1.1"/><circle cx="306.8" cy="262.59" r="1.08"/><circle cx="255.79" cy="224.22" r="1.08"/><circle cx="177.2" cy="274.33" r="1.08"/><circle cx="220.73" cy="237.25" r="1.08"/><circle cx="333.16" cy="238.8" r="1.07"/><circle cx="214.41" cy="283.21" r="1.07"/><circle cx="181.81" cy="232.24" r="1.07"/><circle cx="244.61" cy="210.33" r="1.07"/><circle cx="204.11" cy="297.47" r="1.06"/><circle cx="225.34" cy="295.48" r="1.06"/><circle cx="299.94" cy="257.67" r="1.06"/><circle cx="310.23" cy="248.36" r="1.06"/><circle cx="346.68" cy="254.49" r="1.06"/><circle cx="299.25" cy="209.41" r="1.06"/><circle cx="290.73" cy="230.73" r="1.05"/><circle cx="300.7" cy="232.78" r="1.05"/><circle cx="199.94" cy="274.24" r="1.05"/><circle cx="284.13" cy="288.36" r="1.05"/><circle cx="286.19" cy="230.81" r="1.04"/><circle cx="265.53" cy="209.09" r="1.04"/><circle cx="242.82" cy="290.35" r="1.04"/><circle cx="211.19" cy="210.97" r="1.02"/><circle cx="261.59" cy="292.9" r="1.02"/><circle cx="181.6" cy="234.92" r="1.02"/><circle cx="331.83" cy="261.11" r="1.02"/><circle cx="348.16" cy="295.08" r="1.02"/><circle cx="294.83" cy="240.75" r="1.02"/><circle cx="212.19" cy="257.26" r="1.02"/><circle cx="348.09" cy="298.37" r="1.01"/><circle cx="182.7" cy="195.33" r="1.01"/><circle cx="208.76" cy="260.97" r="1.01"/><circle cx="345.68" cy="224.79" r="1"/><circle cx="251.65" cy="206.01" r="1"/><circle cx="215.83" cy="205.34" r="1"/><circle cx="320.81" cy="277.06" r="1"/><circle cx="314.21" cy="302.62" r="1"/><circle cx="335.79" cy="280.35" r="1"/><circle cx="302.31" cy="214.12" r="0.99"/><circle cx="230.95" cy="197.27" r="0.99"/><circle cx="340.43" cy="208.94" r="0.99"/><circle cx="219.8" cy="277.35" r="0.99"/><circle cx="318.35" cy="240.75" r="0.99"/><circle cx="229.87" cy="219.34" r="0.99"/><circle cx="256.08" cy="283.98" r="0.98"/><circle cx="271.62" cy="212.57" r="0.98"/><circle cx="204.93" cy="279.55" r="0.98"/><circle cx="246.41" cy="228.38" r="0.97"/><circle cx="277.56" cy="204.87" r="0.97"/><circle cx="220.43" cy="287.46" r="0.97"/><circle cx="241.27" cy="277.38" r="0.96"/><circle cx="259.24" cy="284.2" r="0.96"/><circle cx="222.47" cy="248.92" r="0.95"/><circle cx="212.84" cy="294.85" r="0.95"/><circle cx="321.42" cy="292.94" r="0.94"/><circle cx="288.11" cy="246.54" r="0.94"/><circle cx="220.08" cy="247.55" r="0.94"/><circle cx="212.68" cy="213.94" r="0.94"/><circle cx="208.96" cy="265.27" r="0.94"/><circle cx="238.37" cy="244.84" r="0.93"/><circle cx="307.84" cy="228.8" r="0.93"/><circle cx="257.41" cy="265.25" r="0.93"/><circle cx="191.18" cy="252.76" r="0.92"/><circle cx="268.13" cy="202.94" r="0.92"/><circle cx="320.2" cy="217.05" r="0.92"/><circle cx="194.45" cy="224.33" r="0.92"/><circle cx="311.22" cy="273.6" r="0.92"/><circle cx="234.79" cy="242.2" r="0.92"/><circle cx="245.98" cy="223.02" r="0.92"/><circle cx="248.33" cy="264.21" r="0.91"/><circle cx="196.74" cy="229.29" r="0.91"/><circle cx="295.99" cy="203.38" r="0.91"/><circle cx="204.82" cy="288.33" r="0.91"/><circle cx="186.67" cy="200.35" r="0.91"/><circle cx="300.91" cy="217.68" r="0.91"/><circle cx="204.43" cy="210.51" r="0.9"/><circle cx="252.43" cy="278.69" r="0.9"/><circle cx="277.13" cy="278.54" r="0.9"/><circle cx="310.92" cy="241.05" r="0.9"/><circle cx="293.24" cy="234.32" r="0.9"/><circle cx="264.15" cy="278.16" r="0.9"/><circle cx="183.01" cy="298.66" r="0.89"/><circle cx="328.02" cy="303.14" r="0.89"/><circle cx="235.1" cy="298.13" r="0.89"/><circle cx="190.63" cy="297.1" r="0.89"/><circle cx="309.36" cy="212.31" r="0.89"/><circle cx="342.38" cy="236.94" r="0.89"/><circle cx="302.14" cy="230.11" r="0.89"/><circle cx="237.33" cy="222.14" r="0.89"/><circle cx="334.04" cy="259.2" r="0.89"/><circle cx="241.15" cy="254.92" r="0.88"/><circle cx="320.08" cy="203.79" r="0.88"/><circle cx="231" cy="290.46" r="0.88"/><circle cx="276.77" cy="230.15" r="0.87"/><circle cx="262.67" cy="233.9" r="0.87"/><circle cx="299.13" cy="201.46" r="0.87"/><circle cx="268" cy="303.53" r="0.86"/><circle cx="303.65" cy="297.68" r="0.86"/><circle cx="192.29" cy="207.74" r="0.86"/><circle cx="217.35" cy="298.84" r="0.86"/><circle cx="202.02" cy="215.17" r="0.86"/><circle cx="227.7" cy="209.56" r="0.85"/><circle cx="223.9" cy="218.08" r="0.85"/><circle cx="236.46" cy="295.36" r="0.84"/><circle cx="253.81" cy="214.46" r="0.84"/><circle cx="339.79" cy="269.74" r="0.84"/><circle cx="302.68" cy="248.98" r="0.84"/><circle cx="337.28" cy="299.93" r="0.84"/><circle cx="279.42" cy="198.44" r="0.84"/><circle cx="302.37" cy="220.85" r="0.84"/><circle cx="256.01" cy="197.15" r="0.83"/><circle cx="277.69" cy="293.11" r="0.83"/><circle cx="302.11" cy="204.86" r="0.83"/><circle cx="244.17" cy="298.27" r="0.83"/><circle cx="180.47" cy="213.77" r="0.83"/><circle cx="196.39" cy="252.04" r="0.83"/><circle cx="259.74" cy="266.11" r="0.83"/><circle cx="222.19" cy="254.18" r="0.83"/><circle cx="177.21" cy="223.96" r="0.83"/><circle cx="318.59" cy="290.25" r="0.83"/><circle cx="343.18" cy="273.25" r="0.82"/><circle cx="232.35" cy="202.65" r="0.82"/><circle cx="230.2" cy="192.12" r="0.82"/><circle cx="261.14" cy="204.87" r="0.82"/><circle cx="190.94" cy="229.73" r="0.82"/><circle cx="301.5" cy="292.15" r="0.82"/><circle cx="205.45" cy="242.15" r="0.82"/><circle cx="287.29" cy="299.56" r="0.81"/><circle cx="337.44" cy="248.86" r="0.81"/><circle cx="260.99" cy="226.74" r="0.81"/><circle cx="227.71" cy="269.95" r="0.81"/><circle cx="275.11" cy="267.06" r="0.81"/><circle cx="183.38" cy="209.19" r="0.81"/><circle cx="255.5" cy="212.56" r="0.8"/><circle cx="311.41" cy="198.65" r="0.8"/><circle cx="293.6" cy="193.12" r="0.8"/><circle cx="334.44" cy="230.72" r="0.8"/><circle cx="303.58" cy="282.63" r="0.8"/><circle cx="205.63" cy="219.77" r="0.8"/><circle cx="313.85" cy="197.85" r="0.8"/><circle cx="210.7" cy="237.37" r="0.8"/><circle cx="273.86" cy="273.25" r="0.8"/><circle cx="250.43" cy="297.3" r="0.8"/><circle cx="228.86" cy="247.95" r="0.8"/><circle cx="309.7" cy="230.64" r="0.79"/><circle cx="268.43" cy="241.02" r="0.79"/><circle cx="341.96" cy="239.16" r="0.79"/><circle cx="247.02" cy="230.73" r="0.79"/><circle cx="190.41" cy="268.74" r="0.79"/><circle cx="300.08" cy="197.61" r="0.79"/><circle cx="188.04" cy="284.39" r="0.79"/><circle cx="238.14" cy="285.52" r="0.79"/><circle cx="254.63" cy="293.14" r="0.78"/><circle cx="311.35" cy="191.59" r="0.78"/><circle cx="313.53" cy="265.55" r="0.78"/><circle cx="284.34" cy="226.77" r="0.78"/><circle cx="334.08" cy="272.34" r="0.78"/><circle cx="293.32" cy="202.51" r="0.78"/><circle cx="319.88" cy="273.24" r="0.77"/><circle cx="252.06" cy="220.66" r="0.77"/><circle cx="231.34" cy="250.01" r="0.77"/><circle cx="248.96" cy="237.87" r="0.77"/><circle cx="341.48" cy="215.07" r="0.77"/><circle cx="315.2" cy="239.34" r="0.77"/><circle cx="299.38" cy="277.52" r="0.77"/><circle cx="187.23" cy="242.47" r="0.77"/><circle cx="326.78" cy="228.01" r="0.77"/><circle cx="314.71" cy="281.68" r="0.77"/><circle cx="243.84" cy="238.22" r="0.77"/><circle cx="219.43" cy="226.27" r="0.76"/><circle cx="281.66" cy="235.29" r="0.76"/><circle cx="176.97" cy="202.6" r="0.76"/><circle cx="336.74" cy="293.55" r="0.76"/><circle cx="292.65" cy="297.05" r="0.76"/><circle cx="245.88" cy="247.88" r="0.76"/><circle cx="338.44" cy="204.55" r="0.76"/><circle cx="261.85" cy="272.42" r="0.76"/><circle cx="304.29" cy="299.83" r="0.76"/><circle cx="176.95" cy="214.43" r="0.76"/><circle cx="291.15" cy="282.32" r="0.76"/><circle cx="188.26" cy="286.67" r="0.76"/><circle cx="258.91" cy="239.11" r="0.76"/><circle cx="182.75" cy="300.89" r="0.76"/><circle cx="184.05" cy="233.22" r="0.75"/><circle cx="294.04" cy="272.33" r="0.75"/><circle cx="210.65" cy="195.44" r="0.75"/><circle cx="330.37" cy="289.14" r="0.75"/><circle cx="232.24" cy="279.99" r="0.75"/><circle cx="271.02" cy="202.11" r="0.75"/><circle cx="337.77" cy="285.1" r="0.75"/><circle cx="273.92" cy="288.64" r="0.75"/><circle cx="209.98" cy="248.53" r="0.75"/><circle cx="283.75" cy="291.58" r="0.75"/><circle cx="182.58" cy="206.52" r="0.75"/><circle cx="200.05" cy="257.4" r="0.75"/><circle cx="235.1" cy="285.22" r="0.75"/><circle cx="319.96" cy="279.39" r="0.75"/><circle cx="335.79" cy="250.69" r="0.75"/><circle cx="218.88" cy="264.75" r="0.75"/><circle cx="279.54" cy="303.31" r="0.75"/><circle cx="267.98" cy="246.19" r="0.75"/></g>
<g fill="#4e1a80" opacity="0.85"><circle cx="325.31" cy="231.67" r="0.79"/><circle cx="295.68" cy="286.57" r="0.69"/><circle cx="267.99" cy="283.13" r="0.84"/><circle cx="319.36" cy="264.99" r="0.96"/><circle cx="310.79" cy="257.85" r="0.72"/><circle cx="294.32" cy="243.32" r="0.87"/><circle cx="234.66" cy="198.48" r="0.74"/><circle cx="280.06" cy="246.67" r="0.61"/><circle cx="192.83" cy="221.88" r="0.55"/><circle cx="339.57" cy="239.65" r="0.84"/><circle cx="282.52" cy="237.24" r="0.75"/><circle cx="188.56" cy="200.73" r="0.73"/><circle cx="239.62" cy="194.91" r="0.51"/><circle cx="255.44" cy="285.33" r="0.76"/><circle cx="301.95" cy="219.62" r="0.93"/><circle cx="260.53" cy="291.33" r="0.64"/><circle cx="182.74" cy="216.76" r="0.76"/><circle cx="280.18" cy="293.5" r="0.64"/><circle cx="289.41" cy="278.37" r="0.67"/><circle cx="294.22" cy="295.83" r="0.66"/><circle cx="278.92" cy="248.75" r="0.52"/><circle cx="279.02" cy="277.57" r="0.84"/><circle cx="330.05" cy="220.8" r="0.81"/><circle cx="282.78" cy="274.69" r="0.78"/><circle cx="250.92" cy="229.61" r="0.57"/><circle cx="190.04" cy="266.34" r="0.78"/><circle cx="239.91" cy="244.01" r="0.97"/><circle cx="325.73" cy="230.55" r="0.95"/><circle cx="214.36" cy="269.74" r="0.73"/><circle cx="235.28" cy="243.92" r="0.72"/><circle cx="328.84" cy="286.01" r="0.84"/><circle cx="251.02" cy="202.47" r="0.99"/><circle cx="249.11" cy="259.3" r="0.58"/><circle cx="234.49" cy="294.44" r="0.85"/><circle cx="193.2" cy="223.12" r="0.72"/><circle cx="215.71" cy="284.05" r="0.99"/><circle cx="279.5" cy="225.11" r="0.87"/><circle cx="330.35" cy="195.9" r="0.76"/><circle cx="288.75" cy="205.86" r="0.81"/><circle cx="262.43" cy="195.95" r="0.85"/><circle cx="201.16" cy="232.96" r="0.82"/><circle cx="218.21" cy="287.06" r="0.54"/><circle cx="249.14" cy="258.79" r="0.84"/><circle cx="316.5" cy="221.11" r="0.62"/><circle cx="259.81" cy="203.62" r="0.54"/><circle cx="290.39" cy="199.03" r="0.97"/><circle cx="268.23" cy="210.65" r="0.82"/><circle cx="205.27" cy="252.46" r="0.91"/><circle cx="249.86" cy="291.35" r="0.51"/><circle cx="255.18" cy="273.97" r="0.79"/><circle cx="189.85" cy="258.91" r="0.59"/><circle cx="187.41" cy="247.42" r="0.99"/><circle cx="222.17" cy="286.37" r="0.99"/><circle cx="303.94" cy="285.09" r="1"/><circle cx="321.85" cy="204.85" r="0.85"/><circle cx="238.77" cy="258.85" r="0.56"/><circle cx="318.59" cy="205.85" r="0.58"/><circle cx="216.84" cy="216.51" r="0.74"/><circle cx="269.55" cy="281.03" r="0.89"/><circle cx="338.95" cy="268.11" r="0.72"/><circle cx="271.35" cy="297.79" r="0.7"/><circle cx="310.32" cy="244.39" r="0.71"/><circle cx="281.41" cy="256.57" r="0.55"/><circle cx="336.26" cy="192.99" r="0.92"/><circle cx="275.55" cy="286.51" r="0.8"/><circle cx="336.89" cy="259.15" r="0.67"/><circle cx="202.08" cy="193.46" r="0.56"/><circle cx="333.93" cy="288.56" r="0.62"/><circle cx="287.84" cy="217.88" r="0.9"/><circle cx="341.61" cy="212.69" r="0.78"/><circle cx="199.19" cy="236.59" r="0.64"/><circle cx="277.64" cy="228.7" r="0.79"/><circle cx="247.65" cy="252.85" r="0.56"/><circle cx="198.96" cy="201.33" r="0.52"/><circle cx="263.05" cy="281.8" r="0.51"/><circle cx="274.15" cy="223.57" r="0.71"/><circle cx="280.59" cy="195.92" r="0.81"/><circle cx="233.66" cy="263.51" r="0.61"/><circle cx="272.87" cy="271.06" r="0.73"/><circle cx="311.93" cy="275.18" r="0.67"/><circle cx="299.72" cy="199.74" r="0.8"/><circle cx="219.6" cy="272.75" r="0.78"/><circle cx="340.69" cy="265.39" r="0.87"/><circle cx="287.35" cy="243.44" r="0.54"/><circle cx="334.84" cy="220.68" r="0.94"/><circle cx="211.38" cy="266.23" r="0.72"/><circle cx="286.46" cy="200.29" r="0.65"/><circle cx="341.22" cy="233.34" r="0.97"/><circle cx="239.17" cy="274.39" r="0.67"/><circle cx="294.84" cy="300.54" r="0.67"/><circle cx="302.18" cy="269.01" r="0.58"/><circle cx="267.72" cy="216.43" r="0.79"/><circle cx="194.72" cy="209.48" r="0.64"/><circle cx="271.94" cy="287.98" r="0.9"/><circle cx="339.81" cy="196.42" r="0.73"/><circle cx="212.14" cy="284.78" r="0.7"/><circle cx="323.21" cy="213.1" r="0.72"/><circle cx="344.61" cy="262.59" r="0.66"/><circle cx="262.99" cy="263.29" r="0.69"/><circle cx="321.47" cy="215" r="0.78"/><circle cx="190.86" cy="193.58" r="0.98"/><circle cx="291.58" cy="298.96" r="0.51"/><circle cx="306.84" cy="249.35" r="0.62"/><circle cx="264.41" cy="259.81" r="0.66"/><circle cx="237.46" cy="220.58" r="1"/><circle cx="200.27" cy="205.47" r="0.65"/><circle cx="202.33" cy="208.8" r="0.64"/><circle cx="299.25" cy="195.88" r="0.85"/><circle cx="228.1" cy="299.54" r="0.87"/><circle cx="209.73" cy="255.63" r="0.55"/><circle cx="193.05" cy="222.71" r="0.97"/><circle cx="234.05" cy="213.25" r="0.99"/><circle cx="331.06" cy="240.92" r="0.85"/><circle cx="302.15" cy="246.08" r="0.91"/><circle cx="191.38" cy="194.6" r="0.63"/><circle cx="307.32" cy="252.24" r="0.68"/><circle cx="201.38" cy="195.08" r="0.96"/><circle cx="341.87" cy="277.65" r="0.55"/><circle cx="288.9" cy="239.57" r="0.64"/><circle cx="267.97" cy="270.79" r="0.51"/><circle cx="344.33" cy="193.72" r="0.78"/><circle cx="340.25" cy="238.58" r="0.93"/><circle cx="188.8" cy="296.45" r="0.61"/><circle cx="271.42" cy="297.56" r="0.8"/><circle cx="274.76" cy="256.49" r="0.77"/><circle cx="209.88" cy="233.72" r="0.68"/><circle cx="297.61" cy="276.32" r="0.92"/><circle cx="218.24" cy="297.58" r="0.83"/><circle cx="247.88" cy="229.59" r="0.53"/><circle cx="181.4" cy="299.4" r="0.68"/><circle cx="267.75" cy="232.98" r="0.77"/><circle cx="212.22" cy="258.68" r="0.72"/><circle cx="196.45" cy="244.5" r="0.75"/><circle cx="299.52" cy="234.99" r="0.83"/><circle cx="243.65" cy="250.83" r="0.71"/><circle cx="298" cy="278.12" r="0.79"/><circle cx="287.73" cy="282.15" r="0.99"/><circle cx="331.78" cy="202.34" r="0.83"/><circle cx="275.74" cy="234.87" r="0.7"/><circle cx="301.44" cy="197.25" r="0.67"/><circle cx="266.22" cy="210.71" r="0.71"/><circle cx="339.19" cy="240.63" r="0.51"/><circle cx="258.72" cy="301.37" r="0.92"/><circle cx="241.19" cy="282.27" r="0.92"/><circle cx="189.1" cy="248.84" r="0.76"/><circle cx="303.72" cy="252.52" r="0.87"/><circle cx="211.17" cy="293.63" r="0.52"/><circle cx="292.5" cy="245.3" r="0.85"/><circle cx="345.53" cy="257.36" r="0.99"/><circle cx="274.08" cy="211.58" r="0.73"/><circle cx="292.72" cy="298.38" r="0.55"/><circle cx="241.04" cy="245.13" r="0.96"/><circle cx="297.89" cy="278.29" r="1"/><circle cx="298.13" cy="297.41" r="0.63"/><circle cx="241.49" cy="288.71" r="0.98"/><circle cx="329.69" cy="222.86" r="0.7"/><circle cx="306.55" cy="222.19" r="0.6"/><circle cx="209.26" cy="259.12" r="0.8"/><circle cx="256.08" cy="243.67" r="1"/><circle cx="182.2" cy="193.62" r="0.93"/><circle cx="338.79" cy="268.02" r="0.6"/><circle cx="198.64" cy="255.1" r="0.58"/><circle cx="281.55" cy="234.12" r="0.51"/><circle cx="336.87" cy="295.21" r="0.51"/><circle cx="253.65" cy="215.71" r="0.64"/><circle cx="245.58" cy="274.97" r="0.53"/><circle cx="184.34" cy="260.54" r="0.77"/><circle cx="304.96" cy="239.86" r="0.9"/><circle cx="222.1" cy="279.57" r="0.83"/><circle cx="335.33" cy="278.04" r="0.99"/><circle cx="314.53" cy="257.63" r="0.6"/><circle cx="288.32" cy="199.82" r="0.87"/><circle cx="293.16" cy="300.13" r="0.96"/><circle cx="343.41" cy="229.94" r="0.56"/><circle cx="275.54" cy="280.01" r="0.52"/><circle cx="274.66" cy="297.03" r="0.7"/><circle cx="247.83" cy="275.46" r="0.89"/><circle cx="289.92" cy="281.86" r="0.64"/><circle cx="228.26" cy="299.87" r="0.85"/><circle cx="255.35" cy="236.31" r="0.62"/><circle cx="241.04" cy="256.45" r="0.67"/><circle cx="223.41" cy="222.48" r="0.61"/><circle cx="232.69" cy="219.75" r="0.58"/><circle cx="252.9" cy="289.31" r="0.84"/><circle cx="222.19" cy="297.21" r="0.57"/><circle cx="246.32" cy="208.5" r="0.69"/><circle cx="236.71" cy="285.37" r="0.63"/><circle cx="191.44" cy="221.71" r="0.53"/><circle cx="197.21" cy="282.24" r="0.94"/><circle cx="266.52" cy="259.98" r="0.55"/><circle cx="198.34" cy="287.44" r="0.75"/><circle cx="191.92" cy="237.27" r="0.82"/><circle cx="277.12" cy="282.12" r="0.65"/><circle cx="262.87" cy="262.31" r="0.82"/><circle cx="256.94" cy="236.62" r="0.62"/><circle cx="212.76" cy="284.92" r="0.73"/><circle cx="266.62" cy="248.5" r="0.93"/><circle cx="246.97" cy="210.6" r="0.89"/><circle cx="263.21" cy="263.51" r="0.62"/><circle cx="218.01" cy="215.7" r="0.74"/><circle cx="321.74" cy="271.29" r="0.96"/><circle cx="330.17" cy="274.19" r="0.78"/><circle cx="216.83" cy="203.77" r="0.83"/><circle cx="227.81" cy="275.13" r="0.99"/><circle cx="225.32" cy="218.85" r="0.61"/><circle cx="326.21" cy="255.41" r="0.54"/><circle cx="212.73" cy="195.57" r="0.88"/><circle cx="192.49" cy="215.07" r="0.94"/><circle cx="282.08" cy="271.18" r="0.58"/><circle cx="209.51" cy="258.26" r="0.84"/><circle cx="306.76" cy="227.16" r="0.6"/><circle cx="213.64" cy="252.65" r="0.93"/><circle cx="259.73" cy="202.78" r="1"/><circle cx="295.05" cy="301.41" r="0.84"/><circle cx="199.99" cy="241.59" r="0.87"/><circle cx="285.91" cy="218.23" r="0.73"/><circle cx="231.75" cy="251.48" r="1"/><circle cx="243.58" cy="208.99" r="0.88"/><circle cx="189.84" cy="210.3" r="0.88"/><circle cx="330.42" cy="221.85" r="0.89"/><circle cx="224.02" cy="222.56" r="0.79"/><circle cx="224.27" cy="222.42" r="0.92"/><circle cx="261.61" cy="251.82" r="0.63"/><circle cx="219.71" cy="275.53" r="0.95"/><circle cx="226.71" cy="196.66" r="0.52"/><circle cx="254.46" cy="226.84" r="0.68"/><circle cx="250.5" cy="266.19" r="0.5"/><circle cx="343.55" cy="193.45" r="0.77"/><circle cx="234.49" cy="234" r="0.64"/><circle cx="329.64" cy="274.04" r="0.78"/><circle cx="218.67" cy="289.12" r="0.75"/><circle cx="273.93" cy="210.72" r="0.53"/><circle cx="300.27" cy="200.03" r="0.6"/><circle cx="223.64" cy="220.99" r="0.64"/><circle cx="245.12" cy="229.83" r="0.76"/><circle cx="336.47" cy="193.3" r="0.91"/><circle cx="206.21" cy="285.26" r="0.7"/><circle cx="232.17" cy="288.41" r="0.78"/><circle cx="221.58" cy="235.14" r="0.9"/><circle cx="217.03" cy="251.44" r="0.67"/><circle cx="248.74" cy="245.6" r="0.54"/><circle cx="192.88" cy="222.13" r="0.68"/><circle cx="185.28" cy="228.39" r="0.97"/><circle cx="334.01" cy="290.91" r="0.85"/><circle cx="305.12" cy="261.48" r="0.7"/><circle cx="274.26" cy="223.54" r="0.87"/><circle cx="231.7" cy="204.12" r="0.71"/><circle cx="214.82" cy="297.03" r="0.65"/><circle cx="336.73" cy="284.55" r="0.66"/><circle cx="304.8" cy="298.37" r="0.68"/><circle cx="184.48" cy="240.85" r="0.93"/><circle cx="256.69" cy="236.52" r="0.98"/><circle cx="238.62" cy="214.51" r="0.69"/><circle cx="261.11" cy="287.33" r="0.54"/><circle cx="313.44" cy="257.24" r="0.81"/><circle cx="300.71" cy="200.11" r="0.89"/><circle cx="299.82" cy="227.02" r="0.77"/><circle cx="214.85" cy="206.65" r="0.61"/><circle cx="219.56" cy="245.86" r="0.87"/><circle cx="305.51" cy="221.99" r="0.55"/><circle cx="293.84" cy="248.76" r="0.87"/><circle cx="181.67" cy="193.66" r="0.62"/><circle cx="210.63" cy="256.45" r="0.79"/><circle cx="247.19" cy="212.2" r="0.64"/><circle cx="242.72" cy="271.22" r="0.87"/><circle cx="268.32" cy="270.51" r="0.59"/><circle cx="331.09" cy="237.27" r="0.73"/><circle cx="260.28" cy="240.97" r="0.73"/><circle cx="207.47" cy="299.79" r="0.71"/><circle cx="244.31" cy="228.54" r="0.98"/><circle cx="247.09" cy="197.01" r="0.56"/><circle cx="277.9" cy="294.33" r="0.58"/><circle cx="224.34" cy="283.75" r="0.73"/><circle cx="301.75" cy="297.75" r="0.55"/><circle cx="287.26" cy="229.39" r="0.87"/><circle cx="301.03" cy="200.22" r="0.99"/><circle cx="224.43" cy="296.87" r="0.65"/><circle cx="281.26" cy="260.06" r="0.59"/><circle cx="241.77" cy="280.03" r="0.52"/><circle cx="261.54" cy="246.89" r="0.83"/><circle cx="181.49" cy="271.47" r="0.88"/><circle cx="230.03" cy="229.47" r="0.95"/><circle cx="226.62" cy="298.02" r="0.68"/><circle cx="250.63" cy="214.66" r="0.58"/><circle cx="208.99" cy="274.38" r="0.94"/><circle cx="317.35" cy="248.8" r="0.5"/><circle cx="321.08" cy="266.53" r="0.67"/><circle cx="236.88" cy="285.03" r="0.58"/><circle cx="317.66" cy="230.78" r="0.51"/><circle cx="249.57" cy="200.68" r="0.53"/><circle cx="243.34" cy="246.77" r="0.74"/><circle cx="264.3" cy="207.86" r="0.63"/><circle cx="309.06" cy="209.48" r="0.98"/><circle cx="301.37" cy="255.23" r="0.51"/><circle cx="318.43" cy="219.61" r="0.95"/><circle cx="335.75" cy="230" r="0.69"/><circle cx="206.73" cy="298.89" r="0.53"/><circle cx="301.85" cy="254.29" r="0.6"/><circle cx="296.04" cy="267.78" r="0.59"/><circle cx="251.91" cy="267.14" r="0.73"/><circle cx="327.11" cy="278.25" r="0.96"/><circle cx="321.18" cy="205.42" r="0.99"/><circle cx="329.42" cy="227.53" r="0.6"/><circle cx="197.12" cy="248.36" r="0.96"/><circle cx="265.03" cy="217.83" r="0.88"/><circle cx="244.22" cy="299.59" r="0.58"/><circle cx="333.72" cy="289.15" r="0.58"/><circle cx="229.98" cy="258.88" r="0.68"/><circle cx="300.09" cy="208.18" r="0.68"/><circle cx="200.27" cy="217.01" r="0.66"/><circle cx="267.03" cy="204.05" r="0.92"/><circle cx="291" cy="232.31" r="0.69"/><circle cx="267.29" cy="218.21" r="0.95"/><circle cx="217.9" cy="278.94" r="0.66"/><circle cx="291.98" cy="265.11" r="0.91"/><circle cx="246.17" cy="211.19" r="0.57"/><circle cx="247.01" cy="251.68" r="0.82"/><circle cx="239.74" cy="244.36" r="0.69"/><circle cx="218.3" cy="230.04" r="0.93"/><circle cx="295.58" cy="238.95" r="0.6"/><circle cx="272.74" cy="288.1" r="0.74"/><circle cx="329.61" cy="280.29" r="0.73"/><circle cx="226.14" cy="269.48" r="0.85"/><circle cx="221.09" cy="270.48" r="0.66"/><circle cx="207.86" cy="277.61" r="0.94"/><circle cx="222.02" cy="236.35" r="0.5"/><circle cx="249.12" cy="215.49" r="0.94"/><circle cx="227.11" cy="298.72" r="0.6"/><circle cx="262.4" cy="214.63" r="0.83"/><circle cx="326.56" cy="247.16" r="0.88"/><circle cx="339.77" cy="239.77" r="0.76"/><circle cx="200.21" cy="278.74" r="0.88"/><circle cx="343.84" cy="228.57" r="0.87"/><circle cx="251.12" cy="192.94" r="0.86"/><circle cx="327.7" cy="242.84" r="0.67"/><circle cx="218.94" cy="246.45" r="0.58"/><circle cx="318.31" cy="246.9" r="0.98"/><circle cx="268.69" cy="282.5" r="0.68"/><circle cx="300.75" cy="199.24" r="0.69"/><circle cx="341.54" cy="211.11" r="0.78"/><circle cx="202.07" cy="197.03" r="0.69"/><circle cx="278.28" cy="196.77" r="0.72"/><circle cx="342.74" cy="230.82" r="0.91"/><circle cx="302.74" cy="294.31" r="0.82"/><circle cx="259.92" cy="292.27" r="0.93"/><circle cx="242.09" cy="281.77" r="0.9"/><circle cx="254.4" cy="260.16" r="0.88"/><circle cx="295.63" cy="267.81" r="0.57"/><circle cx="241.38" cy="237.31" r="0.85"/><circle cx="300.35" cy="230.44" r="0.79"/><circle cx="224.68" cy="197.07" r="0.73"/><circle cx="189.25" cy="256.29" r="0.82"/><circle cx="278.86" cy="226.43" r="0.92"/><circle cx="262.94" cy="277.47" r="0.7"/><circle cx="226.45" cy="298.2" r="0.9"/><circle cx="250.01" cy="281.21" r="0.96"/><circle cx="184.64" cy="260.42" r="0.8"/><circle cx="317.74" cy="199.55" r="0.87"/><circle cx="215.53" cy="217.21" r="0.88"/><circle cx="235.31" cy="275.7" r="0.67"/><circle cx="265.63" cy="217.41" r="0.64"/><circle cx="281.93" cy="269.29" r="0.65"/><circle cx="199.65" cy="235.14" r="0.97"/><circle cx="283.12" cy="275.16" r="0.92"/><circle cx="331.68" cy="235.91" r="0.75"/><circle cx="318.82" cy="230.51" r="0.88"/><circle cx="310.09" cy="256.44" r="0.62"/><circle cx="190.41" cy="276.04" r="0.76"/><circle cx="242.42" cy="209.93" r="0.83"/><circle cx="316.76" cy="240.18" r="0.53"/><circle cx="307.53" cy="212.76" r="0.81"/><circle cx="308.39" cy="264.71" r="0.55"/><circle cx="187.07" cy="233.35" r="0.89"/><circle cx="182.83" cy="242.11" r="1"/><circle cx="287.43" cy="239.93" r="0.73"/><circle cx="269.84" cy="252.45" r="0.82"/><circle cx="179.73" cy="271.95" r="0.89"/><circle cx="199.18" cy="220.82" r="0.62"/><circle cx="343.66" cy="278.73" r="0.68"/><circle cx="205.95" cy="261.12" r="0.96"/></g>
<path d="M279 203 L288 203.5 L287.5 213 L282 223 L276.5 233 L271 238 L268.5 232 L271 220 L275 210Z" fill="#c04ea8" opacity="0.72"/>
</g>
<text x="321.2" y="290.8" font-size="4.6" font-weight="bold" text-anchor="middle" fill="#ecd450" stroke="#ecd450" stroke-width="0.3">200 µm</text>
</g>
<g clip-path="url(#clip33)">
<g filter="url(#wobble)">
<rect x="348.2" y="192.8" width="166.8" height="108.8" fill="#9e60c0"/>
<g fill="#bc88d8" opacity="0.6"><circle cx="443.33" cy="261.59" r="2.67"/><circle cx="394.45" cy="263.72" r="2.8"/><circle cx="499.79" cy="213.09" r="2.37"/><circle cx="451.14" cy="247.57" r="2.94"/><circle cx="436.31" cy="241.24" r="2.9"/><circle cx="454.22" cy="225.58" r="1.76"/><circle cx="430.95" cy="198.52" r="2.29"/><circle cx="470.94" cy="239.16" r="2.72"/><circle cx="502.99" cy="253.25" r="2.43"/><circle cx="367.76" cy="198.89" r="2.96"/><circle cx="395.64" cy="216.01" r="2.81"/><circle cx="473.27" cy="206.2" r="1.78"/><circle cx="388.68" cy="222.47" r="1.21"/><circle cx="435.72" cy="225.91" r="1.91"/><circle cx="379.13" cy="204.78" r="1.26"/><circle cx="493.78" cy="274.11" r="2.21"/><circle cx="368.86" cy="209.01" r="1.42"/><circle cx="401" cy="199.07" r="1.7"/><circle cx="382.04" cy="213.78" r="2.38"/><circle cx="424.56" cy="244.31" r="1.84"/><circle cx="438.11" cy="278.23" r="1.75"/><circle cx="359.91" cy="245.15" r="1.88"/><circle cx="478.39" cy="204.88" r="2.77"/><circle cx="350.67" cy="251.8" r="2"/><circle cx="400.8" cy="289.51" r="2.46"/><circle cx="375.42" cy="246.65" r="2.3"/><circle cx="353.79" cy="202.32" r="2.28"/><circle cx="469.88" cy="243.14" r="1.96"/><circle cx="432.76" cy="221.15" r="2.78"/><circle cx="508.62" cy="245.23" r="1.24"/><circle cx="414.44" cy="280.17" r="1.78"/><circle cx="365.81" cy="212.96" r="2.48"/><circle cx="451.95" cy="223.93" r="2.32"/><circle cx="475.08" cy="297.91" r="2.7"/><circle cx="420.59" cy="280.88" r="2.87"/><circle cx="493.14" cy="274.45" r="2.26"/><circle cx="433.51" cy="285.31" r="2.33"/><circle cx="468.5" cy="217.6" r="1.37"/><circle cx="393.3" cy="256.27" r="2.23"/><circle cx="381.33" cy="213.32" r="2.91"/><circle cx="360.13" cy="293.59" r="2.59"/><circle cx="443.89" cy="301.12" r="2.42"/><circle cx="349.33" cy="294.98" r="1.94"/><circle cx="501.09" cy="281.34" r="1.45"/><circle cx="354.82" cy="195.07" r="2.61"/><circle cx="480.21" cy="217.61" r="1.4"/><circle cx="409.33" cy="279.77" r="2.53"/><circle cx="492.83" cy="298.12" r="2.56"/><circle cx="487.58" cy="194.58" r="1.21"/><circle cx="492.06" cy="260.12" r="1.79"/><circle cx="369.59" cy="228.97" r="1.81"/><circle cx="430.89" cy="241.74" r="1.56"/><circle cx="361.89" cy="214.9" r="1.43"/><circle cx="364.92" cy="237.9" r="1.43"/><circle cx="481.64" cy="252.07" r="2.03"/><circle cx="454.81" cy="218.36" r="1.24"/><circle cx="361.32" cy="229.48" r="1.85"/><circle cx="390.33" cy="226.14" r="2.7"/><circle cx="349.64" cy="241.66" r="1.89"/><circle cx="395.25" cy="271.66" r="1.6"/><circle cx="355.25" cy="210.15" r="2.96"/><circle cx="405.87" cy="205.54" r="2.95"/><circle cx="455.79" cy="296.86" r="1.8"/><circle cx="483.3" cy="197.3" r="1.63"/><circle cx="480.75" cy="248.94" r="2.62"/><circle cx="412.56" cy="288.15" r="1.34"/><circle cx="452.2" cy="213.32" r="1.56"/><circle cx="495.51" cy="239.59" r="2.66"/><circle cx="395.57" cy="272.25" r="2.83"/><circle cx="452.76" cy="218.32" r="2.4"/><circle cx="506.8" cy="279.97" r="2"/><circle cx="414.82" cy="203.53" r="2.58"/><circle cx="374.6" cy="216.57" r="1.26"/><circle cx="375.55" cy="234.55" r="2.06"/><circle cx="377.43" cy="238.98" r="2.56"/><circle cx="364.37" cy="207.53" r="2.14"/><circle cx="498.97" cy="292.64" r="2.22"/><circle cx="363.48" cy="287.86" r="2.99"/><circle cx="498.2" cy="250.57" r="1.89"/><circle cx="446.1" cy="278.81" r="2.99"/><circle cx="430.53" cy="247.92" r="1.76"/><circle cx="438.29" cy="251.95" r="1.71"/><circle cx="424.64" cy="292.41" r="1.62"/><circle cx="390.54" cy="225.94" r="2.75"/><circle cx="398.78" cy="282.77" r="2.87"/><circle cx="494.27" cy="280.31" r="1.55"/><circle cx="423.33" cy="282.37" r="1.64"/><circle cx="448.57" cy="287.56" r="2.88"/><circle cx="406.68" cy="205.78" r="1.26"/><circle cx="401.01" cy="252.33" r="1.7"/><circle cx="485.62" cy="263.53" r="2.32"/><circle cx="486.12" cy="228.53" r="2.37"/><circle cx="406.72" cy="224.27" r="1.41"/><circle cx="479.74" cy="290.76" r="1.26"/><circle cx="467.72" cy="199.59" r="1.95"/><circle cx="401" cy="291.02" r="1.98"/><circle cx="433.39" cy="231.53" r="1.66"/><circle cx="388.78" cy="199.58" r="1.23"/><circle cx="439.96" cy="273.14" r="2.41"/><circle cx="391.45" cy="300.33" r="1.34"/><circle cx="420.2" cy="229.11" r="1.52"/><circle cx="508.5" cy="270.61" r="1.44"/><circle cx="377.73" cy="280.92" r="1.87"/><circle cx="398.49" cy="225.08" r="1.79"/><circle cx="446.42" cy="226.71" r="2.27"/><circle cx="358.77" cy="251.03" r="2.25"/><circle cx="401.54" cy="287.19" r="2.87"/><circle cx="457.81" cy="237.59" r="1.5"/><circle cx="452.55" cy="224.25" r="1.5"/><circle cx="437" cy="214.58" r="2.35"/><circle cx="474.92" cy="194.07" r="2.34"/><circle cx="380.14" cy="229.46" r="2.5"/><circle cx="509.21" cy="226.96" r="2.56"/><circle cx="406.05" cy="295.14" r="1.51"/><circle cx="459.11" cy="201.82" r="2.21"/><circle cx="472.15" cy="292.16" r="2.58"/><circle cx="439.88" cy="236.33" r="2.33"/><circle cx="456.35" cy="259.3" r="2.49"/><circle cx="472.52" cy="294.75" r="2.32"/><circle cx="494.34" cy="273.35" r="1.88"/><circle cx="482.05" cy="232.54" r="2.69"/><circle cx="494.83" cy="290.37" r="2.84"/><circle cx="463.7" cy="247" r="1.72"/><circle cx="454.8" cy="289.91" r="1.85"/><circle cx="383.3" cy="275.17" r="2.84"/><circle cx="382.57" cy="207.93" r="1.4"/><circle cx="440.25" cy="283.33" r="1.65"/><circle cx="480.16" cy="197.86" r="1.58"/><circle cx="439.4" cy="275.27" r="2.09"/><circle cx="462.92" cy="231.92" r="1.88"/><circle cx="435.08" cy="193.02" r="1.56"/><circle cx="406.74" cy="264.22" r="1.55"/><circle cx="388.83" cy="300.57" r="2.37"/><circle cx="416.73" cy="277.99" r="2.49"/><circle cx="484.46" cy="253.59" r="2.31"/><circle cx="364.37" cy="239.43" r="1.91"/><circle cx="390.9" cy="232.5" r="2.79"/><circle cx="385.34" cy="205.17" r="1.8"/><circle cx="376.44" cy="195.35" r="2.84"/><circle cx="439.55" cy="195.69" r="2.16"/><circle cx="377.25" cy="245.38" r="2.9"/><circle cx="511.37" cy="236.06" r="2.61"/><circle cx="430.41" cy="201.54" r="1.92"/><circle cx="483.35" cy="277.42" r="2.5"/><circle cx="512.97" cy="234.19" r="2.46"/><circle cx="484.69" cy="293.37" r="2.77"/><circle cx="493.8" cy="229.82" r="1.88"/><circle cx="451.41" cy="205.84" r="1.75"/><circle cx="410.06" cy="215.19" r="1.53"/><circle cx="457.06" cy="226.48" r="1.3"/><circle cx="481.31" cy="295.73" r="1.6"/><circle cx="462.45" cy="201.85" r="1.6"/><circle cx="375.61" cy="262.62" r="2.21"/><circle cx="485.27" cy="264.57" r="2.56"/><circle cx="494.1" cy="256.28" r="1.61"/><circle cx="375.33" cy="286" r="2.68"/><circle cx="455.9" cy="296.37" r="2.66"/><circle cx="415.41" cy="213.03" r="1.97"/><circle cx="501.22" cy="289.52" r="1.21"/><circle cx="349.4" cy="241.4" r="2.84"/><circle cx="494.77" cy="283.81" r="1.32"/><circle cx="382.56" cy="277.01" r="1.99"/><circle cx="401.44" cy="297.32" r="1.23"/><circle cx="429.34" cy="288.8" r="2.46"/><circle cx="496.38" cy="222.42" r="2.21"/><circle cx="511.47" cy="207.21" r="1.97"/><circle cx="513.55" cy="210.27" r="2.59"/><circle cx="473.12" cy="220.85" r="2.98"/><circle cx="478.41" cy="207.16" r="2.98"/><circle cx="495.44" cy="244.96" r="1.25"/><circle cx="479.03" cy="256.43" r="2.54"/><circle cx="361.48" cy="244.98" r="2.65"/><circle cx="469.7" cy="211.64" r="1.79"/><circle cx="423.97" cy="242.76" r="2.98"/><circle cx="503.9" cy="192.97" r="2.31"/><circle cx="371.14" cy="286.87" r="2.15"/><circle cx="497.94" cy="291.7" r="2.88"/><circle cx="376.35" cy="199.78" r="2.59"/><circle cx="425.81" cy="277.38" r="2"/><circle cx="417.39" cy="272.67" r="1.86"/><circle cx="430.99" cy="236.09" r="2.41"/><circle cx="360.06" cy="243.11" r="2.24"/><circle cx="462.46" cy="290.95" r="1.87"/><circle cx="508.58" cy="269.27" r="1.89"/><circle cx="441.92" cy="232.21" r="2.37"/><circle cx="352.34" cy="290.44" r="1.85"/><circle cx="350.14" cy="202.16" r="1.81"/><circle cx="392.08" cy="283.94" r="1.88"/><circle cx="501.06" cy="223.06" r="1.82"/><circle cx="506.88" cy="286.22" r="2.89"/><circle cx="367.31" cy="200.28" r="2.45"/><circle cx="404.43" cy="204.21" r="1.37"/><circle cx="402.05" cy="226.57" r="2.4"/><circle cx="513.22" cy="211.2" r="2.63"/><circle cx="447.32" cy="287.09" r="2.99"/><circle cx="501.01" cy="207.15" r="2.53"/><circle cx="477.28" cy="234.21" r="1.26"/><circle cx="475.01" cy="261.09" r="2.57"/><circle cx="474.29" cy="272.79" r="1.28"/><circle cx="505.2" cy="296.77" r="1.83"/><circle cx="479.25" cy="294.87" r="1.98"/><circle cx="404.21" cy="258.29" r="2.6"/><circle cx="417.02" cy="268.8" r="2.92"/><circle cx="410.58" cy="291.81" r="1.45"/><circle cx="447.19" cy="283.46" r="1.93"/><circle cx="395.47" cy="223.01" r="1.86"/><circle cx="413.31" cy="237.84" r="1.64"/><circle cx="447.47" cy="216.97" r="1.67"/><circle cx="425.81" cy="291.84" r="1.7"/><circle cx="378.5" cy="277.1" r="2.25"/><circle cx="368.29" cy="298.65" r="1.56"/><circle cx="453.77" cy="218.75" r="2.69"/><circle cx="409.91" cy="261.24" r="2.63"/><circle cx="465.57" cy="226.6" r="1.74"/><circle cx="445.42" cy="249.97" r="2.49"/><circle cx="359.65" cy="199.81" r="1.21"/><circle cx="482.48" cy="211.78" r="2.55"/><circle cx="424.38" cy="296.64" r="2.35"/><circle cx="489.29" cy="203.72" r="2.81"/><circle cx="411.87" cy="197.41" r="2.74"/><circle cx="387.19" cy="263.87" r="1.23"/><circle cx="421.47" cy="243.42" r="2.01"/><circle cx="486.07" cy="224.11" r="2.84"/><circle cx="374.92" cy="298.09" r="1.71"/><circle cx="461.33" cy="294.06" r="2.42"/><circle cx="490.51" cy="202.3" r="2.94"/><circle cx="355.02" cy="266.36" r="2.68"/><circle cx="476.07" cy="271.94" r="2.29"/><circle cx="512.86" cy="217.2" r="2.84"/><circle cx="482.68" cy="213.65" r="2.03"/><circle cx="420.87" cy="209.01" r="2.73"/><circle cx="490.9" cy="274.49" r="1.26"/><circle cx="469.94" cy="293.76" r="2.49"/><circle cx="503.61" cy="297.26" r="2.47"/><circle cx="472" cy="225.71" r="2.59"/><circle cx="400.44" cy="221.72" r="1.79"/><circle cx="399.73" cy="196.97" r="1.47"/><circle cx="394.34" cy="216.39" r="1.24"/><circle cx="470.92" cy="282.61" r="1.8"/><circle cx="467.16" cy="287.33" r="1.25"/><circle cx="443.79" cy="256.95" r="1.51"/><circle cx="498.53" cy="280.38" r="2.16"/><circle cx="437.68" cy="283.4" r="1.3"/><circle cx="494.37" cy="249.84" r="1.75"/><circle cx="391.55" cy="251.69" r="1.38"/><circle cx="486.08" cy="237.27" r="2.81"/><circle cx="507.16" cy="279.14" r="1.4"/><circle cx="388.99" cy="261.36" r="2.89"/><circle cx="452.51" cy="232.04" r="2.66"/><circle cx="425.55" cy="256.96" r="2.02"/><circle cx="506.84" cy="259.48" r="1.39"/><circle cx="455.49" cy="236.64" r="1.5"/><circle cx="430.92" cy="221.72" r="2.91"/><circle cx="384.79" cy="252.07" r="1.21"/><circle cx="398.85" cy="263.69" r="2.1"/><circle cx="458.71" cy="255.23" r="2.31"/><circle cx="391.01" cy="293.33" r="2.37"/><circle cx="352.85" cy="283.66" r="1.5"/><circle cx="417.59" cy="263.39" r="2.82"/><circle cx="376.74" cy="225.01" r="2.13"/></g>
<g fill="#ded0ea"><circle cx="501.99" cy="216.59" r="3.89"/><circle cx="483.93" cy="208.14" r="3.84"/><circle cx="419.4" cy="280.96" r="3.68"/><circle cx="411.16" cy="200.79" r="3.66"/><circle cx="394.68" cy="250.95" r="3.65"/><circle cx="392.39" cy="222.63" r="3.64"/><circle cx="499.96" cy="269.62" r="3.64"/><circle cx="490.94" cy="275.9" r="3.63"/><circle cx="474" cy="286.42" r="3.52"/><circle cx="431.96" cy="225.73" r="3.51"/><circle cx="510.75" cy="197.39" r="3.49"/><circle cx="493.62" cy="201.23" r="3.47"/><circle cx="475.05" cy="251.44" r="3.47"/><circle cx="427.04" cy="266.33" r="3.42"/><circle cx="497.97" cy="260.04" r="3.31"/><circle cx="451.06" cy="220.5" r="3.3"/><circle cx="454.61" cy="231.96" r="3.27"/><circle cx="441.65" cy="200.71" r="3.2"/><circle cx="497.87" cy="227.12" r="3.18"/><circle cx="370.78" cy="270.76" r="3.12"/><circle cx="417.8" cy="246.67" r="3.04"/><circle cx="367.57" cy="194.93" r="3.04"/><circle cx="412.93" cy="231.22" r="3"/><circle cx="511.18" cy="234.62" r="3"/><circle cx="450.03" cy="289.41" r="3"/><circle cx="410.43" cy="223.57" r="2.99"/><circle cx="349.57" cy="208.19" r="2.99"/><circle cx="440.23" cy="269.81" r="2.99"/><circle cx="458.14" cy="288.3" r="2.99"/><circle cx="359.93" cy="279" r="2.98"/><circle cx="368.08" cy="236.43" r="2.98"/><circle cx="428.76" cy="276" r="2.98"/><circle cx="430.95" cy="199.63" r="2.98"/><circle cx="419.58" cy="261.95" r="2.98"/><circle cx="376.36" cy="239.29" r="2.97"/><circle cx="392.79" cy="264.3" r="2.97"/><circle cx="385.76" cy="285.81" r="2.97"/><circle cx="511.12" cy="279.01" r="2.97"/><circle cx="369.9" cy="229.54" r="2.97"/><circle cx="501.01" cy="234.9" r="2.96"/><circle cx="380.98" cy="291.54" r="2.96"/><circle cx="362.5" cy="299.55" r="2.96"/><circle cx="510.43" cy="266.3" r="2.96"/><circle cx="473.38" cy="198.49" r="2.95"/><circle cx="433.94" cy="262.73" r="2.95"/><circle cx="364.17" cy="273.41" r="2.95"/><circle cx="385.11" cy="297.25" r="2.95"/><circle cx="489.78" cy="220.32" r="2.94"/><circle cx="346.5" cy="217.39" r="2.93"/><circle cx="435.32" cy="298.25" r="2.93"/><circle cx="388.16" cy="194.44" r="2.93"/><circle cx="502.82" cy="247.14" r="2.92"/><circle cx="404.15" cy="255.44" r="2.92"/><circle cx="483.01" cy="245.62" r="2.92"/><circle cx="380.98" cy="205.44" r="2.92"/><circle cx="356.93" cy="234.1" r="2.92"/><circle cx="365.36" cy="217.08" r="2.92"/><circle cx="478.05" cy="260.41" r="2.92"/><circle cx="456.98" cy="280.55" r="2.91"/><circle cx="417.81" cy="196.54" r="2.91"/><circle cx="402.35" cy="288.73" r="2.9"/><circle cx="484.06" cy="267.84" r="2.89"/><circle cx="513.69" cy="206.4" r="2.89"/><circle cx="466.29" cy="257.03" r="2.88"/><circle cx="447.14" cy="251.52" r="2.88"/><circle cx="352.9" cy="272.27" r="2.88"/><circle cx="445.04" cy="301.98" r="2.88"/><circle cx="460.85" cy="272.41" r="2.88"/><circle cx="499.77" cy="191.54" r="2.88"/><circle cx="402.79" cy="231.93" r="2.88"/><circle cx="365.73" cy="250.72" r="2.88"/><circle cx="395.37" cy="202.92" r="2.88"/><circle cx="427.75" cy="302.9" r="2.87"/><circle cx="514.63" cy="228.55" r="2.87"/><circle cx="452.94" cy="247.77" r="2.87"/><circle cx="482.19" cy="216.98" r="2.87"/><circle cx="364.33" cy="202.62" r="2.87"/><circle cx="398.71" cy="280.06" r="2.87"/><circle cx="500.43" cy="294.24" r="2.87"/><circle cx="419.05" cy="222.13" r="2.87"/><circle cx="391.16" cy="213.62" r="2.86"/><circle cx="411.22" cy="240.14" r="2.86"/><circle cx="513.9" cy="253.6" r="2.86"/><circle cx="506.88" cy="228.25" r="2.86"/><circle cx="487.77" cy="300.34" r="2.86"/><circle cx="451.31" cy="268.47" r="2.86"/><circle cx="462.56" cy="223.55" r="2.86"/><circle cx="349.61" cy="285.69" r="2.85"/><circle cx="372.79" cy="205.75" r="2.85"/><circle cx="393.08" cy="286.51" r="2.85"/><circle cx="356.09" cy="210.64" r="2.85"/><circle cx="445.91" cy="274.07" r="2.85"/><circle cx="464.92" cy="266.76" r="2.84"/><circle cx="483.94" cy="294.52" r="2.84"/><circle cx="416.54" cy="270.18" r="2.84"/><circle cx="403.23" cy="265.43" r="2.83"/><circle cx="401.3" cy="299.88" r="2.83"/><circle cx="387.58" cy="241.88" r="2.83"/><circle cx="443.19" cy="208.43" r="2.83"/><circle cx="456.49" cy="211.44" r="2.82"/><circle cx="498.62" cy="302.79" r="2.82"/><circle cx="401.71" cy="239.94" r="2.82"/><circle cx="354.84" cy="254.06" r="2.82"/><circle cx="372.63" cy="288.85" r="2.81"/><circle cx="393.25" cy="302.13" r="2.81"/><circle cx="493.6" cy="243.07" r="2.81"/><circle cx="474.76" cy="303.44" r="2.8"/><circle cx="347.44" cy="194.67" r="2.8"/><circle cx="409.8" cy="273.09" r="2.8"/><circle cx="441.44" cy="256.98" r="2.8"/><circle cx="503.78" cy="203.79" r="2.8"/><circle cx="469.7" cy="212.68" r="2.79"/><circle cx="406.53" cy="194.03" r="2.79"/><circle cx="475.16" cy="296.61" r="2.79"/><circle cx="482.38" cy="197.36" r="2.79"/><circle cx="398.83" cy="213.62" r="2.79"/><circle cx="478.64" cy="273.28" r="2.79"/><circle cx="371.92" cy="244.88" r="2.78"/><circle cx="403.73" cy="218.25" r="2.78"/><circle cx="461.28" cy="194.06" r="2.78"/><circle cx="464.79" cy="203.8" r="2.78"/><circle cx="514.96" cy="292.6" r="2.78"/><circle cx="474" cy="278.73" r="2.78"/><circle cx="384.59" cy="212.81" r="2.77"/><circle cx="459.69" cy="239.79" r="2.77"/><circle cx="395.11" cy="272.23" r="2.77"/><circle cx="411.32" cy="296.77" r="2.77"/><circle cx="466.63" cy="229.65" r="2.77"/><circle cx="501.54" cy="285.15" r="2.77"/><circle cx="455.54" cy="297.04" r="2.77"/><circle cx="457.89" cy="259.55" r="2.76"/><circle cx="393.28" cy="238.41" r="2.76"/><circle cx="436.21" cy="208.09" r="2.76"/><circle cx="416.93" cy="211.74" r="2.76"/><circle cx="366.11" cy="287.16" r="2.76"/><circle cx="428.19" cy="296.12" r="2.76"/><circle cx="384.67" cy="270.37" r="2.76"/><circle cx="508.9" cy="241.58" r="2.75"/><circle cx="348.29" cy="253.52" r="2.75"/><circle cx="466.62" cy="278.81" r="2.75"/><circle cx="353.18" cy="219.88" r="2.75"/><circle cx="410.17" cy="264.28" r="2.74"/><circle cx="504.87" cy="254.3" r="2.74"/><circle cx="471.3" cy="219.07" r="2.74"/><circle cx="426.82" cy="283.44" r="2.74"/><circle cx="449.95" cy="201.47" r="2.74"/><circle cx="383.01" cy="253.71" r="2.73"/><circle cx="374.82" cy="303.02" r="2.73"/><circle cx="428.3" cy="218.84" r="2.73"/><circle cx="507.33" cy="291.73" r="2.73"/><circle cx="426.16" cy="255.05" r="2.72"/><circle cx="406.94" cy="210.17" r="2.72"/><circle cx="491.74" cy="212.14" r="2.72"/><circle cx="440.15" cy="191.15" r="2.71"/><circle cx="407.72" cy="248.64" r="2.71"/><circle cx="490.58" cy="285.15" r="2.71"/><circle cx="407.03" cy="282.22" r="2.71"/><circle cx="512.8" cy="300.63" r="2.71"/><circle cx="465.39" cy="293.46" r="2.7"/><circle cx="353.88" cy="197.54" r="2.7"/><circle cx="420.08" cy="298.88" r="2.7"/><circle cx="411.34" cy="256.11" r="2.7"/><circle cx="490.37" cy="256.78" r="2.69"/><circle cx="463.01" cy="211.71" r="2.69"/><circle cx="484.69" cy="228.83" r="2.69"/><circle cx="445.39" cy="227.6" r="2.69"/><circle cx="480.83" cy="237.61" r="2.69"/><circle cx="376.61" cy="194.7" r="2.69"/><circle cx="374.84" cy="256.56" r="2.68"/><circle cx="460.37" cy="302.41" r="2.68"/><circle cx="513.13" cy="213.61" r="2.68"/><circle cx="346.87" cy="224.99" r="2.68"/><circle cx="512.14" cy="286.59" r="2.68"/><circle cx="379.17" cy="232.68" r="2.68"/><circle cx="351.93" cy="264.82" r="2.68"/><circle cx="463.48" cy="250.98" r="2.67"/><circle cx="470.7" cy="245.69" r="2.67"/><circle cx="378.63" cy="274.69" r="2.67"/><circle cx="484.69" cy="253.33" r="2.66"/><circle cx="348.21" cy="246.31" r="2.66"/><circle cx="378.02" cy="212.39" r="2.66"/><circle cx="370.14" cy="278.53" r="2.66"/><circle cx="349.91" cy="235.53" r="2.66"/><circle cx="498.41" cy="208.95" r="2.66"/><circle cx="388.9" cy="201.57" r="2.65"/><circle cx="457.33" cy="203.91" r="2.64"/><circle cx="503.32" cy="276.79" r="2.64"/><circle cx="470.96" cy="235.27" r="2.64"/><circle cx="358.4" cy="286.52" r="2.64"/><circle cx="471.83" cy="264.13" r="2.64"/><circle cx="364.68" cy="210.37" r="2.63"/><circle cx="417.06" cy="292.96" r="2.63"/><circle cx="448.73" cy="194.72" r="2.63"/><circle cx="363.57" cy="223.92" r="2.62"/><circle cx="419.93" cy="205.89" r="2.62"/><circle cx="492.92" cy="234.98" r="2.62"/><circle cx="403.2" cy="272.49" r="2.62"/><circle cx="477.95" cy="223.75" r="2.62"/><circle cx="378.69" cy="224.16" r="2.62"/><circle cx="497.26" cy="280.06" r="2.62"/><circle cx="386.95" cy="227.75" r="2.62"/><circle cx="360.64" cy="191.84" r="2.61"/><circle cx="431.78" cy="192.35" r="2.6"/><circle cx="419.19" cy="238.26" r="2.6"/><circle cx="423.96" cy="226.64" r="2.6"/><circle cx="439.37" cy="233.5" r="2.6"/><circle cx="484.7" cy="281.56" r="2.59"/><circle cx="505.7" cy="261.43" r="2.59"/><circle cx="480.59" cy="289.05" r="2.59"/><circle cx="474.88" cy="208.35" r="2.59"/><circle cx="515.81" cy="274.31" r="2.58"/><circle cx="410.83" cy="216.31" r="2.58"/><circle cx="491.96" cy="250.11" r="2.58"/><circle cx="388.89" cy="291.54" r="2.58"/><circle cx="388.31" cy="276.76" r="2.58"/><circle cx="378.54" cy="247.74" r="2.58"/><circle cx="354.81" cy="227.59" r="2.57"/><circle cx="446.87" cy="235.16" r="2.57"/><circle cx="475.95" cy="230.78" r="2.57"/><circle cx="373.58" cy="296.68" r="2.56"/><circle cx="399.89" cy="192.92" r="2.56"/><circle cx="396.26" cy="295.32" r="2.56"/><circle cx="376.55" cy="266.12" r="2.56"/><circle cx="381.33" cy="303.25" r="2.56"/><circle cx="357.59" cy="243.1" r="2.55"/><circle cx="476.83" cy="243.71" r="2.55"/><circle cx="423.32" cy="291.55" r="2.55"/><circle cx="516.45" cy="220.96" r="2.55"/><circle cx="379" cy="283.8" r="2.54"/><circle cx="446.09" cy="261.61" r="2.54"/><circle cx="409.11" cy="288.8" r="2.54"/><circle cx="466.2" cy="300.02" r="2.54"/><circle cx="440.74" cy="248.39" r="2.54"/><circle cx="346.56" cy="293.7" r="2.53"/><circle cx="347.12" cy="302.43" r="2.53"/><circle cx="430.28" cy="211.64" r="2.53"/><circle cx="472.55" cy="270.89" r="2.53"/><circle cx="385.46" cy="235.51" r="2.52"/><circle cx="468.08" cy="194.53" r="2.52"/><circle cx="398.68" cy="259.93" r="2.52"/><circle cx="385.65" cy="219.16" r="2.52"/><circle cx="448.97" cy="213.29" r="2.51"/><circle cx="505.54" cy="302.51" r="2.51"/><circle cx="347.12" cy="278.3" r="2.51"/><circle cx="478.01" cy="191.14" r="2.5"/><circle cx="356.91" cy="203.05" r="2.49"/><circle cx="346.96" cy="201.62" r="2.49"/><circle cx="454.86" cy="197.43" r="2.49"/><circle cx="424.56" cy="196.23" r="2.48"/><circle cx="402.72" cy="201.68" r="2.48"/><circle cx="372.16" cy="217.6" r="2.48"/><circle cx="387.31" cy="259.26" r="2.47"/><circle cx="514.89" cy="191.3" r="2.47"/><circle cx="475.92" cy="214.59" r="2.47"/><circle cx="433.76" cy="255.29" r="2.47"/><circle cx="353.85" cy="298.02" r="2.46"/><circle cx="489.96" cy="192.82" r="2.46"/><circle cx="346.29" cy="260.31" r="2.46"/><circle cx="402.85" cy="224.82" r="2.45"/><circle cx="415.86" cy="303.51" r="2.45"/><circle cx="353.78" cy="191.29" r="2.45"/><circle cx="487.42" cy="238.8" r="2.44"/><circle cx="491.51" cy="268.02" r="2.44"/><circle cx="464.76" cy="244.51" r="2.42"/><circle cx="364.01" cy="243.74" r="2.4"/><circle cx="491.5" cy="292.87" r="2.4"/><circle cx="453.14" cy="302.69" r="2.39"/><circle cx="427.04" cy="205.44" r="2.39"/><circle cx="450.73" cy="241.7" r="2.39"/><circle cx="471.29" cy="225.59" r="2.39"/><circle cx="353.28" cy="278.74" r="2.38"/><circle cx="441.46" cy="294.66" r="2.38"/><circle cx="396.81" cy="229.8" r="2.38"/><circle cx="435.23" cy="215.75" r="2.38"/><circle cx="360.48" cy="267.51" r="2.38"/><circle cx="512.55" cy="259.99" r="2.37"/><circle cx="453.91" cy="254.51" r="2.37"/><circle cx="424.31" cy="210.52" r="2.37"/><circle cx="448.99" cy="296.73" r="2.37"/><circle cx="368.33" cy="303.46" r="2.36"/><circle cx="509.81" cy="221.93" r="2.36"/><circle cx="370.4" cy="262.07" r="2.35"/><circle cx="516.13" cy="247.46" r="2.35"/><circle cx="435.62" cy="274.87" r="2.35"/><circle cx="458.31" cy="217.44" r="2.34"/><circle cx="420.66" cy="252.45" r="2.33"/><circle cx="353.37" cy="291.17" r="2.33"/><circle cx="484.37" cy="260.92" r="2.32"/><circle cx="405.58" cy="294.81" r="2.31"/><circle cx="480.38" cy="301.12" r="2.29"/><circle cx="451.63" cy="276.87" r="2.28"/><circle cx="382.96" cy="198.23" r="2.28"/><circle cx="401.41" cy="207.58" r="2.27"/><circle cx="360.1" cy="293.2" r="2.27"/><circle cx="507.55" cy="210.77" r="2.26"/><circle cx="423.18" cy="273.09" r="2.25"/><circle cx="387.52" cy="248.34" r="2.25"/><circle cx="516.76" cy="200.38" r="2.25"/><circle cx="456.72" cy="265.52" r="2.24"/><circle cx="380.67" cy="261.33" r="2.24"/><circle cx="414.79" cy="286.78" r="2.22"/><circle cx="462.92" cy="283.92" r="2.22"/><circle cx="438.98" cy="226.98" r="2.21"/><circle cx="422.68" cy="216.19" r="2.2"/><circle cx="508.1" cy="273.26" r="2.19"/><circle cx="393.91" cy="191.38" r="2.18"/><circle cx="390.67" cy="232.76" r="2.18"/><circle cx="500.08" cy="198.03" r="2.18"/><circle cx="407.75" cy="302" r="2.17"/><circle cx="497.67" cy="250.54" r="2.17"/><circle cx="382.74" cy="191.63" r="2.17"/><circle cx="462.09" cy="233.87" r="2.16"/><circle cx="445.63" cy="243.97" r="2.16"/><circle cx="354.05" cy="303.59" r="2.13"/><circle cx="363.7" cy="230.5" r="2.13"/><circle cx="505.92" cy="192.34" r="2.12"/><circle cx="380.13" cy="217.97" r="2.12"/><circle cx="371.93" cy="251.39" r="2.12"/><circle cx="414.48" cy="191.53" r="2.12"/><circle cx="367.34" cy="295" r="2.12"/><circle cx="359.32" cy="216.49" r="2.12"/><circle cx="359.02" cy="248.64" r="2.11"/><circle cx="399.32" cy="245.79" r="2.09"/><circle cx="394.76" cy="196.94" r="2.06"/><circle cx="411.73" cy="278.76" r="2.06"/><circle cx="347.27" cy="268.32" r="2.06"/><circle cx="516.77" cy="268.21" r="2.05"/><circle cx="436.89" cy="195.91" r="2.04"/><circle cx="466.22" cy="238.72" r="2.03"/><circle cx="389.04" cy="207.73" r="2.01"/><circle cx="472.27" cy="257.52" r="1.99"/><circle cx="495.54" cy="289" r="1.98"/><circle cx="509.81" cy="248.06" r="1.98"/><circle cx="451.42" cy="207.91" r="1.98"/><circle cx="451.9" cy="259.68" r="1.98"/><circle cx="516.57" cy="242.15" r="1.97"/><circle cx="467.49" cy="286.34" r="1.95"/><circle cx="478.07" cy="266.74" r="1.95"/><circle cx="357.97" cy="222.97" r="1.95"/><circle cx="500.24" cy="240.82" r="1.94"/><circle cx="419.06" cy="230.16" r="1.92"/><circle cx="495.66" cy="221.23" r="1.9"/><circle cx="507.09" cy="283.35" r="1.89"/><circle cx="372.39" cy="199.81" r="1.88"/><circle cx="431.49" cy="270.78" r="1.88"/><circle cx="408.28" cy="235.19" r="1.86"/><circle cx="477.99" cy="203.17" r="1.86"/><circle cx="425.03" cy="190.85" r="1.84"/><circle cx="455.1" cy="190.9" r="1.84"/><circle cx="372.23" cy="223.14" r="1.82"/><circle cx="362.29" cy="236.52" r="1.81"/><circle cx="516.63" cy="283.31" r="1.81"/><circle cx="457.88" cy="245.05" r="1.81"/><circle cx="440.38" cy="263.58" r="1.8"/><circle cx="382.65" cy="278.38" r="1.8"/><circle cx="467.28" cy="271.83" r="1.79"/><circle cx="484.09" cy="276.06" r="1.78"/><circle cx="483.75" cy="223.1" r="1.78"/><circle cx="471.28" cy="292.08" r="1.78"/><circle cx="367.51" cy="256.71" r="1.78"/><circle cx="388.7" cy="254.12" r="1.77"/><circle cx="407.57" cy="228.99" r="1.76"/><circle cx="490.66" cy="226.55" r="1.75"/><circle cx="391.88" cy="280.75" r="1.74"/><circle cx="465.64" cy="218.54" r="1.72"/><circle cx="351.08" cy="258.16" r="1.71"/><circle cx="381.82" cy="242.21" r="1.7"/><circle cx="412.4" cy="207.71" r="1.69"/><circle cx="360.1" cy="197.63" r="1.69"/><circle cx="472.47" cy="190.97" r="1.68"/><circle cx="348.78" cy="241.05" r="1.67"/><circle cx="377.89" cy="200.75" r="1.67"/><circle cx="385.19" cy="264.33" r="1.67"/><circle cx="457.2" cy="226.32" r="1.66"/><circle cx="393.81" cy="244.53" r="1.66"/><circle cx="371.33" cy="212.34" r="1.64"/><circle cx="451.85" cy="226.57" r="1.64"/><circle cx="393.13" cy="258.46" r="1.64"/><circle cx="486.54" cy="289.29" r="1.63"/><circle cx="503.32" cy="223.59" r="1.62"/><circle cx="395.6" cy="209.35" r="1.61"/><circle cx="435.69" cy="202.6" r="1.6"/><circle cx="401.89" cy="250.36" r="1.59"/><circle cx="485.4" cy="234.01" r="1.59"/><circle cx="427.71" cy="260.35" r="1.58"/><circle cx="415.31" cy="252.01" r="1.58"/><circle cx="493.64" cy="298.91" r="1.57"/><circle cx="479.49" cy="282.9" r="1.57"/><circle cx="487.69" cy="197.27" r="1.56"/><circle cx="375.43" cy="228.48" r="1.55"/><circle cx="424.92" cy="249.43" r="1.55"/><circle cx="397.91" cy="266.63" r="1.54"/><circle cx="475.48" cy="238.38" r="1.53"/><circle cx="454.3" cy="237.94" r="1.52"/><circle cx="471.67" cy="203.93" r="1.5"/><circle cx="421.62" cy="200.41" r="1.5"/><circle cx="494.78" cy="194.86" r="1.5"/><circle cx="397.91" cy="219.32" r="1.49"/><circle cx="349.77" cy="229.84" r="1.49"/><circle cx="389.92" cy="271.02" r="1.47"/><circle cx="351.24" cy="213.48" r="1.47"/><circle cx="506.35" cy="297.6" r="1.47"/><circle cx="468.94" cy="251.79" r="1.47"/><circle cx="488.49" cy="246.17" r="1.47"/><circle cx="378.65" cy="298.34" r="1.46"/><circle cx="488.62" cy="263.37" r="1.46"/><circle cx="353.38" cy="246.81" r="1.46"/><circle cx="460.7" cy="295.64" r="1.45"/><circle cx="405.96" cy="277.07" r="1.44"/><circle cx="421.15" cy="286.86" r="1.44"/><circle cx="420.16" cy="191.31" r="1.44"/><circle cx="416.63" cy="257.19" r="1.43"/><circle cx="352.87" cy="240.82" r="1.43"/><circle cx="453.62" cy="285.09" r="1.42"/><circle cx="455.06" cy="273.01" r="1.41"/><circle cx="516.75" cy="235.11" r="1.41"/><circle cx="360.2" cy="227.6" r="1.41"/><circle cx="483.85" cy="190.87" r="1.41"/><circle cx="494.61" cy="217.1" r="1.4"/><circle cx="436.88" cy="292.34" r="1.38"/><circle cx="471.08" cy="240.45" r="1.37"/><circle cx="365.33" cy="281.9" r="1.37"/><circle cx="436.34" cy="303.44" r="1.36"/><circle cx="412.14" cy="246.06" r="1.36"/><circle cx="496.57" cy="238.61" r="1.36"/><circle cx="495.38" cy="254.75" r="1.35"/><circle cx="365.62" cy="267.26" r="1.34"/><circle cx="372.45" cy="191.85" r="1.34"/><circle cx="352.14" cy="203.26" r="1.34"/><circle cx="465.17" cy="198.63" r="1.32"/><circle cx="508.99" cy="203.73" r="1.32"/><circle cx="398.32" cy="236.06" r="1.32"/><circle cx="432.24" cy="204.81" r="1.32"/><circle cx="418.51" cy="275.02" r="1.31"/><circle cx="421.61" cy="242.5" r="1.31"/><circle cx="358.89" cy="273.61" r="1.31"/><circle cx="383.66" cy="245.78" r="1.3"/><circle cx="493.63" cy="263.69" r="1.3"/><circle cx="462.67" cy="261.83" r="1.29"/><circle cx="448.35" cy="257.01" r="1.28"/><circle cx="416.18" cy="226.88" r="1.28"/><circle cx="515.65" cy="263.65" r="1.27"/><circle cx="398.14" cy="225.36" r="1.27"/><circle cx="388.08" cy="302.18" r="1.26"/><circle cx="406.83" cy="260.43" r="1.26"/><circle cx="372.93" cy="233.8" r="1.26"/><circle cx="487.58" cy="201.53" r="1.26"/><circle cx="396.92" cy="242.23" r="1.24"/><circle cx="403.68" cy="245.32" r="1.23"/><circle cx="406.36" cy="205.22" r="1.23"/><circle cx="469.1" cy="207.27" r="1.23"/><circle cx="433.39" cy="219.95" r="1.22"/><circle cx="390.86" cy="297.14" r="1.21"/><circle cx="508.55" cy="217.42" r="1.21"/><circle cx="489.75" cy="205.32" r="1.21"/><circle cx="398.03" cy="285.81" r="1.19"/><circle cx="375.94" cy="279.59" r="1.19"/><circle cx="506.57" cy="237.19" r="1.19"/><circle cx="460.85" cy="207.32" r="1.19"/><circle cx="504.79" cy="198.91" r="1.18"/><circle cx="503.23" cy="209.37" r="1.18"/><circle cx="480.76" cy="250.23" r="1.16"/><circle cx="481.79" cy="232.8" r="1.16"/><circle cx="458.52" cy="249.62" r="1.16"/><circle cx="371.79" cy="283.23" r="1.15"/><circle cx="492.85" cy="206.79" r="1.14"/><circle cx="349.27" cy="298.23" r="1.14"/><circle cx="443.36" cy="195.07" r="1.14"/><circle cx="392.32" cy="228.7" r="1.13"/><circle cx="469.5" cy="303.31" r="1.13"/><circle cx="369.38" cy="298.94" r="1.13"/><circle cx="442.82" cy="237.94" r="1.12"/><circle cx="456.99" cy="222.23" r="1.12"/><circle cx="443.69" cy="265.8" r="1.11"/><circle cx="381.49" cy="265.96" r="1.11"/><circle cx="415.2" cy="218.44" r="1.11"/><circle cx="511.07" cy="295.51" r="1.1"/><circle cx="400.08" cy="197.96" r="1.1"/><circle cx="459.19" cy="254.82" r="1.1"/><circle cx="394.05" cy="277.53" r="1.1"/><circle cx="505.01" cy="266.66" r="1.09"/><circle cx="470.23" cy="275.65" r="1.09"/><circle cx="498.94" cy="203.43" r="1.09"/><circle cx="383.76" cy="231.24" r="1.08"/><circle cx="434.5" cy="268" r="1.07"/><circle cx="445.72" cy="219.96" r="1.07"/><circle cx="516.96" cy="210.47" r="1.07"/><circle cx="516.87" cy="297.79" r="1.07"/><circle cx="488.75" cy="231.84" r="1.06"/><circle cx="468.95" cy="201.35" r="1.06"/><circle cx="381.53" cy="238.34" r="1.05"/><circle cx="439.79" cy="302.53" r="1.04"/><circle cx="416.49" cy="202.79" r="1.04"/><circle cx="367.74" cy="206.73" r="1.03"/><circle cx="435.4" cy="231.13" r="1.03"/><circle cx="429.77" cy="251.54" r="1.03"/><circle cx="512.1" cy="271.16" r="1.03"/><circle cx="418.13" cy="217.29" r="1.02"/><circle cx="504.15" cy="240.7" r="1.02"/><circle cx="498.85" cy="275.67" r="1.01"/><circle cx="493.77" cy="302.5" r="1.01"/><circle cx="347.29" cy="272.74" r="1"/><circle cx="496.45" cy="213.49" r="1"/><circle cx="492.49" cy="229.98" r="1"/><circle cx="445.21" cy="268.47" r="1"/><circle cx="479.42" cy="278.74" r="1"/><circle cx="355.16" cy="283.18" r="1"/><circle cx="420.1" cy="257.01" r="0.99"/><circle cx="394.85" cy="217.4" r="0.99"/><circle cx="357.82" cy="301.18" r="0.99"/><circle cx="499.52" cy="254.64" r="0.99"/><circle cx="368.51" cy="222.26" r="0.99"/><circle cx="411.26" cy="195.11" r="0.97"/><circle cx="460.61" cy="229.85" r="0.97"/><circle cx="346.42" cy="232.2" r="0.97"/><circle cx="477.01" cy="291.85" r="0.97"/><circle cx="469.72" cy="296.34" r="0.97"/><circle cx="445.66" cy="239.64" r="0.97"/><circle cx="415.05" cy="265.16" r="0.96"/><circle cx="421.99" cy="268.15" r="0.96"/><circle cx="516.94" cy="303.11" r="0.95"/><circle cx="356.18" cy="267.56" r="0.95"/><circle cx="454.06" cy="215.98" r="0.94"/><circle cx="501.53" cy="264.2" r="0.93"/><circle cx="375.76" cy="220.4" r="0.93"/><circle cx="411.99" cy="292.16" r="0.93"/><circle cx="407" cy="242.43" r="0.93"/><circle cx="446.62" cy="204.76" r="0.93"/><circle cx="481.84" cy="202.24" r="0.92"/><circle cx="360.38" cy="208.24" r="0.92"/><circle cx="361.32" cy="240.21" r="0.92"/><circle cx="484.68" cy="286.21" r="0.92"/><circle cx="424.61" cy="221.99" r="0.92"/><circle cx="478.72" cy="255.56" r="0.91"/><circle cx="375.8" cy="261.19" r="0.91"/><circle cx="378.45" cy="253.03" r="0.91"/><circle cx="386.66" cy="281" r="0.91"/><circle cx="411.63" cy="282.75" r="0.9"/><circle cx="436.4" cy="221.79" r="0.9"/><circle cx="421.12" cy="233.79" r="0.9"/><circle cx="488.02" cy="214.8" r="0.9"/><circle cx="451.11" cy="190.92" r="0.89"/><circle cx="470.56" cy="281.98" r="0.89"/><circle cx="406.99" cy="269.22" r="0.89"/><circle cx="368.9" cy="201.1" r="0.89"/><circle cx="414.02" cy="259.93" r="0.89"/><circle cx="461.98" cy="198.74" r="0.88"/><circle cx="516.37" cy="278.7" r="0.88"/><circle cx="430.22" cy="257.85" r="0.88"/><circle cx="503.2" cy="195.45" r="0.88"/><circle cx="385.21" cy="223.48" r="0.87"/><circle cx="383.1" cy="249.11" r="0.86"/><circle cx="484.16" cy="303.39" r="0.86"/><circle cx="357.06" cy="264.42" r="0.86"/><circle cx="412.28" cy="249.36" r="0.86"/><circle cx="513.11" cy="239.6" r="0.85"/><circle cx="477.24" cy="219.31" r="0.85"/><circle cx="471.22" cy="299.56" r="0.85"/><circle cx="379.15" cy="270.25" r="0.85"/><circle cx="364.97" cy="278.59" r="0.85"/><circle cx="399.05" cy="255.6" r="0.85"/><circle cx="379.46" cy="256.59" r="0.85"/><circle cx="516.72" cy="258.52" r="0.84"/><circle cx="414.31" cy="236.56" r="0.84"/><circle cx="455.09" cy="241.77" r="0.84"/><circle cx="416.01" cy="242.05" r="0.84"/><circle cx="463.28" cy="289.19" r="0.84"/><circle cx="466.41" cy="261.93" r="0.84"/><circle cx="388.61" cy="267.51" r="0.83"/><circle cx="418.16" cy="233.91" r="0.83"/><circle cx="362.21" cy="283.78" r="0.83"/><circle cx="466.72" cy="209.17" r="0.83"/><circle cx="432.59" cy="293.77" r="0.83"/><circle cx="437.97" cy="251.73" r="0.82"/><circle cx="478.79" cy="247.69" r="0.82"/><circle cx="454.28" cy="291.96" r="0.82"/><circle cx="423.42" cy="258.98" r="0.82"/><circle cx="477.5" cy="195.79" r="0.81"/><circle cx="512.33" cy="218.64" r="0.81"/><circle cx="360.7" cy="212.25" r="0.81"/><circle cx="374.57" cy="284.08" r="0.81"/><circle cx="399.27" cy="270.39" r="0.81"/><circle cx="348.07" cy="212.74" r="0.81"/><circle cx="498.42" cy="244.59" r="0.8"/><circle cx="510.21" cy="191.44" r="0.8"/><circle cx="381.98" cy="228.64" r="0.8"/><circle cx="458.52" cy="293.24" r="0.8"/><circle cx="512.02" cy="244.87" r="0.8"/><circle cx="359.42" cy="303.47" r="0.8"/><circle cx="395.98" cy="290.51" r="0.8"/><circle cx="509.84" cy="256.32" r="0.79"/><circle cx="467.12" cy="224.29" r="0.79"/><circle cx="412.28" cy="211.83" r="0.78"/><circle cx="487.39" cy="249.34" r="0.78"/><circle cx="446.1" cy="292.06" r="0.78"/><circle cx="459.23" cy="198.8" r="0.77"/><circle cx="410.13" cy="191.09" r="0.77"/><circle cx="414.97" cy="275.57" r="0.77"/><circle cx="479.74" cy="296.44" r="0.77"/><circle cx="479.21" cy="211.87" r="0.77"/><circle cx="516.8" cy="196.18" r="0.76"/><circle cx="448.44" cy="231.12" r="0.76"/><circle cx="495.72" cy="293.84" r="0.76"/><circle cx="356.2" cy="275.66" r="0.76"/><circle cx="460.89" cy="292.38" r="0.76"/><circle cx="479.95" cy="228.84" r="0.76"/><circle cx="415.63" cy="298.84" r="0.76"/><circle cx="404.88" cy="236.41" r="0.75"/><circle cx="426.74" cy="288.01" r="0.75"/><circle cx="440.63" cy="298.7" r="0.75"/><circle cx="440.28" cy="274.91" r="0.75"/><circle cx="401.17" cy="295.19" r="0.75"/><circle cx="469.68" cy="260.22" r="0.74"/><circle cx="368.31" cy="283.03" r="0.74"/><circle cx="358.28" cy="238.68" r="0.74"/><circle cx="363.64" cy="291.25" r="0.74"/><circle cx="352.74" cy="249.95" r="0.73"/><circle cx="355.44" cy="215.87" r="0.73"/><circle cx="446.23" cy="191.02" r="0.73"/><circle cx="428.6" cy="248.77" r="0.73"/><circle cx="495.63" cy="284.61" r="0.72"/><circle cx="462.09" cy="277.65" r="0.72"/><circle cx="506.62" cy="250.2" r="0.72"/><circle cx="402.96" cy="278.42" r="0.72"/><circle cx="465.24" cy="191" r="0.72"/><circle cx="516.54" cy="216.45" r="0.72"/><circle cx="496.5" cy="265.3" r="0.72"/><circle cx="368.62" cy="241.27" r="0.71"/><circle cx="423.11" cy="246.26" r="0.71"/><circle cx="494.71" cy="191.26" r="0.71"/><circle cx="403.69" cy="213.19" r="0.71"/><circle cx="499.39" cy="289.33" r="0.71"/><circle cx="461.93" cy="255.48" r="0.71"/><circle cx="439.82" cy="205.39" r="0.7"/><circle cx="415.2" cy="205.73" r="0.7"/><circle cx="400.18" cy="221.51" r="0.7"/><circle cx="509.31" cy="253.34" r="0.7"/><circle cx="492.77" cy="281.11" r="0.7"/><circle cx="373.48" cy="274.86" r="0.7"/><circle cx="496.56" cy="231.91" r="0.7"/><circle cx="383.08" cy="225.13" r="0.7"/><circle cx="451.24" cy="263.58" r="0.69"/><circle cx="486.12" cy="194.27" r="0.69"/><circle cx="369.17" cy="209" r="0.69"/><circle cx="393.37" cy="291.59" r="0.69"/><circle cx="445.32" cy="223.25" r="0.69"/><circle cx="506.1" cy="269.53" r="0.69"/><circle cx="457.44" cy="269.35" r="0.69"/><circle cx="367.78" cy="225.19" r="0.68"/><circle cx="442.34" cy="252.57" r="0.68"/><circle cx="447.83" cy="209.01" r="0.68"/><circle cx="496.83" cy="298.5" r="0.68"/><circle cx="400.04" cy="253.3" r="0.68"/><circle cx="491.91" cy="261.21" r="0.68"/><circle cx="470.98" cy="230.81" r="0.67"/><circle cx="495.93" cy="273.95" r="0.67"/><circle cx="423.46" cy="277.33" r="0.67"/><circle cx="376.83" cy="208.16" r="0.67"/><circle cx="477.27" cy="234.77" r="0.67"/><circle cx="382.71" cy="222.65" r="0.67"/><circle cx="507.81" cy="286.94" r="0.67"/><circle cx="435.46" cy="270.86" r="0.67"/><circle cx="485.07" cy="272.32" r="0.67"/><circle cx="350.71" cy="294.47" r="0.67"/><circle cx="461.98" cy="280.01" r="0.67"/><circle cx="487.67" cy="243.09" r="0.66"/><circle cx="414.73" cy="262.56" r="0.66"/><circle cx="488.59" cy="270.87" r="0.66"/><circle cx="505.18" cy="232.86" r="0.66"/><circle cx="402.92" cy="197.4" r="0.66"/><circle cx="426.64" cy="213.79" r="0.65"/><circle cx="362.26" cy="289.22" r="0.65"/><circle cx="489.31" cy="280.98" r="0.65"/><circle cx="398.78" cy="275.09" r="0.65"/><circle cx="502.88" cy="289.73" r="0.65"/><circle cx="371.46" cy="239.61" r="0.65"/><circle cx="502.77" cy="298.39" r="0.65"/><circle cx="446.68" cy="216.77" r="0.65"/><circle cx="451.31" cy="236.05" r="0.64"/><circle cx="437.79" cy="259.52" r="0.64"/><circle cx="396.09" cy="256.12" r="0.64"/><circle cx="424.33" cy="287.32" r="0.64"/><circle cx="515.37" cy="237.83" r="0.64"/><circle cx="488.56" cy="234.78" r="0.63"/><circle cx="499.58" cy="222.36" r="0.63"/><circle cx="438.16" cy="289.08" r="0.63"/><circle cx="460.81" cy="264.04" r="0.63"/><circle cx="501.51" cy="230.23" r="0.63"/><circle cx="360.56" cy="220.03" r="0.63"/><circle cx="495.13" cy="271.83" r="0.63"/><circle cx="411.05" cy="251.54" r="0.63"/><circle cx="406.01" cy="238.45" r="0.63"/><circle cx="428.54" cy="195.11" r="0.63"/><circle cx="346.4" cy="289.22" r="0.62"/><circle cx="424.41" cy="202.04" r="0.62"/><circle cx="487.2" cy="225.12" r="0.62"/><circle cx="444.86" cy="297.42" r="0.62"/><circle cx="501.34" cy="251.39" r="0.62"/><circle cx="378.69" cy="228.43" r="0.62"/><circle cx="481.97" cy="257.07" r="0.62"/><circle cx="419.09" cy="289.06" r="0.62"/><circle cx="439.89" cy="290.9" r="0.62"/><circle cx="375.84" cy="271.33" r="0.62"/><circle cx="427.67" cy="229.68" r="0.62"/><circle cx="346.79" cy="264.55" r="0.62"/><circle cx="452.37" cy="293.89" r="0.62"/><circle cx="495.84" cy="296.28" r="0.61"/><circle cx="414.22" cy="282.98" r="0.61"/><circle cx="356.83" cy="270.01" r="0.61"/><circle cx="376.46" cy="244.13" r="0.61"/><circle cx="516.43" cy="287.93" r="0.61"/><circle cx="355.88" cy="238.96" r="0.61"/><circle cx="379.14" cy="279.08" r="0.61"/><circle cx="403.09" cy="283.92" r="0.61"/><circle cx="477.94" cy="198.79" r="0.61"/><circle cx="377.38" cy="294.75" r="0.61"/><circle cx="346.56" cy="238.67" r="0.61"/><circle cx="385.66" cy="204.84" r="0.61"/><circle cx="376.39" cy="292.74" r="0.61"/><circle cx="493.31" cy="224.22" r="0.61"/><circle cx="377.3" cy="288.66" r="0.61"/><circle cx="456.27" cy="251.36" r="0.61"/><circle cx="462.31" cy="218.39" r="0.6"/><circle cx="411.85" cy="303.37" r="0.6"/><circle cx="426.89" cy="271.59" r="0.6"/><circle cx="488.28" cy="295.23" r="0.6"/><circle cx="382.97" cy="274.43" r="0.6"/><circle cx="384.59" cy="202.57" r="0.6"/><circle cx="362.55" cy="206.68" r="0.6"/><circle cx="364.06" cy="239.64" r="0.6"/><circle cx="463.5" cy="216.05" r="0.6"/><circle cx="385.39" cy="207.47" r="0.6"/><circle cx="400.37" cy="292.86" r="0.6"/><circle cx="460.02" cy="267.62" r="0.6"/><circle cx="432.29" cy="302.35" r="0.6"/><circle cx="460.79" cy="247.06" r="0.6"/><circle cx="372.29" cy="195.92" r="0.6"/><circle cx="479.01" cy="294.19" r="0.6"/><circle cx="409.22" cy="206.4" r="0.6"/><circle cx="505.54" cy="286.85" r="0.6"/><circle cx="369.45" cy="265.93" r="0.6"/><circle cx="368.47" cy="291.38" r="0.6"/><circle cx="419.45" cy="226.62" r="0.6"/><circle cx="352.57" cy="231.74" r="0.6"/><circle cx="452.86" cy="193.63" r="0.6"/></g>
<g fill="#4e1a80" opacity="0.85"><circle cx="381.19" cy="249.95" r="0.72"/><circle cx="357.5" cy="196.67" r="0.89"/><circle cx="467.3" cy="245.95" r="0.55"/><circle cx="408.14" cy="276.03" r="0.64"/><circle cx="388.35" cy="279.91" r="0.95"/><circle cx="449.88" cy="265.09" r="0.84"/><circle cx="371.96" cy="293.37" r="0.91"/><circle cx="493.07" cy="261.68" r="0.98"/><circle cx="391.43" cy="275.54" r="0.82"/><circle cx="449.12" cy="261.2" r="0.81"/><circle cx="416.65" cy="266.58" r="0.77"/><circle cx="481.22" cy="230.95" r="0.61"/><circle cx="422.33" cy="193.25" r="0.65"/><circle cx="448.13" cy="277.75" r="0.56"/><circle cx="376.21" cy="198.93" r="0.86"/><circle cx="376.03" cy="250.84" r="0.68"/><circle cx="458.04" cy="200.45" r="0.55"/><circle cx="434.7" cy="222.67" r="0.67"/><circle cx="368.4" cy="264.73" r="0.63"/><circle cx="354.81" cy="263.6" r="0.71"/><circle cx="367.63" cy="214.65" r="0.73"/><circle cx="487.51" cy="205.24" r="0.93"/><circle cx="484.52" cy="193.92" r="0.77"/><circle cx="367.86" cy="198.62" r="0.69"/><circle cx="479.04" cy="197.79" r="0.73"/><circle cx="481.07" cy="285.87" r="0.58"/><circle cx="368.77" cy="246.31" r="0.71"/><circle cx="350.71" cy="232.23" r="0.96"/><circle cx="439.96" cy="253.93" r="0.85"/><circle cx="373.96" cy="213.98" r="0.99"/><circle cx="442.31" cy="261.46" r="0.51"/><circle cx="361.19" cy="244.01" r="0.64"/><circle cx="360.9" cy="242.56" r="0.84"/><circle cx="391.51" cy="199.84" r="0.9"/><circle cx="388.86" cy="298.63" r="0.56"/><circle cx="441.91" cy="243.51" r="0.87"/><circle cx="440.58" cy="224.55" r="0.88"/><circle cx="420.32" cy="215.1" r="0.53"/><circle cx="379.99" cy="209.52" r="0.65"/><circle cx="470.54" cy="268.1" r="0.63"/><circle cx="383.14" cy="195.13" r="0.57"/><circle cx="510.55" cy="228.28" r="0.53"/><circle cx="402.36" cy="195.72" r="0.76"/><circle cx="486.55" cy="221.74" r="0.63"/><circle cx="363.21" cy="282.49" r="0.82"/><circle cx="448.9" cy="247.57" r="0.59"/><circle cx="403.78" cy="204.69" r="0.59"/><circle cx="417.77" cy="243" r="0.57"/><circle cx="375.57" cy="284.99" r="0.78"/><circle cx="497.53" cy="242.49" r="0.63"/><circle cx="436.16" cy="272.15" r="0.71"/><circle cx="353.17" cy="201.12" r="0.97"/><circle cx="428.89" cy="246.77" r="0.88"/><circle cx="412.99" cy="293.73" r="0.93"/><circle cx="488.28" cy="265.83" r="0.84"/><circle cx="422.91" cy="255.78" r="0.99"/><circle cx="362.86" cy="214.35" r="0.52"/><circle cx="419.71" cy="233.84" r="0.71"/><circle cx="468.67" cy="269.54" r="0.86"/><circle cx="462.5" cy="229.2" r="0.54"/><circle cx="357.8" cy="226.22" r="0.61"/><circle cx="437.69" cy="211.27" r="0.56"/><circle cx="355.22" cy="269.58" r="0.75"/><circle cx="382.02" cy="258.82" r="0.99"/><circle cx="398.34" cy="290.98" r="0.55"/><circle cx="495.49" cy="247.67" r="0.68"/><circle cx="474.25" cy="223.83" r="0.55"/><circle cx="360.37" cy="274.59" r="0.83"/><circle cx="370.89" cy="257.4" r="0.68"/><circle cx="488.38" cy="225.97" r="0.93"/><circle cx="408.3" cy="252.82" r="0.71"/><circle cx="431.61" cy="259.82" r="0.9"/><circle cx="406.24" cy="239.9" r="0.94"/><circle cx="455.52" cy="291.32" r="0.91"/><circle cx="370.47" cy="249.28" r="0.8"/><circle cx="352.04" cy="193.94" r="1"/><circle cx="435.7" cy="294.03" r="0.58"/><circle cx="381.54" cy="295.08" r="0.86"/><circle cx="393.21" cy="207.98" r="0.99"/><circle cx="414.15" cy="266.71" r="0.79"/><circle cx="395.11" cy="281.4" r="0.5"/><circle cx="397.06" cy="264.11" r="0.58"/><circle cx="467.62" cy="219.73" r="0.98"/><circle cx="509.16" cy="225.62" r="0.74"/><circle cx="497.66" cy="243.24" r="0.54"/><circle cx="440.99" cy="230.57" r="0.82"/><circle cx="497.18" cy="198.06" r="0.87"/><circle cx="472.41" cy="254.65" r="0.93"/><circle cx="366.17" cy="246.74" r="0.8"/><circle cx="450.86" cy="244.5" r="0.92"/><circle cx="445.26" cy="205.41" r="0.71"/><circle cx="405.45" cy="240.66" r="0.85"/><circle cx="352.73" cy="212.3" r="0.78"/><circle cx="504.04" cy="292.41" r="0.85"/><circle cx="487.74" cy="280.85" r="0.6"/><circle cx="514.57" cy="266.08" r="0.57"/><circle cx="415.58" cy="208.23" r="0.7"/><circle cx="350.01" cy="217.65" r="0.92"/><circle cx="399.18" cy="291.94" r="0.58"/><circle cx="393.33" cy="296.65" r="0.79"/><circle cx="362.9" cy="198.62" r="0.62"/><circle cx="415.39" cy="208.96" r="0.81"/><circle cx="358.87" cy="207.58" r="0.93"/><circle cx="457.53" cy="236.62" r="0.56"/><circle cx="369.65" cy="247.38" r="0.77"/><circle cx="466.83" cy="275.05" r="0.83"/><circle cx="373.69" cy="267.2" r="0.87"/><circle cx="394.97" cy="235" r="0.81"/><circle cx="435.86" cy="229.38" r="0.85"/><circle cx="393.79" cy="282.4" r="0.65"/><circle cx="368.55" cy="243.89" r="0.61"/><circle cx="448.78" cy="243.96" r="0.63"/><circle cx="403.89" cy="260.17" r="0.56"/><circle cx="394.8" cy="232.64" r="0.62"/><circle cx="457.22" cy="271.21" r="0.93"/><circle cx="477.77" cy="236.07" r="0.6"/><circle cx="457.35" cy="251.06" r="0.79"/><circle cx="493.52" cy="255.85" r="0.52"/><circle cx="479.47" cy="245.07" r="0.67"/><circle cx="447.84" cy="247.05" r="0.89"/><circle cx="395.96" cy="257.18" r="0.71"/><circle cx="452.83" cy="216.6" r="0.97"/><circle cx="489.6" cy="201.48" r="0.62"/><circle cx="422.73" cy="296.06" r="0.71"/><circle cx="497.09" cy="203.55" r="0.73"/><circle cx="474.36" cy="290.63" r="0.98"/><circle cx="394.98" cy="232.31" r="0.86"/><circle cx="476.25" cy="255.88" r="0.79"/><circle cx="358.41" cy="298.46" r="0.79"/><circle cx="383.14" cy="258.61" r="0.7"/><circle cx="380.99" cy="227.64" r="0.57"/><circle cx="351.46" cy="225.15" r="0.59"/><circle cx="475.47" cy="263.58" r="0.99"/><circle cx="496.76" cy="240.55" r="0.61"/><circle cx="398.77" cy="250.68" r="0.89"/><circle cx="436.87" cy="283.31" r="0.53"/><circle cx="371.05" cy="240.72" r="0.54"/><circle cx="362.49" cy="207.71" r="1"/><circle cx="360.76" cy="282.65" r="0.69"/><circle cx="493.87" cy="257.77" r="0.88"/><circle cx="467.86" cy="221.92" r="0.73"/><circle cx="495.12" cy="274.97" r="0.55"/><circle cx="455.46" cy="293.16" r="0.87"/><circle cx="468.52" cy="266.74" r="0.62"/><circle cx="467.99" cy="243.11" r="0.87"/><circle cx="501.07" cy="201.45" r="0.56"/><circle cx="379.47" cy="241.22" r="0.91"/><circle cx="414.81" cy="209.27" r="0.62"/><circle cx="404.41" cy="260.51" r="0.63"/><circle cx="417.01" cy="193.13" r="0.51"/><circle cx="427.78" cy="208.35" r="0.72"/><circle cx="504.75" cy="272.46" r="0.62"/><circle cx="438.91" cy="203.69" r="0.61"/><circle cx="507.87" cy="250.92" r="0.74"/><circle cx="444.06" cy="239.36" r="1"/><circle cx="391.33" cy="273.29" r="0.65"/><circle cx="387" cy="214.95" r="0.72"/><circle cx="371.42" cy="256.17" r="0.59"/><circle cx="462.64" cy="231.2" r="0.81"/><circle cx="360.41" cy="201" r="0.97"/><circle cx="392.9" cy="255.15" r="0.95"/><circle cx="364.59" cy="227.86" r="0.97"/><circle cx="475.63" cy="292.85" r="0.97"/><circle cx="376.02" cy="272.57" r="0.96"/><circle cx="491.09" cy="280.89" r="0.56"/><circle cx="506.47" cy="288.66" r="0.95"/><circle cx="470.9" cy="207.19" r="0.53"/><circle cx="461.98" cy="227.69" r="0.76"/><circle cx="422.87" cy="239.92" r="0.75"/><circle cx="352.18" cy="283.37" r="0.63"/><circle cx="384.84" cy="289.46" r="0.73"/><circle cx="482.62" cy="285.4" r="0.64"/><circle cx="422.86" cy="233.44" r="0.86"/><circle cx="512.04" cy="220.06" r="0.62"/><circle cx="447.67" cy="217.51" r="0.72"/><circle cx="439.59" cy="207.06" r="0.74"/><circle cx="397.16" cy="207.46" r="0.71"/><circle cx="503.78" cy="292.51" r="0.85"/><circle cx="372.55" cy="285.36" r="0.7"/><circle cx="398.17" cy="238.62" r="0.58"/><circle cx="436.39" cy="283.04" r="0.72"/><circle cx="490.7" cy="298.89" r="0.88"/><circle cx="408.44" cy="292.37" r="0.92"/><circle cx="478.07" cy="208.02" r="0.72"/><circle cx="361.67" cy="285.47" r="0.88"/><circle cx="511.17" cy="210.58" r="0.88"/><circle cx="375.51" cy="285.91" r="0.81"/><circle cx="380.58" cy="277.39" r="0.75"/><circle cx="445.08" cy="204.18" r="0.55"/><circle cx="415.46" cy="297.26" r="0.81"/><circle cx="478.13" cy="293.42" r="0.84"/><circle cx="381" cy="229.7" r="0.94"/><circle cx="391.34" cy="230.14" r="0.5"/><circle cx="468" cy="275.94" r="0.51"/><circle cx="391.03" cy="227.07" r="0.55"/><circle cx="497.66" cy="273.46" r="0.51"/><circle cx="380.84" cy="229.43" r="0.52"/><circle cx="514.93" cy="271.35" r="0.82"/><circle cx="389.79" cy="287.62" r="0.87"/><circle cx="488.32" cy="288.17" r="0.58"/><circle cx="480.48" cy="194.07" r="0.92"/><circle cx="375.24" cy="245.82" r="0.62"/><circle cx="496.06" cy="246.5" r="0.61"/><circle cx="354.63" cy="223.35" r="0.54"/><circle cx="400.71" cy="196.32" r="0.72"/><circle cx="468.65" cy="283.03" r="0.97"/><circle cx="460.83" cy="203.5" r="0.88"/><circle cx="430.34" cy="264.06" r="0.9"/><circle cx="423.63" cy="299.21" r="0.97"/><circle cx="438.33" cy="229.99" r="0.64"/><circle cx="465.11" cy="272.57" r="0.75"/><circle cx="436.7" cy="237.94" r="0.69"/><circle cx="510.86" cy="262.7" r="0.6"/><circle cx="420.56" cy="285.02" r="0.66"/><circle cx="502.28" cy="238.18" r="0.77"/><circle cx="389.14" cy="300.88" r="0.58"/><circle cx="381.96" cy="283.99" r="0.52"/><circle cx="437.01" cy="218.71" r="0.89"/><circle cx="420.73" cy="293.34" r="0.91"/><circle cx="503.39" cy="220.94" r="0.67"/><circle cx="474.07" cy="211.78" r="0.88"/><circle cx="397.59" cy="239.5" r="0.85"/><circle cx="436.39" cy="259.18" r="0.68"/><circle cx="494.11" cy="232.11" r="0.83"/><circle cx="494.77" cy="265.13" r="0.81"/><circle cx="427.53" cy="202.03" r="0.63"/><circle cx="386.1" cy="293.35" r="0.76"/><circle cx="506.14" cy="214.33" r="0.63"/><circle cx="506.95" cy="268.54" r="0.97"/><circle cx="390.64" cy="252.77" r="0.51"/><circle cx="509.44" cy="298.55" r="0.69"/><circle cx="447.1" cy="232.11" r="0.55"/><circle cx="489.98" cy="297.02" r="0.64"/><circle cx="491.17" cy="240.62" r="0.63"/><circle cx="461.9" cy="228.38" r="0.55"/><circle cx="353.84" cy="238.61" r="0.62"/><circle cx="389.72" cy="228.97" r="0.72"/><circle cx="501.84" cy="299.28" r="0.9"/><circle cx="475.7" cy="235.02" r="0.57"/><circle cx="366.74" cy="290.35" r="0.59"/><circle cx="451.98" cy="198.56" r="0.77"/><circle cx="383.6" cy="216.17" r="0.75"/><circle cx="351.55" cy="232.37" r="0.8"/><circle cx="477.91" cy="287.72" r="0.67"/><circle cx="409.6" cy="232.92" r="0.57"/><circle cx="354.27" cy="242.48" r="0.84"/><circle cx="369.53" cy="252.19" r="0.8"/><circle cx="437.33" cy="229.51" r="0.91"/><circle cx="507.37" cy="287.97" r="0.74"/><circle cx="382.76" cy="244.14" r="0.64"/><circle cx="490.56" cy="207.03" r="0.58"/><circle cx="436.31" cy="272.16" r="0.69"/><circle cx="488.03" cy="282.83" r="0.67"/><circle cx="412.85" cy="195.64" r="0.55"/><circle cx="510.78" cy="210.61" r="0.58"/><circle cx="384.69" cy="208.58" r="0.71"/><circle cx="488.73" cy="293.68" r="0.64"/><circle cx="445.34" cy="256.29" r="0.56"/><circle cx="435.2" cy="198.77" r="0.55"/><circle cx="385.56" cy="282.08" r="0.88"/><circle cx="450.67" cy="294.17" r="0.97"/><circle cx="444.88" cy="197.02" r="0.74"/><circle cx="382.91" cy="265.42" r="0.99"/><circle cx="435.98" cy="284.17" r="0.86"/><circle cx="373.55" cy="221.01" r="0.79"/><circle cx="369.53" cy="297.17" r="0.61"/><circle cx="357.07" cy="281.21" r="0.92"/><circle cx="460.23" cy="298.02" r="0.91"/><circle cx="459.25" cy="256.55" r="0.75"/><circle cx="450.98" cy="234.4" r="0.63"/><circle cx="362.51" cy="285.12" r="0.79"/><circle cx="361.73" cy="200.03" r="0.96"/><circle cx="390.96" cy="235.94" r="0.74"/><circle cx="456.88" cy="252.39" r="0.53"/><circle cx="449.13" cy="260.52" r="0.87"/><circle cx="409.16" cy="243.71" r="0.75"/><circle cx="362.31" cy="281.66" r="0.98"/><circle cx="454.76" cy="283.48" r="0.78"/><circle cx="448.02" cy="299.4" r="0.91"/><circle cx="369.13" cy="286.07" r="0.63"/><circle cx="442.55" cy="241.19" r="0.95"/><circle cx="396.19" cy="262.52" r="0.52"/><circle cx="506.22" cy="257.54" r="0.52"/><circle cx="423.19" cy="285.45" r="0.89"/><circle cx="455.77" cy="243.24" r="0.79"/><circle cx="414.13" cy="209.28" r="0.96"/><circle cx="490.06" cy="215.69" r="0.6"/><circle cx="464.36" cy="236.48" r="0.68"/><circle cx="407.86" cy="292.26" r="0.65"/><circle cx="478.65" cy="194.63" r="0.86"/><circle cx="435.97" cy="250.51" r="0.79"/><circle cx="477.52" cy="256.34" r="0.56"/><circle cx="405.07" cy="197.97" r="0.76"/><circle cx="454.21" cy="260.48" r="0.77"/><circle cx="404.72" cy="269.27" r="0.83"/><circle cx="350.14" cy="274.22" r="0.92"/><circle cx="421.73" cy="193.43" r="0.78"/><circle cx="490.67" cy="263.97" r="0.8"/><circle cx="493.08" cy="271.14" r="0.71"/><circle cx="505.23" cy="279.44" r="0.52"/><circle cx="472.52" cy="260.21" r="0.79"/><circle cx="350.68" cy="231.68" r="0.64"/><circle cx="381.5" cy="295.41" r="0.65"/><circle cx="392.01" cy="278.59" r="0.7"/><circle cx="362.71" cy="207.93" r="0.6"/><circle cx="499.04" cy="263.73" r="0.89"/><circle cx="423.79" cy="301.3" r="0.89"/><circle cx="422.48" cy="238.77" r="0.61"/><circle cx="363.78" cy="247.52" r="0.91"/><circle cx="487.79" cy="206.16" r="0.53"/><circle cx="364.58" cy="236.07" r="0.57"/><circle cx="396.35" cy="245.92" r="0.94"/><circle cx="471.48" cy="276.49" r="0.89"/><circle cx="429.5" cy="299.17" r="0.89"/><circle cx="380.05" cy="237.17" r="0.8"/><circle cx="483.05" cy="231.7" r="0.81"/><circle cx="408.82" cy="243.15" r="0.57"/><circle cx="495.35" cy="211.43" r="0.83"/><circle cx="435.68" cy="238.54" r="0.53"/><circle cx="445.32" cy="254.4" r="1"/><circle cx="477.96" cy="227.01" r="0.53"/><circle cx="418.27" cy="254.34" r="0.94"/><circle cx="409.36" cy="227.77" r="0.72"/><circle cx="442.9" cy="211.99" r="0.88"/><circle cx="397.57" cy="300.08" r="0.74"/><circle cx="512.93" cy="224.24" r="0.67"/><circle cx="511.96" cy="274.17" r="0.62"/><circle cx="501.94" cy="273.74" r="0.71"/><circle cx="402.5" cy="295.89" r="0.89"/><circle cx="506.81" cy="280.4" r="0.58"/><circle cx="350.18" cy="291.7" r="0.62"/><circle cx="451.97" cy="194.37" r="0.9"/><circle cx="361.99" cy="249.93" r="0.93"/><circle cx="388.54" cy="220.54" r="0.74"/><circle cx="361.84" cy="205.61" r="0.6"/><circle cx="409.89" cy="245.31" r="0.85"/><circle cx="458.76" cy="267.5" r="0.75"/><circle cx="471.55" cy="194.73" r="0.99"/><circle cx="374.63" cy="223.44" r="0.98"/><circle cx="474.74" cy="290.7" r="0.61"/><circle cx="427.7" cy="227.35" r="0.88"/><circle cx="499.61" cy="297.48" r="0.62"/><circle cx="426.82" cy="208.71" r="0.58"/><circle cx="391.19" cy="260.73" r="0.93"/><circle cx="399.47" cy="226.62" r="0.52"/><circle cx="470.06" cy="273.57" r="0.99"/><circle cx="360.11" cy="206.85" r="0.73"/><circle cx="485.73" cy="198.12" r="0.63"/><circle cx="375.22" cy="200.93" r="0.89"/><circle cx="429.88" cy="292.95" r="0.55"/><circle cx="499.54" cy="298.41" r="0.96"/><circle cx="468.55" cy="281.57" r="0.91"/><circle cx="430.11" cy="249.74" r="0.85"/><circle cx="388.97" cy="284.32" r="0.76"/><circle cx="387.94" cy="232.37" r="0.6"/><circle cx="415.15" cy="240.43" r="0.65"/><circle cx="391.07" cy="245.24" r="0.79"/><circle cx="424.11" cy="295.98" r="0.6"/><circle cx="427.21" cy="248.52" r="0.61"/><circle cx="382.98" cy="258.55" r="0.99"/><circle cx="486.43" cy="263.56" r="0.76"/><circle cx="474.3" cy="255.27" r="0.97"/><circle cx="353.27" cy="204.66" r="0.97"/><circle cx="422.22" cy="236.68" r="0.9"/><circle cx="393.41" cy="256.04" r="0.59"/><circle cx="481.68" cy="200.81" r="0.88"/><circle cx="469.93" cy="278.48" r="0.6"/><circle cx="384.36" cy="247.74" r="0.67"/><circle cx="511.56" cy="210.12" r="0.6"/><circle cx="363.11" cy="247.44" r="0.58"/><circle cx="507.85" cy="219.59" r="0.8"/><circle cx="453.9" cy="257.53" r="0.66"/><circle cx="370.16" cy="221.1" r="0.89"/><circle cx="512.67" cy="242.9" r="0.55"/><circle cx="478.01" cy="263.8" r="0.9"/><circle cx="399.09" cy="243.23" r="0.87"/><circle cx="495.97" cy="196.89" r="0.76"/><circle cx="408.07" cy="244.04" r="0.77"/><circle cx="439.64" cy="229.93" r="0.59"/><circle cx="424.07" cy="257.55" r="0.74"/></g>
<path d="M419 230.6 L427 229 L433 232 L438 236 L439 244 L434.5 247 L430 242 L424 238 L421 235Z" fill="#c45aa4" opacity="0.8"/>
<path d="M441.5 207 L444.5 208 L443 230 L440 229Z" fill="#b460a8" opacity="0.8"/>
<ellipse cx="439" cy="284" rx="7" ry="4.2" fill="#c45aa4" opacity="0.8"/>
<ellipse cx="361" cy="259.5" rx="2.6" ry="4.2" fill="#9a2a78"/>
</g>
<text x="490.2" y="290.8" font-size="4.6" font-weight="bold" text-anchor="middle" fill="#ecd450" stroke="#ecd450" stroke-width="0.3">200 µm</text>
</g>
<text x="2" y="325" font-size="19.5" font-weight="bold" text-anchor="start" fill="#000">E</text>
<line x1="27" y1="334.2" x2="27" y2="462.75" stroke="#000" stroke-width="1.5"/>
<line x1="24.5" y1="462" x2="27" y2="462" stroke="#000" stroke-width="1.5"/>
<text font-size="10.2" font-weight="bold" text-anchor="end" fill="#000" stroke="#000" stroke-width="0.3" transform="translate(23.8 465.06) scale(0.66 1)">0</text>
<line x1="24.5" y1="419.65" x2="27" y2="419.65" stroke="#000" stroke-width="1.5"/>
<text font-size="10.2" font-weight="bold" text-anchor="end" fill="#000" stroke="#000" stroke-width="0.3" transform="translate(23.8 422.71) scale(0.66 1)">5</text>
<line x1="24.5" y1="377.3" x2="27" y2="377.3" stroke="#000" stroke-width="1.5"/>
<text font-size="10.2" font-weight="bold" text-anchor="end" fill="#000" stroke="#000" stroke-width="0.3" transform="translate(23.8 380.36) scale(0.66 1)">10</text>
<line x1="24.5" y1="334.95" x2="27" y2="334.95" stroke="#000" stroke-width="1.5"/>
<text font-size="10.2" font-weight="bold" text-anchor="end" fill="#000" stroke="#000" stroke-width="0.3" transform="translate(23.8 338.01) scale(0.66 1)">15</text>
<line x1="27" y1="462" x2="160" y2="462" stroke="#000" stroke-width="1.5"/>
<text font-size="9.8" font-weight="bold" text-anchor="middle" fill="#000" stroke="#000" stroke-width="0.42" transform="translate(16 398.8) rotate(-90)">Liver Weight (g)</text>
<line x1="48.7" y1="453.7" x2="48.7" y2="453.28" stroke="#000" stroke-width="1.8"/>
<line x1="40.7" y1="453.28" x2="56.7" y2="453.28" stroke="#000" stroke-width="2.4"/>
<rect x="34.55" y="454.55" width="28.3" height="7.45" fill="#fff" stroke="#000" stroke-width="1.7"/>
<line x1="93.35" y1="412.87" x2="93.35" y2="410.16" stroke="#000" stroke-width="1.8"/>
<line x1="85.35" y1="410.16" x2="101.35" y2="410.16" stroke="#000" stroke-width="2.4"/>
<rect x="78.65" y="413.72" width="29.4" height="48.28" fill="url(#hatchE)" stroke="#000" stroke-width="1.7"/>
<line x1="137.5" y1="374.76" x2="137.5" y2="367.14" stroke="#000" stroke-width="1.8"/>
<line x1="129.5" y1="367.14" x2="145.5" y2="367.14" stroke="#000" stroke-width="2.4"/>
<rect x="122" y="374.76" width="31" height="87.24" fill="#000"/>
<text x="93.3" y="401.68" font-size="7.6" font-weight="bold" text-anchor="middle" fill="#000" stroke="#000" stroke-width="0.3">***</text>
<text x="137.9" y="361.48" font-size="7.6" font-weight="bold" text-anchor="middle" fill="#000" stroke="#000" stroke-width="0.3">***</text>
<rect x="33.2" y="335.6" width="13.6" height="6.4" fill="#fff" stroke="#000" stroke-width="1.9"/>
<rect x="32.6" y="349.6" width="14.8" height="6.6" fill="url(#hatchL)" stroke="#000" stroke-width="1.6"/>
<rect x="32.2" y="363.6" width="15.6" height="8.2" fill="#000"/>
<text x="54.9" y="342.4" font-size="10.1" text-anchor="start" fill="#000" stroke="#000" stroke-width="0.15">Control</text>
<text x="54.9" y="356.5" font-size="10.1" text-anchor="start" fill="#000" stroke="#000" stroke-width="0.15">F-IRKO</text>
<text x="54.9" y="370.7" font-size="10.2" text-anchor="start" fill="#000" stroke="#000" stroke-width="0.15">F-IR/IGFRKO</text>
<text x="165.2" y="327.4" font-size="19.5" font-weight="bold" text-anchor="start" fill="#000">F</text>
<line x1="201.5" y1="337.05" x2="201.5" y2="462.55" stroke="#000" stroke-width="1.5"/>
<line x1="199.3" y1="461.8" x2="201.5" y2="461.8" stroke="#000" stroke-width="1.5"/>
<text font-size="6.8" font-weight="bold" text-anchor="end" fill="#000" stroke="#000" stroke-width="0.3" transform="translate(198.7 464.11) scale(0.9 1)">0.0</text>
<line x1="199.3" y1="430.8" x2="201.5" y2="430.8" stroke="#000" stroke-width="1.5"/>
<text font-size="6.8" font-weight="bold" text-anchor="end" fill="#000" stroke="#000" stroke-width="0.3" transform="translate(198.7 433.11) scale(0.9 1)">0.5</text>
<line x1="199.3" y1="399.8" x2="201.5" y2="399.8" stroke="#000" stroke-width="1.5"/>
<text font-size="6.8" font-weight="bold" text-anchor="end" fill="#000" stroke="#000" stroke-width="0.3" transform="translate(198.7 402.11) scale(0.9 1)">1.0</text>
<line x1="199.3" y1="368.8" x2="201.5" y2="368.8" stroke="#000" stroke-width="1.5"/>
<text font-size="6.8" font-weight="bold" text-anchor="end" fill="#000" stroke="#000" stroke-width="0.3" transform="translate(198.7 371.11) scale(0.9 1)">1.5</text>
<line x1="199.3" y1="337.8" x2="201.5" y2="337.8" stroke="#000" stroke-width="1.5"/>
<text font-size="6.8" font-weight="bold" text-anchor="end" fill="#000" stroke="#000" stroke-width="0.3" transform="translate(198.7 340.11) scale(0.9 1)">2.0</text>
<line x1="201.5" y1="461.8" x2="344" y2="461.8" stroke="#000" stroke-width="1.5"/>
<text font-size="9.75" font-weight="bold" text-anchor="middle" fill="#000" stroke="#000" stroke-width="0.42" transform="translate(184.1 406.1) rotate(-90)">Fold Change</text>
<line x1="209.75" y1="399.8" x2="209.75" y2="392.36" stroke="#000" stroke-width="1.3"/>
<line x1="207.75" y1="392.36" x2="211.75" y2="392.36" stroke="#000" stroke-width="1.7"/>
<rect x="206.43" y="400.43" width="6.65" height="61.38" fill="#fff" stroke="#000" stroke-width="1.25"/>
<line x1="220.05" y1="432.04" x2="220.05" y2="425.22" stroke="#000" stroke-width="1.3"/>
<line x1="218.05" y1="425.22" x2="222.05" y2="425.22" stroke="#000" stroke-width="1.7"/>
<rect x="216.72" y="432.67" width="6.65" height="29.13" fill="url(#hatchF)" stroke="#000" stroke-width="1.25"/>
<line x1="229.75" y1="427.7" x2="229.75" y2="420.26" stroke="#000" stroke-width="1.3"/>
<line x1="227.75" y1="420.26" x2="231.75" y2="420.26" stroke="#000" stroke-width="1.7"/>
<rect x="225.8" y="427.7" width="7.9" height="34.1" fill="#000"/>
<line x1="220.05" y1="461.8" x2="220.05" y2="464.6" stroke="#000" stroke-width="1.3"/>
<text font-size="10.2" font-weight="bold" text-anchor="middle" fill="#000" stroke="#000" stroke-width="0.3" transform="translate(217.65 475.6) scale(0.9 1)">G6Pase</text>
<line x1="245.95" y1="399.8" x2="245.95" y2="388.02" stroke="#000" stroke-width="1.3"/>
<line x1="243.95" y1="388.02" x2="247.95" y2="388.02" stroke="#000" stroke-width="1.7"/>
<rect x="242.62" y="400.43" width="6.65" height="61.38" fill="#fff" stroke="#000" stroke-width="1.25"/>
<line x1="256.25" y1="435.14" x2="256.25" y2="432.66" stroke="#000" stroke-width="1.3"/>
<line x1="254.25" y1="432.66" x2="258.25" y2="432.66" stroke="#000" stroke-width="1.7"/>
<rect x="252.93" y="435.76" width="6.65" height="26.04" fill="url(#hatchF)" stroke="#000" stroke-width="1.25"/>
<line x1="266.25" y1="435.14" x2="266.25" y2="431.42" stroke="#000" stroke-width="1.3"/>
<line x1="264.25" y1="431.42" x2="268.25" y2="431.42" stroke="#000" stroke-width="1.7"/>
<rect x="262.3" y="435.14" width="7.9" height="26.66" fill="#000"/>
<line x1="256.25" y1="461.8" x2="256.25" y2="464.6" stroke="#000" stroke-width="1.3"/>
<text font-size="10.2" font-weight="bold" text-anchor="middle" fill="#000" stroke="#000" stroke-width="0.3" transform="translate(258.6 475.6) scale(0.94 1)">PEPCK</text>
<line x1="283.35" y1="399.8" x2="283.35" y2="392.98" stroke="#000" stroke-width="1.3"/>
<line x1="281.35" y1="392.98" x2="285.35" y2="392.98" stroke="#000" stroke-width="1.7"/>
<rect x="280.02" y="400.43" width="6.65" height="61.38" fill="#fff" stroke="#000" stroke-width="1.25"/>
<line x1="293.25" y1="389.26" x2="293.25" y2="383.68" stroke="#000" stroke-width="1.3"/>
<line x1="291.25" y1="383.68" x2="295.25" y2="383.68" stroke="#000" stroke-width="1.7"/>
<rect x="289.93" y="389.88" width="6.65" height="71.92" fill="url(#hatchF)" stroke="#000" stroke-width="1.25"/>
<line x1="303.05" y1="371.28" x2="303.05" y2="365.08" stroke="#000" stroke-width="1.3"/>
<line x1="301.05" y1="365.08" x2="305.05" y2="365.08" stroke="#000" stroke-width="1.7"/>
<rect x="299.1" y="371.28" width="7.9" height="90.52" fill="#000"/>
<line x1="293.25" y1="461.8" x2="293.25" y2="464.6" stroke="#000" stroke-width="1.3"/>
<text font-size="10.2" font-weight="bold" text-anchor="middle" fill="#000" stroke="#000" stroke-width="0.3" transform="translate(294.5 475.6) scale(0.88 1)">FBP1</text>
<line x1="320.15" y1="399.8" x2="320.15" y2="392.36" stroke="#000" stroke-width="1.3"/>
<line x1="318.15" y1="392.36" x2="322.15" y2="392.36" stroke="#000" stroke-width="1.7"/>
<rect x="316.82" y="400.43" width="6.65" height="61.38" fill="#fff" stroke="#000" stroke-width="1.25"/>
<line x1="330.25" y1="355.16" x2="330.25" y2="348.34" stroke="#000" stroke-width="1.3"/>
<line x1="328.25" y1="348.34" x2="332.25" y2="348.34" stroke="#000" stroke-width="1.7"/>
<rect x="326.93" y="355.79" width="6.65" height="106.01" fill="url(#hatchF)" stroke="#000" stroke-width="1.25"/>
<line x1="339.65" y1="358.88" x2="339.65" y2="337.8" stroke="#000" stroke-width="1.3"/>
<line x1="337.65" y1="337.8" x2="341.65" y2="337.8" stroke="#000" stroke-width="1.7"/>
<rect x="335.7" y="358.88" width="7.9" height="102.92" fill="#000"/>
<line x1="330.25" y1="461.8" x2="330.25" y2="464.6" stroke="#000" stroke-width="1.3"/>
<text font-size="10.2" font-weight="bold" text-anchor="middle" fill="#000" stroke="#000" stroke-width="0.3" transform="translate(329.85 475.6) scale(0.92 1)">PC</text>
<text x="221" y="425.26" font-size="16" font-weight="bold" text-anchor="middle" fill="#000" stroke="#000" stroke-width="0.35">*</text>
<text x="232" y="421.36" font-size="16" font-weight="bold" text-anchor="middle" fill="#000" stroke="#000" stroke-width="0.35">*</text>
<text x="257.5" y="434.06" font-size="16" font-weight="bold" text-anchor="middle" fill="#000" stroke="#000" stroke-width="0.35">*</text>
<text x="268" y="434.06" font-size="16" font-weight="bold" text-anchor="middle" fill="#000" stroke="#000" stroke-width="0.35">*</text>
<text x="329" y="347.45" font-size="15" font-weight="bold" text-anchor="middle" fill="#000" stroke="#000" stroke-width="0.35">**</text>
<text x="357.5" y="327.5" font-size="19.5" font-weight="bold" text-anchor="start" fill="#000">G</text>
<line x1="377.2" y1="342.25" x2="377.2" y2="462.55" stroke="#000" stroke-width="1.5"/>
<line x1="374.7" y1="461.8" x2="377.2" y2="461.8" stroke="#000" stroke-width="1.5"/>
<text font-size="8.6" font-weight="bold" text-anchor="end" fill="#000" stroke="#000" stroke-width="0.3" transform="translate(374 464.38) scale(0.76 1)">0</text>
<line x1="374.7" y1="422.2" x2="377.2" y2="422.2" stroke="#000" stroke-width="1.5"/>
<text font-size="8.6" font-weight="bold" text-anchor="end" fill="#000" stroke="#000" stroke-width="0.3" transform="translate(374 424.78) scale(0.76 1)">5</text>
<line x1="374.7" y1="382.6" x2="377.2" y2="382.6" stroke="#000" stroke-width="1.5"/>
<text font-size="8.6" font-weight="bold" text-anchor="end" fill="#000" stroke="#000" stroke-width="0.3" transform="translate(374 385.18) scale(0.76 1)">10</text>
<line x1="374.7" y1="343" x2="377.2" y2="343" stroke="#000" stroke-width="1.5"/>
<text font-size="8.6" font-weight="bold" text-anchor="end" fill="#000" stroke="#000" stroke-width="0.3" transform="translate(374 345.58) scale(0.76 1)">15</text>
<line x1="377.2" y1="461.8" x2="506" y2="461.8" stroke="#000" stroke-width="1.5"/>
<text font-size="9.8" font-weight="bold" text-anchor="middle" fill="#000" stroke="#000" stroke-width="0.42" transform="translate(362.5 404) rotate(-90)">Fold Change</text>
<line x1="392.4" y1="453.88" x2="392.4" y2="453.48" stroke="#000" stroke-width="1.7"/>
<line x1="389.15" y1="453.48" x2="395.65" y2="453.48" stroke="#000" stroke-width="2.3"/>
<rect x="386.75" y="454.63" width="11.3" height="7.17" fill="#fff" stroke="#000" stroke-width="1.5"/>
<line x1="409.6" y1="425.76" x2="409.6" y2="419.82" stroke="#000" stroke-width="1.7"/>
<line x1="406.35" y1="419.82" x2="412.85" y2="419.82" stroke="#000" stroke-width="2.3"/>
<rect x="403.95" y="426.51" width="11.3" height="35.29" fill="url(#hatchG)" stroke="#000" stroke-width="1.5"/>
<line x1="426.8" y1="425.37" x2="426.8" y2="421.01" stroke="#000" stroke-width="1.7"/>
<line x1="423.55" y1="421.01" x2="430.05" y2="421.01" stroke="#000" stroke-width="2.3"/>
<rect x="420.4" y="425.37" width="12.8" height="36.43" fill="#000"/>
<line x1="409.6" y1="461.8" x2="409.6" y2="464.6" stroke="#000" stroke-width="1.3"/>
<text font-size="10.2" font-weight="bold" text-anchor="middle" fill="#000" stroke="#000" stroke-width="0.3" transform="translate(408.65 476.2) scale(0.94 1)">PKM2</text>
<line x1="456.2" y1="453.88" x2="456.2" y2="451.5" stroke="#000" stroke-width="1.7"/>
<line x1="452.95" y1="451.5" x2="459.45" y2="451.5" stroke="#000" stroke-width="2.3"/>
<rect x="450.55" y="454.63" width="11.3" height="7.17" fill="#fff" stroke="#000" stroke-width="1.5"/>
<line x1="473.6" y1="423.78" x2="473.6" y2="417.45" stroke="#000" stroke-width="1.7"/>
<line x1="470.35" y1="417.45" x2="476.85" y2="417.45" stroke="#000" stroke-width="2.3"/>
<rect x="467.95" y="424.53" width="11.3" height="37.27" fill="url(#hatchG)" stroke="#000" stroke-width="1.5"/>
<line x1="490.6" y1="378.64" x2="490.6" y2="365.18" stroke="#000" stroke-width="1.7"/>
<line x1="487.35" y1="365.18" x2="493.85" y2="365.18" stroke="#000" stroke-width="2.3"/>
<rect x="484.2" y="378.64" width="12.8" height="83.16" fill="#000"/>
<line x1="473.6" y1="461.8" x2="473.6" y2="464.6" stroke="#000" stroke-width="1.3"/>
<text font-size="10.2" font-weight="bold" text-anchor="middle" fill="#000" stroke="#000" stroke-width="0.3" transform="translate(475.4 476.2) scale(0.92 1)">FGF21</text>
<text x="406.5" y="417.39" font-size="14.5" font-weight="bold" text-anchor="middle" fill="#000" stroke="#000" stroke-width="0.35">**</text>
<text x="427" y="421.39" font-size="14.5" font-weight="bold" text-anchor="middle" fill="#000" stroke="#000" stroke-width="0.35">***</text>
<text x="473.2" y="417" font-size="14.5" font-weight="bold" text-anchor="middle" fill="#000" stroke="#000" stroke-width="0.35">***</text>
<text x="488.2" y="364.75" font-size="15" font-weight="bold" text-anchor="middle" fill="#000" stroke="#000" stroke-width="0.35">***</text>
<text x="4" y="505.4" font-size="19.5" font-weight="bold" text-anchor="start" fill="#000">H</text>
<line x1="25.8" y1="516.65" x2="25.8" y2="633.85" stroke="#000" stroke-width="1.5"/>
<line x1="23.3" y1="633.1" x2="25.8" y2="633.1" stroke="#000" stroke-width="1.5"/>
<text font-size="10.2" font-weight="bold" text-anchor="end" fill="#000" stroke="#000" stroke-width="0.3" transform="translate(22.6 636.16) scale(0.66 1)">0</text>
<line x1="23.3" y1="609.96" x2="25.8" y2="609.96" stroke="#000" stroke-width="1.5"/>
<text font-size="10.2" font-weight="bold" text-anchor="end" fill="#000" stroke="#000" stroke-width="0.3" transform="translate(22.6 613.02) scale(0.66 1)">2</text>
<line x1="23.3" y1="586.82" x2="25.8" y2="586.82" stroke="#000" stroke-width="1.5"/>
<text font-size="10.2" font-weight="bold" text-anchor="end" fill="#000" stroke="#000" stroke-width="0.3" transform="translate(22.6 589.88) scale(0.66 1)">4</text>
<line x1="23.3" y1="563.68" x2="25.8" y2="563.68" stroke="#000" stroke-width="1.5"/>
<text font-size="10.2" font-weight="bold" text-anchor="end" fill="#000" stroke="#000" stroke-width="0.3" transform="translate(22.6 566.74) scale(0.66 1)">6</text>
<line x1="23.3" y1="540.54" x2="25.8" y2="540.54" stroke="#000" stroke-width="1.5"/>
<text font-size="10.2" font-weight="bold" text-anchor="end" fill="#000" stroke="#000" stroke-width="0.3" transform="translate(22.6 543.6) scale(0.66 1)">8</text>
<line x1="23.3" y1="517.4" x2="25.8" y2="517.4" stroke="#000" stroke-width="1.5"/>
<text font-size="10.2" font-weight="bold" text-anchor="end" fill="#000" stroke="#000" stroke-width="0.3" transform="translate(22.6 520.46) scale(0.66 1)">10</text>
<line x1="25.8" y1="633.1" x2="170" y2="633.1" stroke="#000" stroke-width="1.5"/>
<text font-size="9.7" font-weight="bold" text-anchor="middle" fill="#000" stroke="#000" stroke-width="0.42" transform="translate(14.3 582.7) rotate(-90)">Fold Change</text>
<line x1="39.1" y1="621.53" x2="39.1" y2="620.95" stroke="#000" stroke-width="1.5"/>
<line x1="36.6" y1="620.95" x2="41.6" y2="620.95" stroke="#000" stroke-width="2"/>
<rect x="34.9" y="622.23" width="8.4" height="10.87" fill="#fff" stroke="#000" stroke-width="1.4"/>
<line x1="51.5" y1="615.75" x2="51.5" y2="614.94" stroke="#000" stroke-width="1.5"/>
<line x1="49" y1="614.94" x2="54" y2="614.94" stroke="#000" stroke-width="2"/>
<rect x="47.3" y="616.45" width="8.4" height="16.66" fill="url(#hatchG)" stroke="#000" stroke-width="1.4"/>
<line x1="64.3" y1="617.13" x2="64.3" y2="616.21" stroke="#000" stroke-width="1.5"/>
<line x1="61.8" y1="616.21" x2="66.8" y2="616.21" stroke="#000" stroke-width="2"/>
<rect x="59.4" y="617.13" width="9.8" height="15.97" fill="#000"/>
<line x1="51.5" y1="633.1" x2="51.5" y2="635.9" stroke="#000" stroke-width="1.3"/>
<text font-size="10.2" font-weight="bold" text-anchor="middle" fill="#000" stroke="#000" stroke-width="0.3" transform="translate(55.25 646.5) scale(0.88 1)">FAS</text>
<line x1="87.2" y1="621.53" x2="87.2" y2="620.72" stroke="#000" stroke-width="1.5"/>
<line x1="84.7" y1="620.72" x2="89.7" y2="620.72" stroke="#000" stroke-width="2"/>
<rect x="83" y="622.23" width="8.4" height="10.87" fill="#fff" stroke="#000" stroke-width="1.4"/>
<line x1="99.5" y1="568.77" x2="99.5" y2="553.04" stroke="#000" stroke-width="1.5"/>
<line x1="97" y1="553.04" x2="102" y2="553.04" stroke="#000" stroke-width="2"/>
<rect x="95.3" y="569.47" width="8.4" height="63.63" fill="url(#hatchG)" stroke="#000" stroke-width="1.4"/>
<line x1="112.4" y1="576.29" x2="112.4" y2="560.56" stroke="#000" stroke-width="1.5"/>
<line x1="109.9" y1="560.56" x2="114.9" y2="560.56" stroke="#000" stroke-width="2"/>
<rect x="107.5" y="576.29" width="9.8" height="56.81" fill="#000"/>
<line x1="99.5" y1="633.1" x2="99.5" y2="635.9" stroke="#000" stroke-width="1.3"/>
<text font-size="10.2" font-weight="bold" text-anchor="middle" fill="#000" stroke="#000" stroke-width="0.3" transform="translate(102.15 646.5) scale(0.88 1)">ACC1</text>
<line x1="134.7" y1="621.53" x2="134.7" y2="620.14" stroke="#000" stroke-width="1.5"/>
<line x1="132.2" y1="620.14" x2="137.2" y2="620.14" stroke="#000" stroke-width="2"/>
<rect x="130.5" y="622.23" width="8.4" height="10.87" fill="#fff" stroke="#000" stroke-width="1.4"/>
<line x1="148.1" y1="538.8" x2="148.1" y2="528.85" stroke="#000" stroke-width="1.5"/>
<line x1="145.6" y1="528.85" x2="150.6" y2="528.85" stroke="#000" stroke-width="2"/>
<rect x="143.9" y="539.5" width="8.4" height="93.6" fill="url(#hatchG)" stroke="#000" stroke-width="1.4"/>
<line x1="161.2" y1="546.33" x2="161.2" y2="526.31" stroke="#000" stroke-width="1.5"/>
<line x1="158.7" y1="526.31" x2="163.7" y2="526.31" stroke="#000" stroke-width="2"/>
<rect x="156.3" y="546.33" width="9.8" height="86.77" fill="#000"/>
<line x1="148.1" y1="633.1" x2="148.1" y2="635.9" stroke="#000" stroke-width="1.3"/>
<text font-size="10.2" font-weight="bold" text-anchor="middle" fill="#000" stroke="#000" stroke-width="0.3" transform="translate(149.3 646.5) scale(0.86 1)">SCD1</text>
<text x="51.3" y="614.06" font-size="16" font-weight="bold" text-anchor="middle" fill="#000" stroke="#000" stroke-width="0.35">*</text>
<text x="65.3" y="615.86" font-size="16" font-weight="bold" text-anchor="middle" fill="#000" stroke="#000" stroke-width="0.35">*</text>
<text x="101.3" y="545.96" font-size="16" font-weight="bold" text-anchor="middle" fill="#000" stroke="#000" stroke-width="0.35">**</text>
<text x="111.6" y="559.76" font-size="16" font-weight="bold" text-anchor="middle" fill="#000" stroke="#000" stroke-width="0.35">*</text>
<text x="145.9" y="520.66" font-size="16" font-weight="bold" text-anchor="middle" fill="#000" stroke="#000" stroke-width="0.35">***</text>
<text x="162.1" y="529.36" font-size="16" font-weight="bold" text-anchor="middle" fill="#000" stroke="#000" stroke-width="0.35">**</text>
<text x="172.2" y="505.3" font-size="19.5" font-weight="bold" text-anchor="start" fill="#000">I</text>
<line x1="201.6" y1="515.57" x2="201.6" y2="634.35" stroke="#000" stroke-width="1.5"/>
<line x1="199.1" y1="633.6" x2="201.6" y2="633.6" stroke="#000" stroke-width="1.5"/>
<text font-size="9.5" font-weight="bold" text-anchor="end" fill="#000" stroke="#000" stroke-width="0.3" transform="translate(198.4 636.45) scale(0.72 1)">0</text>
<line x1="199.1" y1="604.28" x2="201.6" y2="604.28" stroke="#000" stroke-width="1.5"/>
<text font-size="9.5" font-weight="bold" text-anchor="end" fill="#000" stroke="#000" stroke-width="0.3" transform="translate(198.4 607.13) scale(0.72 1)">2</text>
<line x1="199.1" y1="574.96" x2="201.6" y2="574.96" stroke="#000" stroke-width="1.5"/>
<text font-size="9.5" font-weight="bold" text-anchor="end" fill="#000" stroke="#000" stroke-width="0.3" transform="translate(198.4 577.81) scale(0.72 1)">4</text>
<line x1="199.1" y1="545.64" x2="201.6" y2="545.64" stroke="#000" stroke-width="1.5"/>
<text font-size="9.5" font-weight="bold" text-anchor="end" fill="#000" stroke="#000" stroke-width="0.3" transform="translate(198.4 548.49) scale(0.72 1)">6</text>
<line x1="199.1" y1="516.32" x2="201.6" y2="516.32" stroke="#000" stroke-width="1.5"/>
<text font-size="9.5" font-weight="bold" text-anchor="end" fill="#000" stroke="#000" stroke-width="0.3" transform="translate(198.4 519.17) scale(0.72 1)">8</text>
<line x1="201.6" y1="633.6" x2="344.2" y2="633.6" stroke="#000" stroke-width="1.5"/>
<text font-size="9.7" font-weight="bold" text-anchor="middle" fill="#000" stroke="#000" stroke-width="0.42" transform="translate(188.7 582) rotate(-90)">Fold Change</text>
<line x1="213.1" y1="618.94" x2="213.1" y2="616.74" stroke="#000" stroke-width="1.5"/>
<line x1="210.6" y1="616.74" x2="215.6" y2="616.74" stroke="#000" stroke-width="2"/>
<rect x="209" y="619.64" width="8.2" height="13.96" fill="#fff" stroke="#000" stroke-width="1.4"/>
<line x1="226.1" y1="599.44" x2="226.1" y2="593.29" stroke="#000" stroke-width="1.5"/>
<line x1="223.6" y1="593.29" x2="228.6" y2="593.29" stroke="#000" stroke-width="2"/>
<rect x="222" y="600.14" width="8.2" height="33.46" fill="url(#hatchG)" stroke="#000" stroke-width="1.4"/>
<line x1="239.1" y1="611.32" x2="239.1" y2="607.51" stroke="#000" stroke-width="1.5"/>
<line x1="236.6" y1="607.51" x2="241.6" y2="607.51" stroke="#000" stroke-width="2"/>
<rect x="234.3" y="611.32" width="9.6" height="22.28" fill="#000"/>
<line x1="226.1" y1="633.6" x2="226.1" y2="636.4" stroke="#000" stroke-width="1.3"/>
<text font-size="10.2" font-weight="bold" text-anchor="middle" fill="#000" stroke="#000" stroke-width="0.3" transform="translate(231 646.5) scale(0.95 1)">F4/80</text>
<line x1="260.6" y1="618.79" x2="260.6" y2="614.54" stroke="#000" stroke-width="1.5"/>
<line x1="258.1" y1="614.54" x2="263.1" y2="614.54" stroke="#000" stroke-width="2"/>
<rect x="256.5" y="619.49" width="8.2" height="14.11" fill="#fff" stroke="#000" stroke-width="1.4"/>
<line x1="273.6" y1="558.83" x2="273.6" y2="528.05" stroke="#000" stroke-width="1.5"/>
<line x1="271.1" y1="528.05" x2="276.1" y2="528.05" stroke="#000" stroke-width="2"/>
<rect x="269.5" y="559.53" width="8.2" height="74.07" fill="url(#hatchG)" stroke="#000" stroke-width="1.4"/>
<line x1="286.1" y1="576.43" x2="286.1" y2="563.23" stroke="#000" stroke-width="1.5"/>
<line x1="283.6" y1="563.23" x2="288.6" y2="563.23" stroke="#000" stroke-width="2"/>
<rect x="281.3" y="576.43" width="9.6" height="57.17" fill="#000"/>
<line x1="273.6" y1="633.6" x2="273.6" y2="636.4" stroke="#000" stroke-width="1.3"/>
<text font-size="10.2" font-weight="bold" text-anchor="middle" fill="#000" stroke="#000" stroke-width="0.3" transform="translate(275 646.5) scale(0.87 1)">TNFa</text>
<line x1="308.6" y1="618.06" x2="308.6" y2="616.89" stroke="#000" stroke-width="1.5"/>
<line x1="306.1" y1="616.89" x2="311.1" y2="616.89" stroke="#000" stroke-width="2"/>
<rect x="304.5" y="618.76" width="8.2" height="14.84" fill="#fff" stroke="#000" stroke-width="1.4"/>
<line x1="321.1" y1="571.3" x2="321.1" y2="563.09" stroke="#000" stroke-width="1.5"/>
<line x1="318.6" y1="563.09" x2="323.6" y2="563.09" stroke="#000" stroke-width="2"/>
<rect x="317" y="572" width="8.2" height="61.6" fill="url(#hatchG)" stroke="#000" stroke-width="1.4"/>
<line x1="333.7" y1="546.37" x2="333.7" y2="527.46" stroke="#000" stroke-width="1.5"/>
<line x1="331.2" y1="527.46" x2="336.2" y2="527.46" stroke="#000" stroke-width="2"/>
<rect x="328.9" y="546.37" width="9.6" height="87.23" fill="#000"/>
<line x1="321.1" y1="633.6" x2="321.1" y2="636.4" stroke="#000" stroke-width="1.3"/>
<text font-size="10.2" font-weight="bold" text-anchor="middle" fill="#000" stroke="#000" stroke-width="0.3" transform="translate(323 646.5) scale(0.89 1)">CD11c</text>
<text x="226.9" y="591.96" font-size="16" font-weight="bold" text-anchor="middle" fill="#000" stroke="#000" stroke-width="0.35">*</text>
<text x="273.1" y="529.06" font-size="16" font-weight="bold" text-anchor="middle" fill="#000" stroke="#000" stroke-width="0.35">*</text>
<text x="286.3" y="561.06" font-size="16" font-weight="bold" text-anchor="middle" fill="#000" stroke="#000" stroke-width="0.35">*</text>
<text x="317.9" y="558.76" font-size="16" font-weight="bold" text-anchor="middle" fill="#000" stroke="#000" stroke-width="0.35">**</text>
<text x="334.8" y="528.16" font-size="16" font-weight="bold" text-anchor="middle" fill="#000" stroke="#000" stroke-width="0.35">***</text>
<text x="355.4" y="503.4" font-size="19.5" font-weight="bold" text-anchor="start" fill="#000">J</text>
<line x1="375" y1="517.9" x2="375" y2="571.75" stroke="#000" stroke-width="1.5"/>
<line x1="375" y1="578.55" x2="375" y2="633.75" stroke="#000" stroke-width="1.5"/>
<line x1="372.5" y1="571" x2="375" y2="571" stroke="#000" stroke-width="1.5"/>
<text font-size="8.6" font-weight="bold" text-anchor="end" fill="#000" stroke="#000" stroke-width="0.3" transform="translate(371.8 573.6) scale(0.8 1)">15</text>
<line x1="372.5" y1="553.55" x2="375" y2="553.55" stroke="#000" stroke-width="1.5"/>
<text font-size="8.6" font-weight="bold" text-anchor="end" fill="#000" stroke="#000" stroke-width="0.3" transform="translate(371.8 556.15) scale(0.8 1)">20</text>
<line x1="372.5" y1="536.1" x2="375" y2="536.1" stroke="#000" stroke-width="1.5"/>
<text font-size="8.6" font-weight="bold" text-anchor="end" fill="#000" stroke="#000" stroke-width="0.3" transform="translate(371.8 538.7) scale(0.8 1)">25</text>
<line x1="372.5" y1="518.65" x2="375" y2="518.65" stroke="#000" stroke-width="1.5"/>
<text font-size="8.6" font-weight="bold" text-anchor="end" fill="#000" stroke="#000" stroke-width="0.3" transform="translate(371.8 521.25) scale(0.8 1)">30</text>
<line x1="372.5" y1="633" x2="375" y2="633" stroke="#000" stroke-width="1.5"/>
<text font-size="8.6" font-weight="bold" text-anchor="end" fill="#000" stroke="#000" stroke-width="0.3" transform="translate(371.8 635.6) scale(0.8 1)">0</text>
<line x1="372.5" y1="615.1" x2="375" y2="615.1" stroke="#000" stroke-width="1.5"/>
<text font-size="8.6" font-weight="bold" text-anchor="end" fill="#000" stroke="#000" stroke-width="0.3" transform="translate(371.8 617.7) scale(0.8 1)">1</text>
<line x1="372.5" y1="597.2" x2="375" y2="597.2" stroke="#000" stroke-width="1.5"/>
<text font-size="8.6" font-weight="bold" text-anchor="end" fill="#000" stroke="#000" stroke-width="0.3" transform="translate(371.8 599.8) scale(0.8 1)">2</text>
<line x1="372.5" y1="579.3" x2="375" y2="579.3" stroke="#000" stroke-width="1.5"/>
<text font-size="8.6" font-weight="bold" text-anchor="end" fill="#000" stroke="#000" stroke-width="0.3" transform="translate(371.8 581.9) scale(0.8 1)">3</text>
<line x1="375" y1="633" x2="517" y2="633" stroke="#000" stroke-width="1.5"/>
<text font-size="9.7" font-weight="bold" text-anchor="middle" fill="#000" stroke="#000" stroke-width="0.42" transform="translate(360.5 581.3) rotate(-90)">Fold Change</text>
<line x1="387" y1="615.1" x2="387" y2="613.31" stroke="#000" stroke-width="1.5"/>
<line x1="384.5" y1="613.31" x2="389.5" y2="613.31" stroke="#000" stroke-width="2"/>
<rect x="382.9" y="615.8" width="8.2" height="17.2" fill="#fff" stroke="#000" stroke-width="1.4"/>
<line x1="400.1" y1="607.94" x2="400.1" y2="605.79" stroke="#000" stroke-width="1.5"/>
<line x1="397.6" y1="605.79" x2="402.6" y2="605.79" stroke="#000" stroke-width="2"/>
<rect x="396" y="608.64" width="8.2" height="24.36" fill="url(#hatchG)" stroke="#000" stroke-width="1.4"/>
<line x1="412.3" y1="609.73" x2="412.3" y2="607.04" stroke="#000" stroke-width="1.5"/>
<line x1="409.8" y1="607.04" x2="414.8" y2="607.04" stroke="#000" stroke-width="2"/>
<rect x="407.5" y="609.73" width="9.6" height="23.27" fill="#000"/>
<line x1="400.1" y1="633" x2="400.1" y2="635.8" stroke="#000" stroke-width="1.3"/>
<text font-size="10.2" font-weight="bold" text-anchor="middle" fill="#000" stroke="#000" stroke-width="0.3" transform="translate(401.7 646.5) scale(0.96 1)">TGFβ</text>
<line x1="435.2" y1="615.28" x2="435.2" y2="612.95" stroke="#000" stroke-width="1.5"/>
<line x1="432.7" y1="612.95" x2="437.7" y2="612.95" stroke="#000" stroke-width="2"/>
<rect x="431.1" y="615.98" width="8.2" height="17.02" fill="#fff" stroke="#000" stroke-width="1.4"/>
<line x1="447.6" y1="606.51" x2="447.6" y2="600.42" stroke="#000" stroke-width="1.5"/>
<line x1="445.1" y1="600.42" x2="450.1" y2="600.42" stroke="#000" stroke-width="2"/>
<rect x="443.5" y="607.21" width="8.2" height="25.79" fill="url(#hatchG)" stroke="#000" stroke-width="1.4"/>
<line x1="460.4" y1="594.51" x2="460.4" y2="590.22" stroke="#000" stroke-width="1.5"/>
<line x1="457.9" y1="590.22" x2="462.9" y2="590.22" stroke="#000" stroke-width="2"/>
<rect x="455.6" y="594.51" width="9.6" height="38.49" fill="#000"/>
<line x1="447.6" y1="633" x2="447.6" y2="635.8" stroke="#000" stroke-width="1.3"/>
<text font-size="10.2" font-weight="bold" text-anchor="middle" fill="#000" stroke="#000" stroke-width="0.3" transform="translate(448.45 646.5) scale(0.99 1)">αSMA</text>
<line x1="482.9" y1="615.28" x2="482.9" y2="610.09" stroke="#000" stroke-width="1.5"/>
<line x1="480.4" y1="610.09" x2="485.4" y2="610.09" stroke="#000" stroke-width="2"/>
<rect x="479" y="615.98" width="7.4" height="17.02" fill="#fff" stroke="#000" stroke-width="1.4"/>
<rect x="490.8" y="579.3" width="9.6" height="53.7" fill="url(#hatchG)"/>
<line x1="491.5" y1="579.3" x2="491.5" y2="633" stroke="#000" stroke-width="1.4"/>
<line x1="499.7" y1="579.3" x2="499.7" y2="633" stroke="#000" stroke-width="1.4"/>
<line x1="495.9" y1="566" x2="495.9" y2="570.5" stroke="#000" stroke-width="1.8"/>
<line x1="493.6" y1="566.2" x2="498.2" y2="566.2" stroke="#000" stroke-width="2.4"/>
<line x1="495.6" y1="633" x2="495.6" y2="635.8" stroke="#000" stroke-width="1.3"/>
<rect x="503.7" y="579.3" width="10.5" height="53.7" fill="#000"/>
<line x1="508.9" y1="557" x2="508.9" y2="538.3" stroke="#000" stroke-width="1.5"/>
<line x1="506.4" y1="538.3" x2="511.4" y2="538.3" stroke="#000" stroke-width="2"/>
<rect x="503.7" y="556.5" width="10.5" height="14.5" fill="#000"/>
<text font-size="10.2" font-weight="bold" text-anchor="middle" fill="#000" stroke="#000" stroke-width="0.3" transform="translate(497.2 646.4) scale(0.87 1)">Col1a1</text>
<text x="460.4" y="589.26" font-size="16" font-weight="bold" text-anchor="middle" fill="#000" stroke="#000" stroke-width="0.35">*</text>
<text x="493.7" y="564.76" font-size="16" font-weight="bold" text-anchor="middle" fill="#000" stroke="#000" stroke-width="0.35">**</text>
<text x="508" y="542.06" font-size="16" font-weight="bold" text-anchor="middle" fill="#000" stroke="#000" stroke-width="0.35">**</text>
<rect x="385.1" y="520.5" width="13.8" height="6.4" fill="#fff" stroke="#000" stroke-width="1.9"/>
<rect x="384.6" y="534.8" width="14.8" height="6.2" fill="url(#hatchL)" stroke="#000" stroke-width="1.6"/>
<rect x="384.2" y="548.5" width="15.6" height="8.6" fill="#000"/>
<text x="406.3" y="527.3" font-size="10.1" text-anchor="start" fill="#000" stroke="#000" stroke-width="0.15">Control</text>
<text x="406.3" y="541.6" font-size="10.1" text-anchor="start" fill="#000" stroke="#000" stroke-width="0.15">F-IRKO</text>
<text x="406.3" y="556" font-size="10.3" text-anchor="start" fill="#000" stroke="#000" stroke-width="0.15">F-IR/IGFRKO</text>
</svg>
</body></html>
